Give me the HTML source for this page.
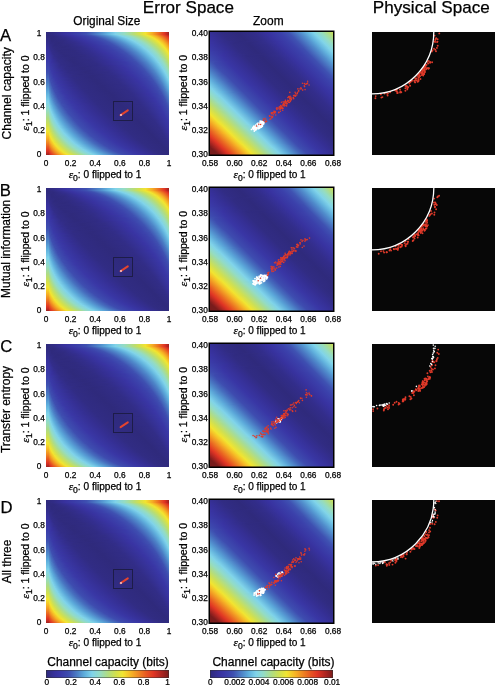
<!DOCTYPE html>
<html><head><meta charset="utf-8"><style>
html,body{margin:0;padding:0;background:#fff;}
body{width:495px;height:685px;position:relative;overflow:hidden;}
.a{position:absolute;}
.h1{width:123px;height:122.6px;background:linear-gradient(90deg,#2f2a7c 0.5px,#312c85 7.5px,#38329f 19.5px,#3b41ab 32.5px,#3e50b1 40.5px,#518ecd 54.5px,#64b5df 62.5px,#7fd2e9 69.5px,#95dcc2 78.5px,#badd72 88.5px,#d3e04d 93.5px,#f2e330 99.5px,#f5ab24 106.5px,#ea6622 113.5px,#e03424 118.5px,#b52722 121.5px,#a32421 122.5px) 0 0px/100% 1px no-repeat,linear-gradient(90deg,#2f2a7c 0.5px,#312c85 7.5px,#38329f 19.5px,#3b41ab 32.5px,#3e50b1 40.5px,#518ecd 54.5px,#64b5df 62.5px,#7fd2e9 69.5px,#95dcc2 78.5px,#badd72 88.5px,#d3e04d 93.5px,#f2e330 99.5px,#f5ab24 106.5px,#ea6622 113.5px,#e03424 118.5px,#b52722 121.5px,#a32421 122.5px) 0 1px/100% 1px no-repeat,linear-gradient(90deg,#2f2a7c 0.5px,#312c85 7.5px,#38329f 19.5px,#3b41ab 32.5px,#3e50b1 40.5px,#518ecd 54.5px,#64b5df 62.5px,#7fd2e9 69.5px,#95dcc2 78.5px,#badd72 88.5px,#d3e04d 93.5px,#f2e330 99.5px,#f5ab24 106.5px,#ea6622 113.5px,#e03424 118.5px,#b52722 121.5px,#a32421 122.5px) 0 2px/100% 1px no-repeat,linear-gradient(90deg,#2f2a7d 0.5px,#302b7f 6.5px,#342f91 16.5px,#3933a2 25.5px,#3c44ac 38.5px,#3f53b2 45.5px,#518dcc 58.5px,#64b5df 66.5px,#7fd3ea 73.5px,#96dcbf 82.5px,#b9dd73 91.5px,#d3e04d 96.5px,#efe533 101.5px,#f3da2d 103.5px,#f6af24 108.5px,#ec7222 114.5px,#e23b24 119.5px,#db3324 120.5px,#bb2922 122.5px) 0 3px/100% 1px no-repeat,linear-gradient(90deg,#302b7f 0.5px,#2f2a7e 7.5px,#342e8f 18.5px,#3833a0 27.5px,#3b41ab 40.5px,#3e50b1 48.5px,#528fcd 62.5px,#66b7df 70.5px,#7ed2e9 76.5px,#86d6df 79.5px,#96dcc0 85.5px,#badd72 94.5px,#d5e14c 99.5px,#f2e530 104.5px,#f6b025 110.5px,#ec7022 116.5px,#e03524 121.5px,#d13023 122.5px) 0 4px/100% 1px no-repeat,linear-gradient(90deg,#302b81 0.5px,#2f2a7d 7.5px,#332e8e 20.5px,#38329f 29.5px,#3b41ab 43.5px,#3e50b1 51.5px,#5290cd 65.5px,#67b8e0 73.5px,#7fd3ea 79.5px,#94dcc4 87.5px,#b8dd75 96.5px,#d3e14d 101.5px,#f2e530 106.5px,#f5ae24 112.5px,#ed7622 117.5px,#e13724 122.5px) 0 5px/100% 1px no-repeat,linear-gradient(90deg,#312c83 0.5px,#312c83 2.5px,#2f2a7c 5.5px,#322d88 19.5px,#38329f 32.5px,#3c42ab 46.5px,#3f51b1 54.5px,#518dcc 67.5px,#65b6df 75.5px,#81d4e9 82.5px,#96dcbe 90.5px,#b8dd75 98.5px,#d4e14c 103.5px,#f2e330 108.5px,#f5a924 114.5px,#eb6c22 119.5px,#e34423 122.5px) 0 6px/100% 1px no-repeat,linear-gradient(90deg,#312c84 0.5px,#312c84 2.5px,#2f2a7d 5.5px,#312c84 18.5px,#3833a0 35.5px,#3c43ab 49.5px,#3f54b2 57.5px,#5290ce 70.5px,#64b4de 77.5px,#80d4e9 84.5px,#96dcbf 92.5px,#b8dd74 100.5px,#d6e14b 105.5px,#f0e532 109.5px,#f4d62c 111.5px,#f5ad24 115.5px,#eb6d22 120.5px,#e65023 122.5px) 0 7px/100% 1px no-repeat,linear-gradient(90deg,#322d86 0.5px,#322d86 2.5px,#2f2a7d 5.5px,#302b81 17.5px,#342f92 28.5px,#3934a3 39.5px,#3c44ac 52.5px,#3f53b2 59.5px,#528fcd 72.5px,#63b4de 79.5px,#80d4ea 86.5px,#93dcc6 93.5px,#b4dd7a 101.5px,#d8e148 107.5px,#f2e32f 111.5px,#f6af24 116.5px,#ee7c22 120.5px,#e85c22 122.5px) 0 8px/100% 1px no-repeat,linear-gradient(90deg,#322d88 0.5px,#322d88 2.5px,#2f2a7e 5.5px,#302b7f 16.5px,#332e8e 28.5px,#3833a0 39.5px,#3b40ab 52.5px,#3f52b2 61.5px,#528fcd 74.5px,#64b4de 81.5px,#81d4e9 88.5px,#94dcc4 95.5px,#b7dd76 103.5px,#d6e14b 108.5px,#f1e531 112.5px,#f6b025 117.5px,#ed7a22 121.5px,#eb6a22 122.5px) 0 9px/100% 1px no-repeat,linear-gradient(90deg,#332d8b 0.5px,#332d8b 2.5px,#302b81 4.5px,#2f2a7c 12.5px,#332d8b 28.5px,#38329f 40.5px,#3b40ab 54.5px,#3f52b2 63.5px,#528fcd 76.5px,#64b5df 83.5px,#7ed1e9 89.5px,#87d7dd 92.5px,#95dcc1 97.5px,#b4dd7b 104.5px,#d4e14d 109.5px,#f0e532 113.5px,#f5c829 116.5px,#f29623 120.5px,#ed7722 122.5px) 0 10px/100% 1px no-repeat,linear-gradient(90deg,#332e8d 0.5px,#332e8d 2.5px,#302b82 4.5px,#2f2a7c 12.5px,#322d8a 29.5px,#38329f 42.5px,#3b41ab 56.5px,#3f53b2 65.5px,#508bcb 77.5px,#65b6df 85.5px,#7fd3ea 91.5px,#93dcc5 98.5px,#b8dd75 106.5px,#d9e148 111.5px,#efe533 114.5px,#f4d42c 116.5px,#f6b024 119.5px,#ef8422 122.5px) 0 11px/100% 1px no-repeat,linear-gradient(90deg,#342e90 0.5px,#342e90 2.5px,#322d87 3.5px,#2f2a7d 9.5px,#312c82 24.5px,#352f94 36.5px,#3937a5 50.5px,#3e50b1 66.5px,#518ccc 79.5px,#63b3de 86.5px,#81d4e9 93.5px,#96dcc0 100.5px,#b6dd77 107.5px,#d1e04f 111.5px,#efe533 115.5px,#f3df2e 116.5px,#f5ae24 120.5px,#f19022 122.5px) 0 12px/100% 1px no-repeat,linear-gradient(90deg,#342f93 0.5px,#342f93 2.5px,#322d88 3.5px,#2f2a7e 8.5px,#302b7f 21.5px,#342e8f 35.5px,#3833a1 47.5px,#3b41ab 60.5px,#3f51b1 68.5px,#518ecd 81.5px,#64b5df 88.5px,#7fd3ea 94.5px,#94dcc4 101.5px,#b5dd79 108.5px,#d0e050 112.5px,#efe533 116.5px,#f3de2e 117.5px,#f7b925 120.5px,#f39b23 122.5px) 0 13px/100% 1px no-repeat,linear-gradient(90deg,#352f95 0.5px,#352f95 2.5px,#332d8b 3.5px,#302b80 7.5px,#2f2a7d 19.5px,#332e8c 35.5px,#38329f 47.5px,#3b40aa 61.5px,#3f52b2 70.5px,#508bcb 82.5px,#62b3de 89.5px,#81d4e8 96.5px,#93dcc6 102.5px,#b4dd7b 109.5px,#d0e050 113.5px,#f0e532 117.5px,#f4d02b 119.5px,#f4a524 122.5px) 0 14px/100% 1px no-repeat,linear-gradient(90deg,#363098 0.5px,#363098 2.5px,#332e8d 3.5px,#312c82 6.5px,#2f2a7c 16.5px,#322d88 34.5px,#3833a0 49.5px,#3b41ab 63.5px,#3e50b1 71.5px,#518ecd 84.5px,#65b6df 91.5px,#80d4ea 97.5px,#96dcbf 104.5px,#b4dd7c 110.5px,#d0e050 114.5px,#f1e531 118.5px,#f6bf27 121.5px,#f6b024 122.5px) 0 15px/100% 1px no-repeat,linear-gradient(90deg,#36309a 0.5px,#36309a 2.5px,#322d89 4.5px,#302b7e 10.5px,#302b7f 24.5px,#332e8e 39.5px,#3833a0 51.5px,#3c42ab 65.5px,#3f52b2 73.5px,#508bcb 85.5px,#63b4de 92.5px,#7fd3ea 98.5px,#95dcc0 105.5px,#b3dd7c 111.5px,#d0e050 115.5px,#f2e430 119.5px,#f7ba25 122.5px) 0 16px/100% 1px no-repeat,linear-gradient(90deg,#37319c 0.5px,#37319c 2.5px,#332e8b 4.5px,#302b80 9.5px,#2f2a7d 22.5px,#332e8c 39.5px,#3833a0 52.5px,#3b41ab 66.5px,#3e4fb1 74.5px,#4f89ca 86.5px,#62b2de 93.5px,#7ed1e9 99.5px,#85d6e1 101.5px,#95dcc2 106.5px,#b3dd7c 112.5px,#d2e04f 116.5px,#ece436 119.5px,#f3e02f 120.5px,#f6c328 122.5px) 0 17px/100% 1px no-repeat,linear-gradient(90deg,#37319d 0.5px,#37319d 2.5px,#322d89 5.5px,#2f2a7d 13.5px,#302b80 29.5px,#332e8e 42.5px,#3833a0 54.5px,#3b40aa 67.5px,#3f52b2 76.5px,#518dcc 88.5px,#65b6df 95.5px,#81d4e8 101.5px,#95dcc3 107.5px,#b4dd7b 113.5px,#d3e04d 117.5px,#efe533 120.5px,#f3dc2e 121.5px,#f5cd2a 122.5px) 0 18px/100% 1px no-repeat,linear-gradient(90deg,#38329f 0.5px,#38329f 2.5px,#332d8b 5.5px,#302b7e 12.5px,#302b7e 27.5px,#332e8e 43.5px,#3934a2 57.5px,#3c43ab 70.5px,#3f50b1 77.5px,#508bcb 89.5px,#64b5de 96.5px,#81d4e9 102.5px,#94dcc3 108.5px,#b5dd7a 114.5px,#d5e14b 118.5px,#f2e530 121.5px,#f4d62c 122.5px) 0 19px/100% 1px no-repeat,linear-gradient(90deg,#3833a0 0.5px,#3833a0 2.5px,#322d89 6.5px,#2f2a7d 15.5px,#302b81 32.5px,#342e8f 45.5px,#3933a2 58.5px,#3c42ab 71.5px,#3f53b2 79.5px,#4f89ca 90.5px,#63b4de 97.5px,#80d4e9 103.5px,#95dcc3 109.5px,#b6dd78 115.5px,#d8e149 119.5px,#ece436 121.5px,#f3df2e 122.5px) 0 20px/100% 1px no-repeat,linear-gradient(90deg,#3933a2 0.5px,#3933a2 2.5px,#332d8b 6.5px,#302b7e 14.5px,#302b7f 30.5px,#332e8e 46.5px,#3934a2 60.5px,#3c43ac 73.5px,#3f51b1 80.5px,#518ecd 92.5px,#62b3de 98.5px,#80d4ea 104.5px,#95dcc2 110.5px,#b8dd75 116.5px,#d1e04f 119.5px,#f0e532 122.5px) 0 21px/100% 1px no-repeat,linear-gradient(90deg,#3934a3 0.5px,#3934a3 2.5px,#322d89 7.5px,#2f2a7d 17.5px,#302b81 35.5px,#342e8f 48.5px,#3934a3 62.5px,#3c44ac 75.5px,#3f50b1 81.5px,#518dcc 93.5px,#62b2de 99.5px,#80d4ea 105.5px,#95dcc1 111.5px,#b1dc7f 116.5px,#d5e14c 120.5px,#eae438 122.5px) 0 22px/100% 1px no-repeat,linear-gradient(90deg,#3935a4 0.5px,#3935a4 2.5px,#322d88 8.5px,#2f2a7d 19.5px,#312c82 38.5px,#342f92 51.5px,#3936a4 65.5px,#3d47ad 78.5px,#3f53b2 83.5px,#508ccc 94.5px,#61b2dd 100.5px,#80d4ea 106.5px,#96dcbf 112.5px,#b4dd7c 117.5px,#d9e148 121.5px,#e4e33d 122.5px) 0 23px/100% 1px no-repeat,linear-gradient(90deg,#3936a5 0.5px,#3936a5 2.5px,#322d89 8.5px,#2f2a7d 18.5px,#302b80 36.5px,#332e8e 50.5px,#3934a2 64.5px,#3c43ac 77.5px,#3f52b2 84.5px,#508bcb 95.5px,#61b2dd 101.5px,#80d4ea 107.5px,#92dbc7 112.5px,#a2dca2 115.5px,#b6dd78 118.5px,#d3e04e 121.5px,#dee243 122.5px) 0 24px/100% 1px no-repeat,linear-gradient(90deg,#3937a5 0.5px,#3937a5 2.5px,#342e8f 7.5px,#312c83 12.5px,#2f2a7c 26.5px,#322d88 47.5px,#3833a1 64.5px,#3b41ab 77.5px,#3f51b1 85.5px,#508bcb 96.5px,#61b1dd 102.5px,#80d4e9 108.5px,#93dcc6 113.5px,#b0dc81 118.5px,#d8e149 122.5px) 0 25px/100% 1px no-repeat,linear-gradient(90deg,#3a38a6 0.5px,#3a38a6 2.5px,#342e91 7.5px,#312c84 12.5px,#2f2a7c 26.5px,#322d87 47.5px,#3933a2 66.5px,#3c42ab 79.5px,#3f51b1 86.5px,#508acb 97.5px,#61b2dd 103.5px,#81d4e8 109.5px,#94dcc4 114.5px,#b3dd7c 119.5px,#d2e04e 122.5px) 0 26px/100% 1px no-repeat,linear-gradient(90deg,#3a39a7 0.5px,#3a39a7 2.5px,#353098 6.5px,#322d87 11.5px,#2f2a7c 24.5px,#312c83 44.5px,#352f94 57.5px,#3a3aa8 75.5px,#3e50b1 87.5px,#508acb 98.5px,#61b2dd 104.5px,#7cd0e9 109.5px,#81d5e7 110.5px,#95dcc1 115.5px,#b7dd76 120.5px,#cce056 122.5px) 0 27px/100% 1px no-repeat,linear-gradient(90deg,#3a3aa8 0.5px,#3a3aa8 2.5px,#36309a 6.5px,#322d88 11.5px,#2f2a7c 24.5px,#312c82 44.5px,#342f92 57.5px,#3936a5 72.5px,#3d4baf 86.5px,#4159b5 90.5px,#5290ce 100.5px,#62b2de 105.5px,#7dd1e9 110.5px,#86d6df 112.5px,#92dbc8 115.5px,#9ddcae 117.5px,#bcde6f 121.5px,#c6df5f 122.5px) 0 28px/100% 1px no-repeat,linear-gradient(90deg,#3a3ba9 0.5px,#3a3ba9 2.5px,#37329e 5.5px,#322d87 12.5px,#2f2a7c 26.5px,#312c84 47.5px,#352f95 60.5px,#3a3ba8 78.5px,#3e4fb0 89.5px,#4f8acb 100.5px,#62b3de 106.5px,#7ed2e9 111.5px,#93dcc6 116.5px,#addc87 120.5px,#c1de67 122.5px) 0 29px/100% 1px no-repeat,linear-gradient(90deg,#3b3da9 0.5px,#3b3da9 2.5px,#38329f 5.5px,#322d87 13.5px,#2f2a7c 27.5px,#312c84 48.5px,#352f95 61.5px,#3a3aa8 79.5px,#3e4eb0 90.5px,#4d83c8 100.5px,#63b3de 107.5px,#80d4ea 112.5px,#95dcc2 117.5px,#b1dc80 121.5px,#bbde6f 122.5px) 0 30px/100% 1px no-repeat,linear-gradient(90deg,#3b3faa 0.5px,#3b3faa 2.5px,#3935a4 4.5px,#322d86 14.5px,#2f2a7c 29.5px,#312c84 50.5px,#363098 64.5px,#3a3ca9 81.5px,#3e4eb0 91.5px,#4d84c8 101.5px,#64b4de 108.5px,#81d4e8 113.5px,#92dbc9 117.5px,#9edcac 119.5px,#b6dd78 122.5px) 0 31px/100% 1px no-repeat,linear-gradient(90deg,#3b41ab 0.5px,#3b41ab 2.5px,#3936a5 4.5px,#312c86 15.5px,#2f2a7c 30.5px,#312c84 51.5px,#363098 65.5px,#3a3ca9 82.5px,#3e4eb0 92.5px,#4d84c8 102.5px,#65b5df 109.5px,#7dd0e9 113.5px,#82d5e6 114.5px,#93dcc5 118.5px,#a8dc93 121.5px,#b1dc80 122.5px) 0 32px/100% 1px no-repeat,linear-gradient(90deg,#3c42ab 0.5px,#3c42ab 2.5px,#3937a5 4.5px,#322d88 14.5px,#2f2a7d 28.5px,#302b82 49.5px,#342e90 62.5px,#3935a3 76.5px,#3c44ac 88.5px,#3f53b2 94.5px,#4e85c8 103.5px,#60b0dd 109.5px,#7fd2e9 114.5px,#90dbcb 118.5px,#96dcbf 119.5px,#acdc88 122.5px) 0 33px/100% 1px no-repeat,linear-gradient(90deg,#3c44ac 0.5px,#3c44ac 2.5px,#3a38a6 4.5px,#332e8d 13.5px,#302b7f 23.5px,#2f2a7e 42.5px,#332e8b 60.5px,#3934a2 76.5px,#3c42ab 88.5px,#3f53b2 95.5px,#4e86c9 104.5px,#61b2dd 110.5px,#80d4e9 115.5px,#93dbc7 119.5px,#a0dca6 121.5px,#a8dc92 122.5px) 0 34px/100% 1px no-repeat,linear-gradient(90deg,#3c46ad 0.5px,#3c46ad 2.5px,#3a39a7 4.5px,#342f91 12.5px,#312c84 19.5px,#2f2a7c 36.5px,#322d87 58.5px,#3934a3 78.5px,#3c44ac 90.5px,#3f53b2 96.5px,#4e87c9 105.5px,#63b3de 111.5px,#7cd0e8 115.5px,#82d5e7 116.5px,#95dcc1 120.5px,#a5dc9b 122.5px) 0 35px/100% 1px no-repeat,linear-gradient(90deg,#3d47ad 0.5px,#3d47ad 2.5px,#3a3aa8 4.5px,#352f93 12.5px,#312c84 19.5px,#2f2a7c 36.5px,#322d86 58.5px,#3934a3 79.5px,#3c44ac 91.5px,#3f53b2 97.5px,#4f88ca 106.5px,#64b5df 112.5px,#7fd2e9 116.5px,#92dbc8 120.5px,#a1dca4 122.5px) 0 36px/100% 1px no-repeat,linear-gradient(90deg,#3d49ae 0.5px,#3d49ae 2.5px,#3a3ba8 4.5px,#363099 11.5px,#312c85 19.5px,#2f2a7c 36.5px,#312c85 58.5px,#3935a4 81.5px,#3c46ad 93.5px,#3f53b2 98.5px,#4f89ca 107.5px,#60b0dd 112.5px,#81d4e9 117.5px,#95dcc1 121.5px,#9ddcae 122.5px) 0 37px/100% 1px no-repeat,linear-gradient(90deg,#3d4baf 0.5px,#3d4baf 2.5px,#3a39a7 5.5px,#332e8e 15.5px,#302b81 24.5px,#2f2a7d 43.5px,#332d8b 64.5px,#3934a2 80.5px,#3c42ab 92.5px,#3e4fb0 98.5px,#4d83c7 107.5px,#62b2de 113.5px,#7dd0e9 117.5px,#83d5e5 118.5px,#92dbc8 121.5px,#99dcb6 122.5px) 0 38px/100% 1px no-repeat,linear-gradient(90deg,#3e4daf 0.5px,#3e4daf 2.5px,#3a3aa8 5.5px,#342f93 14.5px,#312c84 22.5px,#2f2a7c 40.5px,#322d87 62.5px,#3934a3 82.5px,#3c44ac 94.5px,#3e4fb0 99.5px,#4e85c8 108.5px,#64b5de 114.5px,#80d4ea 118.5px,#8fdacd 121.5px,#96dcbf 122.5px) 0 39px/100% 1px no-repeat,linear-gradient(90deg,#3e4fb1 0.5px,#3e4fb1 2.5px,#3b40aa 4.5px,#3934a3 8.5px,#312c86 21.5px,#2f2a7c 39.5px,#312c85 61.5px,#3935a4 84.5px,#3c44ac 95.5px,#3e50b1 100.5px,#4e87c9 109.5px,#60b0dd 114.5px,#7ccfe8 118.5px,#82d5e6 119.5px,#93dbc6 122.5px) 0 40px/100% 1px no-repeat,linear-gradient(90deg,#3f53b2 0.5px,#3f53b2 2.5px,#3d48ad 3.5px,#3a39a7 6.5px,#342f91 16.5px,#312c83 24.5px,#2f2a7c 43.5px,#322d88 65.5px,#3934a2 83.5px,#3b41ab 94.5px,#3f50b1 101.5px,#4c81c6 109.5px,#62b2de 115.5px,#7fd3ea 119.5px,#90dacb 122.5px) 0 41px/100% 1px no-repeat,linear-gradient(90deg,#4057b4 0.5px,#4057b4 2.5px,#3d49ae 3.5px,#3a38a6 7.5px,#332e8c 19.5px,#2f2a7e 33.5px,#302b7f 54.5px,#332e8d 70.5px,#3933a2 84.5px,#3b41ab 95.5px,#3f51b1 102.5px,#4d83c7 110.5px,#5eaedc 115.5px,#7bcee8 119.5px,#82d5e6 120.5px,#8dd9d1 122.5px) 0 42px/100% 1px no-repeat,linear-gradient(90deg,#425cb6 0.5px,#425cb6 2.5px,#3d4baf 3.5px,#3a39a7 7.5px,#342e90 18.5px,#312c82 27.5px,#2f2a7c 47.5px,#322d88 68.5px,#3933a2 85.5px,#3b41ab 96.5px,#3f52b2 103.5px,#4e85c8 111.5px,#60b1dd 116.5px,#7fd3ea 120.5px,#8bd8d5 122.5px) 0 43px/100% 1px no-repeat,linear-gradient(90deg,#4360b8 0.5px,#4360b8 2.5px,#3e4db0 3.5px,#3a3aa8 7.5px,#342f91 18.5px,#312c83 27.5px,#2f2a7c 46.5px,#322d87 68.5px,#3934a3 87.5px,#3c43ac 98.5px,#3e4eb0 103.5px,#4b80c6 111.5px,#63b4de 117.5px,#7bcee8 120.5px,#82d5e6 121.5px,#88d7da 122.5px) 0 44px/100% 1px no-repeat,linear-gradient(90deg,#4464ba 0.5px,#4464ba 2.5px,#3f50b1 3.5px,#3a3ba9 7.5px,#363099 16.5px,#312c86 25.5px,#2f2a7c 44.5px,#312c85 66.5px,#3936a5 90.5px,#3d47ad 101.5px,#4054b3 105.5px,#4c82c7 112.5px,#5fafdd 117.5px,#80d4ea 121.5px,#86d6df 122.5px) 0 45px/100% 1px no-repeat,linear-gradient(90deg,#4568bc 0.5px,#4568bc 2.5px,#4054b3 3.5px,#3c45ac 5.5px,#3936a5 10.5px,#312c85 27.5px,#2f2a7c 46.5px,#322d86 69.5px,#3934a3 89.5px,#3b41ab 99.5px,#3e50b1 105.5px,#4e85c8 113.5px,#63b3de 118.5px,#7ccfe8 121.5px,#83d5e4 122.5px) 0 46px/100% 1px no-repeat,linear-gradient(90deg,#466dbd 0.5px,#466dbd 2.5px,#4158b4 3.5px,#3e4caf 4.5px,#3a39a7 9.5px,#342f92 20.5px,#312c83 29.5px,#2f2a7c 49.5px,#322d87 71.5px,#3934a3 90.5px,#3c42ab 100.5px,#3f51b1 106.5px,#4b80c6 113.5px,#5fafdc 118.5px,#81d4e9 122.5px) 0 47px/100% 1px no-repeat,linear-gradient(90deg,#4771bf 0.5px,#4771bf 2.5px,#425db6 3.5px,#3e4eb0 4.5px,#3a3aa8 9.5px,#342f91 21.5px,#312c83 30.5px,#2f2a7c 50.5px,#322d87 72.5px,#3934a3 91.5px,#3c42ab 101.5px,#3f52b2 107.5px,#4d83c7 114.5px,#62b3de 119.5px,#7dd1e9 122.5px) 0 48px/100% 1px no-repeat,linear-gradient(90deg,#4876c1 0.5px,#4876c1 2.5px,#4361b8 3.5px,#3f52b2 4.5px,#3c42ab 7.5px,#3934a3 13.5px,#312c85 29.5px,#2f2a7c 49.5px,#322d86 72.5px,#3934a3 92.5px,#3c42ab 102.5px,#3e4eb0 107.5px,#4b7dc5 114.5px,#5eaedc 119.5px,#79cce7 122.5px) 0 49px/100% 1px no-repeat,linear-gradient(90deg,#497ac3 0.5px,#497ac3 2.5px,#4465ba 3.5px,#4056b3 4.5px,#3e4caf 5.5px,#3a38a6 11.5px,#342f93 22.5px,#312c84 31.5px,#2f2a7c 51.5px,#322d86 73.5px,#3934a3 93.5px,#3c43ac 103.5px,#3e50b1 108.5px,#4c81c6 115.5px,#62b3de 120.5px,#75c8e5 122.5px) 0 50px/100% 1px no-repeat,linear-gradient(90deg,#4b7fc5 0.5px,#4b7fc5 2.5px,#4569bc 3.5px,#3e4eb0 5.5px,#3a39a7 11.5px,#342f92 23.5px,#312c84 32.5px,#2f2a7c 52.5px,#322d86 74.5px,#3935a3 94.5px,#3c43ac 104.5px,#3f51b1 109.5px,#4d84c8 116.5px,#5fafdc 120.5px,#71c3e4 122.5px) 0 51px/100% 1px no-repeat,linear-gradient(90deg,#4d84c8 0.5px,#4d84c8 2.5px,#466ebe 3.5px,#3f52b2 5.5px,#3b40aa 9.5px,#3833a1 16.5px,#312c85 32.5px,#2f2a7c 52.5px,#312c85 74.5px,#3936a4 96.5px,#3c46ad 106.5px,#3f53b2 110.5px,#4b7fc6 116.5px,#63b4de 121.5px,#6dbfe2 122.5px) 0 52px/100% 1px no-repeat,linear-gradient(90deg,#4f88ca 0.5px,#4f88ca 2.5px,#4772c0 3.5px,#4056b4 5.5px,#3e4db0 6.5px,#3a38a6 13.5px,#342e91 25.5px,#312c83 35.5px,#2f2a7c 56.5px,#322d88 78.5px,#3934a3 95.5px,#3c42ab 105.5px,#3e4fb0 110.5px,#4a7ac3 116.5px,#60b0dd 121.5px,#69bae1 122.5px) 0 53px/100% 1px no-repeat,linear-gradient(90deg,#518dcc 0.5px,#518dcc 2.5px,#4977c2 3.5px,#3e4fb1 6.5px,#3a3aa8 12.5px,#342f93 25.5px,#312c84 35.5px,#2f2a7c 56.5px,#322d87 78.5px,#3935a4 97.5px,#3c43ab 106.5px,#3f51b1 111.5px,#4b7ec5 117.5px,#5dabda 121.5px,#65b6df 122.5px) 0 54px/100% 1px no-repeat,linear-gradient(90deg,#5392cf 0.5px,#5392cf 2.5px,#4a7bc4 3.5px,#3f54b2 6.5px,#3c45ac 9.5px,#3935a4 16.5px,#312c84 35.5px,#2f2a7c 56.5px,#322d86 78.5px,#3935a4 98.5px,#3c43ac 107.5px,#3e4db0 111.5px,#4979c3 117.5px,#61b2dd 122.5px) 0 55px/100% 1px no-repeat,linear-gradient(90deg,#5598d1 0.5px,#5598d1 2.5px,#4c80c6 3.5px,#4363b9 5.5px,#3e4eb0 7.5px,#3a39a7 14.5px,#342f92 27.5px,#312c83 37.5px,#2f2a7c 58.5px,#322d87 80.5px,#3934a3 98.5px,#3c42ab 107.5px,#3e4fb0 112.5px,#4b7ec5 118.5px,#5eaddc 122.5px) 0 56px/100% 1px no-repeat,linear-gradient(90deg,#579dd4 0.5px,#579dd4 2.5px,#4e85c8 3.5px,#4567bb 5.5px,#3f52b2 7.5px,#3b3faa 12.5px,#38329f 21.5px,#312c85 36.5px,#2f2a7c 57.5px,#312c85 79.5px,#3936a5 101.5px,#3d4aae 111.5px,#4158b5 114.5px,#4d83c7 119.5px,#5ba8d9 122.5px) 0 57px/100% 1px no-repeat,linear-gradient(90deg,#59a2d6 0.5px,#59a2d6 2.5px,#508acb 3.5px,#466cbd 5.5px,#3e4eb0 8.5px,#3a38a6 16.5px,#352f93 28.5px,#312c84 38.5px,#2f2a7c 59.5px,#322d86 81.5px,#3936a4 101.5px,#3c43ac 109.5px,#3e4eb0 113.5px,#4874c1 118.5px,#59a2d6 122.5px) 0 58px/100% 1px no-repeat,linear-gradient(90deg,#5ba7d9 0.5px,#5ba7d9 2.5px,#528fcd 3.5px,#4770bf 5.5px,#3f51b1 8.5px,#3a3aa8 15.5px,#342f93 29.5px,#312c84 39.5px,#2f2a7c 60.5px,#322d86 82.5px,#3936a4 102.5px,#3c46ad 111.5px,#3e50b1 114.5px,#4979c3 119.5px,#579dd4 122.5px) 0 59px/100% 1px no-repeat,linear-gradient(90deg,#5dacdb 0.5px,#5dacdb 2.5px,#5494d0 3.5px,#4875c1 5.5px,#3e4db0 9.5px,#3a38a6 17.5px,#342f93 30.5px,#312c83 41.5px,#2f2a7c 63.5px,#322d87 84.5px,#3935a4 102.5px,#3c45ac 111.5px,#3f53b2 115.5px,#4b7ec5 120.5px,#5598d1 122.5px) 0 60px/100% 1px no-repeat,linear-gradient(90deg,#60b1dd 0.5px,#60b1dd 2.5px,#569ad2 3.5px,#4979c3 5.5px,#3f51b1 9.5px,#3a3ba8 16.5px,#352f94 30.5px,#312c84 41.5px,#2f2a7c 63.5px,#322d87 85.5px,#3934a3 102.5px,#3b40ab 110.5px,#3e4fb0 115.5px,#497ac3 120.5px,#5392cf 122.5px) 0 61px/100% 1px no-repeat,linear-gradient(90deg,#64b5de 0.5px,#64b5de 2.5px,#518dcc 4.5px,#4567bb 7.5px,#3e4db0 10.5px,#3a37a6 19.5px,#342f92 32.5px,#312c83 43.5px,#2f2a7c 65.5px,#322d87 86.5px,#3934a3 103.5px,#3b41ab 111.5px,#3f52b2 116.5px,#4c80c6 121.5px,#518dcc 122.5px) 0 62px/100% 1px no-repeat,linear-gradient(90deg,#68b9e0 0.5px,#68b9e0 2.5px,#5aa4d7 3.5px,#4d83c7 5.5px,#4159b5 9.5px,#3e4caf 11.5px,#3a37a6 20.5px,#342f92 33.5px,#312c83 44.5px,#2f2a7c 66.5px,#322d88 87.5px,#3935a4 104.5px,#3c42ab 112.5px,#3e4eb0 116.5px,#4a7bc4 121.5px,#4f88ca 122.5px) 0 63px/100% 1px no-repeat,linear-gradient(90deg,#6bbde1 0.5px,#6bbde1 2.5px,#5ca9da 3.5px,#4f88ca 5.5px,#425db7 9.5px,#3e4eb0 11.5px,#3a38a6 20.5px,#352f93 33.5px,#312c84 44.5px,#2f2a7c 66.5px,#322d87 87.5px,#3936a5 106.5px,#3c46ad 114.5px,#3f51b1 117.5px,#4977c2 121.5px,#4d83c7 122.5px) 0 64px/100% 1px no-repeat,linear-gradient(90deg,#6fc1e3 0.5px,#6fc1e3 2.5px,#5eaedc 3.5px,#518dcc 5.5px,#466bbd 8.5px,#3f51b1 11.5px,#3a3aa8 19.5px,#342f93 34.5px,#312c84 45.5px,#2f2a7c 67.5px,#322d87 88.5px,#3936a5 107.5px,#3d47ad 115.5px,#3e4eb0 117.5px,#4772c0 121.5px,#4b7ec5 122.5px) 0 65px/100% 1px no-repeat,linear-gradient(90deg,#73c5e5 0.5px,#73c5e5 2.5px,#62b3de 3.5px,#4e85c8 6.5px,#425eb7 10.5px,#3e4eb0 12.5px,#3a38a7 21.5px,#342f93 35.5px,#312c84 46.5px,#2f2a7c 68.5px,#322d87 89.5px,#3935a4 107.5px,#3c43ab 114.5px,#3f51b1 118.5px,#4979c3 122.5px) 0 66px/100% 1px no-repeat,linear-gradient(90deg,#76c9e6 0.5px,#76c9e6 2.5px,#66b7df 3.5px,#5598d1 5.5px,#4874c1 8.5px,#3f52b2 12.5px,#3b3faa 18.5px,#37329e 29.5px,#312c84 46.5px,#2f2a7c 68.5px,#312c86 89.5px,#3a37a6 109.5px,#3d4aae 117.5px,#4055b3 119.5px,#4875c1 122.5px) 0 67px/100% 1px no-repeat,linear-gradient(90deg,#7acee8 0.5px,#7acee8 2.5px,#5daddb 4.5px,#4d83c8 7.5px,#4057b4 12.5px,#3e4caf 14.5px,#3a38a6 23.5px,#342f93 37.5px,#312c84 48.5px,#2f2a7c 70.5px,#322d87 91.5px,#3935a4 108.5px,#3c42ab 115.5px,#3f51b1 119.5px,#4770bf 122.5px) 0 68px/100% 1px no-repeat,linear-gradient(90deg,#7ed2e9 0.5px,#7ed2e9 2.5px,#61b1dd 4.5px,#4b7dc5 8.5px,#3f54b2 13.5px,#3d48ae 16.5px,#3936a5 25.5px,#342f92 38.5px,#312c84 49.5px,#2f2a7c 71.5px,#322d87 92.5px,#3935a4 109.5px,#3c43ac 116.5px,#3e4eb0 119.5px,#466cbd 122.5px) 0 69px/100% 1px no-repeat,linear-gradient(90deg,#81d4e8 0.5px,#81d4e8 2.5px,#64b5df 4.5px,#518ecd 7.5px,#4567bb 11.5px,#3e4caf 15.5px,#3a37a6 25.5px,#342f92 39.5px,#312c84 50.5px,#2f2a7c 72.5px,#322d87 93.5px,#3936a4 110.5px,#3c45ac 117.5px,#3f52b2 120.5px,#4567bb 122.5px) 0 70px/100% 1px no-repeat,linear-gradient(90deg,#83d5e3 0.5px,#83d5e3 2.5px,#75c8e5 3.5px,#5eaddc 5.5px,#4a7dc5 9.5px,#3e4eb0 15.5px,#3a38a7 25.5px,#352f94 39.5px,#312c84 51.5px,#2f2a7c 73.5px,#322d86 93.5px,#3a38a6 112.5px,#3d4aae 119.5px,#3e4eb0 120.5px,#4363b9 122.5px) 0 71px/100% 1px no-repeat,linear-gradient(90deg,#86d6df 0.5px,#86d6df 2.5px,#79cce7 3.5px,#61b2dd 5.5px,#4d82c7 9.5px,#3f53b2 15.5px,#3b41ab 21.5px,#3833a1 31.5px,#312c84 51.5px,#2f2a7c 73.5px,#312c85 93.5px,#3937a5 112.5px,#3d48ae 119.5px,#3f54b2 121.5px,#425eb7 122.5px) 0 72px/100% 1px no-repeat,linear-gradient(90deg,#88d7db 0.5px,#88d7db 2.5px,#7dd1e9 3.5px,#5dabda 6.5px,#4b7ec5 10.5px,#3f50b1 16.5px,#3a39a7 26.5px,#352f94 41.5px,#312c84 53.5px,#2f2a7c 75.5px,#322d87 95.5px,#3a37a6 113.5px,#3d4aaf 120.5px,#3e4fb1 121.5px,#415ab5 122.5px) 0 73px/100% 1px no-repeat,linear-gradient(90deg,#8bd8d6 0.5px,#8bd8d6 2.5px,#81d4e9 3.5px,#5fb0dd 6.5px,#497ac3 11.5px,#3e4eb0 17.5px,#3a38a6 28.5px,#352f94 42.5px,#312c84 54.5px,#2f2a7c 76.5px,#322d87 96.5px,#3936a5 113.5px,#3c45ac 119.5px,#3e4db0 121.5px,#4056b3 122.5px) 0 74px/100% 1px no-repeat,linear-gradient(90deg,#8dd9d1 0.5px,#8dd9d1 2.5px,#83d5e4 3.5px,#78cbe7 4.5px,#5ca9da 7.5px,#4876c1 12.5px,#3e4db0 18.5px,#3a37a6 29.5px,#352f94 43.5px,#312c84 55.5px,#2f2a7c 77.5px,#322d87 97.5px,#3937a5 114.5px,#3d47ad 120.5px,#3f52b2 122.5px) 0 75px/100% 1px no-repeat,linear-gradient(90deg,#8fdacd 0.5px,#8fdacd 2.5px,#85d6e0 3.5px,#7ccfe8 4.5px,#5eaedc 7.5px,#4a7bc3 12.5px,#3f51b1 18.5px,#3a39a7 28.5px,#352f93 44.5px,#312c84 56.5px,#2f2a7c 78.5px,#322d87 98.5px,#3936a5 114.5px,#3c45ac 120.5px,#3e4eb0 122.5px) 0 76px/100% 1px no-repeat,linear-gradient(90deg,#92dbc8 0.5px,#92dbc8 2.5px,#80d4ea 4.5px,#62b3de 7.5px,#4978c2 13.5px,#3e4fb0 19.5px,#3a38a6 30.5px,#352f93 45.5px,#312c84 57.5px,#2f2a7c 79.5px,#322d86 98.5px,#3937a5 115.5px,#3d48ad 121.5px,#3e4caf 122.5px) 0 77px/100% 1px no-repeat,linear-gradient(90deg,#94dcc3 0.5px,#94dcc3 2.5px,#82d5e5 4.5px,#79cce7 5.5px,#5eaedc 8.5px,#4a7dc4 13.5px,#3e4eb0 20.5px,#3a37a6 32.5px,#352f93 46.5px,#312c84 58.5px,#2f2a7c 80.5px,#322d86 99.5px,#3936a4 115.5px,#3c42ab 120.5px,#3d4aaf 122.5px) 0 78px/100% 1px no-repeat,linear-gradient(90deg,#98dcbb 0.5px,#98dcbb 2.5px,#8dd9d2 3.5px,#85d6e1 4.5px,#7dd1e9 5.5px,#5ca8d9 9.5px,#497ac3 14.5px,#3e4db0 21.5px,#3937a5 33.5px,#352f93 47.5px,#312c84 59.5px,#2f2a7c 81.5px,#322d86 100.5px,#3936a5 116.5px,#3c44ac 121.5px,#3d49ae 122.5px) 0 79px/100% 1px no-repeat,linear-gradient(90deg,#9bdcb3 0.5px,#9bdcb3 2.5px,#8fdacd 3.5px,#81d4e9 5.5px,#5eaedc 9.5px,#4977c2 15.5px,#3f50b1 21.5px,#3a39a7 32.5px,#352f93 48.5px,#312c84 60.5px,#2f2a7c 82.5px,#322d87 101.5px,#3a37a6 117.5px,#3d47ad 122.5px) 0 80px/100% 1px no-repeat,linear-gradient(90deg,#9edcab 0.5px,#9edcab 2.5px,#92dbc8 3.5px,#83d5e4 5.5px,#7bcfe8 6.5px,#5ca9da 10.5px,#4875c1 16.5px,#3e4fb0 22.5px,#3a38a6 34.5px,#352f93 49.5px,#312c84 61.5px,#2f2a7c 83.5px,#322d87 102.5px,#3936a5 117.5px,#3c45ac 122.5px) 0 81px/100% 1px no-repeat,linear-gradient(90deg,#a2dca2 0.5px,#a2dca2 2.5px,#94dcc3 3.5px,#86d6df 5.5px,#80d4ea 6.5px,#5fafdc 10.5px,#497ac3 16.5px,#3e4eb0 23.5px,#3a38a6 35.5px,#352f93 50.5px,#312c84 62.5px,#2f2a7c 84.5px,#312c86 102.5px,#3935a4 117.5px,#3c43ac 122.5px) 0 82px/100% 1px no-repeat,linear-gradient(90deg,#a5dc9a 0.5px,#a5dc9a 2.5px,#98dcbb 3.5px,#8fdace 4.5px,#82d5e6 6.5px,#7bcee8 7.5px,#5dabda 11.5px,#4977c2 17.5px,#3e4db0 24.5px,#3a38a6 36.5px,#352f93 51.5px,#312c84 63.5px,#2f2a7c 85.5px,#322d86 103.5px,#3936a5 118.5px,#3c42ab 122.5px) 0 83px/100% 1px no-repeat,linear-gradient(90deg,#a9dc91 0.5px,#a9dc91 2.5px,#9bdcb2 3.5px,#92dbc9 4.5px,#7fd3ea 7.5px,#60b0dd 11.5px,#4876c1 18.5px,#3e4db0 25.5px,#3a38a6 37.5px,#352f94 52.5px,#312c84 64.5px,#2f2a7c 86.5px,#322d86 104.5px,#3935a4 118.5px,#3b40aa 122.5px) 0 84px/100% 1px no-repeat,linear-gradient(90deg,#acdc89 0.5px,#acdc89 2.5px,#9fdcaa 3.5px,#94dcc3 4.5px,#82d5e6 7.5px,#73c5e4 9.5px,#5aa4d7 13.5px,#4874c0 19.5px,#3e4daf 26.5px,#3a37a6 38.5px,#352f94 53.5px,#312c84 65.5px,#2f2a7c 87.5px,#322d87 105.5px,#3936a5 119.5px,#3b3eaa 122.5px) 0 85px/100% 1px no-repeat,linear-gradient(90deg,#b0dc81 0.5px,#b0dc81 2.5px,#a2dca1 3.5px,#98dcbb 4.5px,#90dacc 5.5px,#7fd3ea 8.5px,#5ca9da 13.5px,#4772c0 20.5px,#3e4caf 27.5px,#3a37a6 39.5px,#352f94 54.5px,#312c83 67.5px,#2f2a7c 89.5px,#322d87 106.5px,#3935a4 119.5px,#3b3da9 122.5px) 0 86px/100% 1px no-repeat,linear-gradient(90deg,#b5dd7a 0.5px,#b5dd7a 2.5px,#9bdcb2 4.5px,#93dbc6 5.5px,#82d5e6 8.5px,#74c6e5 10.5px,#5ba6d8 14.5px,#4771bf 21.5px,#3e4fb0 27.5px,#3a37a6 40.5px,#352f94 55.5px,#312c83 68.5px,#2f2a7c 90.5px,#322d87 107.5px,#3936a5 120.5px,#3a3ba8 122.5px) 0 87px/100% 1px no-repeat,linear-gradient(90deg,#badd72 0.5px,#badd72 2.5px,#a9dc90 3.5px,#96dcc0 5.5px,#85d6e1 8.5px,#80d3ea 9.5px,#5dacdb 14.5px,#4876c1 21.5px,#3e4eb0 28.5px,#3a37a6 41.5px,#352f94 56.5px,#312c83 69.5px,#2f2a7c 91.5px,#322d87 108.5px,#3935a4 120.5px,#3a3aa8 122.5px) 0 88px/100% 1px no-repeat,linear-gradient(90deg,#bede6b 0.5px,#bede6b 2.5px,#addc87 3.5px,#99dcb7 5.5px,#92dbc8 6.5px,#82d5e6 9.5px,#7cd0e8 10.5px,#5caada 15.5px,#4875c1 22.5px,#3e4eb0 29.5px,#3a37a6 42.5px,#352f94 57.5px,#312c83 70.5px,#2f2a7c 92.5px,#322d86 108.5px,#3937a5 121.5px,#3a39a7 122.5px) 0 89px/100% 1px no-repeat,linear-gradient(90deg,#c3de64 0.5px,#c3de64 2.5px,#b2dc7f 3.5px,#9ddcae 5.5px,#95dcc2 6.5px,#80d4e9 10.5px,#5ba7d9 16.5px,#4874c0 23.5px,#3e4eb0 30.5px,#3a38a6 43.5px,#352f94 58.5px,#312c83 71.5px,#2f2a7c 93.5px,#322d87 109.5px,#3936a4 121.5px,#3a38a6 122.5px) 0 90px/100% 1px no-repeat,linear-gradient(90deg,#c8df5c 0.5px,#c8df5c 2.5px,#b6dd77 3.5px,#a1dca5 5.5px,#92dbc8 7.5px,#83d5e4 10.5px,#7ed2e9 11.5px,#5eaddc 16.5px,#4873c0 24.5px,#3e4eb0 31.5px,#3937a5 45.5px,#352f94 59.5px,#312c83 72.5px,#2f2a7c 94.5px,#322d87 110.5px,#3935a4 121.5px,#3937a5 122.5px) 0 91px/100% 1px no-repeat,linear-gradient(90deg,#cde054 0.5px,#cde054 2.5px,#bbde6f 3.5px,#a4dc9c 5.5px,#95dcc2 7.5px,#81d5e7 11.5px,#6ec0e3 14.5px,#5aa3d7 18.5px,#466cbd 26.5px,#3e4db0 32.5px,#3937a5 46.5px,#342f93 61.5px,#312c83 74.5px,#2f2a7c 95.5px,#322d88 111.5px,#3936a5 122.5px) 0 92px/100% 1px no-repeat,linear-gradient(90deg,#d2e04e 0.5px,#d2e04e 2.5px,#b2dd7d 4.5px,#99dcb9 7.5px,#92dbc7 8.5px,#80d4ea 12.5px,#5ca9da 18.5px,#4772bf 26.5px,#3e4db0 33.5px,#3937a5 47.5px,#342f93 62.5px,#312c83 75.5px,#2f2a7c 96.5px,#322d86 111.5px,#3935a4 122.5px) 0 93px/100% 1px no-repeat,linear-gradient(90deg,#d7e149 0.5px,#d7e149 2.5px,#b8dd75 4.5px,#9cdcaf 7.5px,#95dcc0 8.5px,#83d5e5 12.5px,#7ed1e9 13.5px,#5ca8d9 19.5px,#4771bf 27.5px,#3e4db0 34.5px,#3937a5 48.5px,#352f93 63.5px,#312c83 76.5px,#2f2a7c 97.5px,#322d87 112.5px,#3934a3 122.5px) 0 94px/100% 1px no-repeat,linear-gradient(90deg,#dde244 0.5px,#dde244 2.5px,#bdde6e 4.5px,#a8dc93 6.5px,#93dcc6 9.5px,#81d5e7 13.5px,#6fc1e3 16.5px,#5ba6d8 20.5px,#4771bf 28.5px,#3e4db0 35.5px,#3937a5 49.5px,#352f94 64.5px,#312c83 77.5px,#2f2a7c 98.5px,#322d87 113.5px,#3934a2 122.5px) 0 95px/100% 1px no-repeat,linear-gradient(90deg,#e2e33f 0.5px,#e2e33f 2.5px,#c2de65 4.5px,#a4dc9c 7.5px,#97dcbe 9.5px,#88d7da 12.5px,#80d4e9 14.5px,#5eaddc 20.5px,#4770bf 29.5px,#3e4db0 36.5px,#3a37a6 50.5px,#352f94 65.5px,#312c83 78.5px,#2f2a7c 99.5px,#322d86 113.5px,#3833a1 122.5px) 0 96px/100% 1px no-repeat,linear-gradient(90deg,#e7e33a 0.5px,#e7e33a 2.5px,#c7df5d 4.5px,#a8dc93 7.5px,#94dcc4 10.5px,#7fd3ea 15.5px,#5dacdb 21.5px,#4770bf 30.5px,#3e4eb0 37.5px,#3a37a6 51.5px,#352f94 66.5px,#312c83 79.5px,#2f2a7c 100.5px,#322d87 114.5px,#38329f 122.5px) 0 97px/100% 1px no-repeat,linear-gradient(90deg,#ede435 0.5px,#ede435 2.5px,#cde055 4.5px,#acdc89 7.5px,#98dcba 10.5px,#8edacf 12.5px,#82d5e6 15.5px,#7dd1e9 16.5px,#5dabdb 22.5px,#4770bf 31.5px,#3e4eb0 38.5px,#3a37a6 52.5px,#352f95 67.5px,#312c83 80.5px,#2f2a7c 101.5px,#322d87 115.5px,#37329e 122.5px) 0 98px/100% 1px no-repeat,linear-gradient(90deg,#f2e430 0.5px,#f2e430 2.5px,#d2e04e 4.5px,#b1dc7f 7.5px,#96dcbf 11.5px,#81d5e7 16.5px,#71c3e4 19.5px,#5aa3d7 24.5px,#466bbd 33.5px,#3e4eb0 39.5px,#3937a5 54.5px,#342f93 69.5px,#312c83 82.5px,#2f2a7c 102.5px,#322d86 115.5px,#37319d 122.5px) 0 99px/100% 1px no-repeat,linear-gradient(90deg,#f3dd2e 0.5px,#f3dd2e 2.5px,#e6e33b 3.5px,#c1de68 6.5px,#a7dc96 9.5px,#94dcc3 12.5px,#81d4e9 17.5px,#5caada 24.5px,#4771bf 33.5px,#3e4caf 41.5px,#3937a5 55.5px,#352f94 70.5px,#312c83 83.5px,#2f2a7c 103.5px,#322d87 116.5px,#37319c 122.5px) 0 100px/100% 1px no-repeat,linear-gradient(90deg,#f4d52c 0.5px,#f4d52c 2.5px,#ece436 3.5px,#c6df5f 6.5px,#abdc8c 9.5px,#93dcc6 13.5px,#80d4ea 18.5px,#5caada 25.5px,#4771bf 34.5px,#3e4daf 42.5px,#3a37a6 56.5px,#352f94 71.5px,#312c83 84.5px,#2f2a7c 104.5px,#312c86 116.5px,#352f96 121.5px,#36309a 122.5px) 0 101px/100% 1px no-repeat,linear-gradient(90deg,#f5cd2a 0.5px,#f5cd2a 2.5px,#f2e530 3.5px,#cce056 6.5px,#a9dc91 10.5px,#97dcbc 13.5px,#8ad8d6 16.5px,#80d4ea 19.5px,#5caada 26.5px,#466dbd 36.5px,#3e4db0 43.5px,#3936a5 58.5px,#352f94 72.5px,#312c83 85.5px,#2f2a7c 105.5px,#322d86 117.5px,#363098 122.5px) 0 102px/100% 1px no-repeat,linear-gradient(90deg,#f6c528 0.5px,#f6c528 2.5px,#f3dd2e 3.5px,#e9e438 4.5px,#c8df5d 7.5px,#a7dc96 11.5px,#96dcbf 14.5px,#83d5e5 19.5px,#7fd3ea 20.5px,#5caada 27.5px,#466dbe 37.5px,#3e4db0 44.5px,#3937a5 59.5px,#342f93 74.5px,#312c83 87.5px,#2f2a7c 106.5px,#322d87 118.5px,#352f96 122.5px) 0 103px/100% 1px no-repeat,linear-gradient(90deg,#f6bd26 0.5px,#f6bd26 2.5px,#f4d52c 3.5px,#f0e532 4.5px,#cee054 7.5px,#abdc8b 11.5px,#95dcc2 15.5px,#7fd3ea 21.5px,#5caada 28.5px,#466ebe 38.5px,#3e4eb0 45.5px,#3937a5 60.5px,#352f94 75.5px,#312c84 87.5px,#2f2a7c 106.5px,#312c86 118.5px,#352f94 122.5px) 0 104px/100% 1px no-repeat,linear-gradient(90deg,#f6b525 0.5px,#f6b525 2.5px,#f3e02f 4.5px,#e9e438 5.5px,#cadf59 8.5px,#aadc8e 12.5px,#94dcc3 16.5px,#7fd3e9 22.5px,#5dabda 29.5px,#476fbf 39.5px,#3e4caf 47.5px,#3936a5 62.5px,#352f94 76.5px,#312c83 89.5px,#2f2a7c 108.5px,#322d87 119.5px,#342f91 122.5px) 0 105px/100% 1px no-repeat,linear-gradient(90deg,#f5ac24 0.5px,#f5ac24 2.5px,#f6c428 3.5px,#f3d82d 4.5px,#f0e532 5.5px,#d0e050 8.5px,#a9dc91 13.5px,#94dcc4 17.5px,#7fd3ea 23.5px,#5dacdb 30.5px,#4771bf 40.5px,#3e4db0 48.5px,#3937a5 63.5px,#352f95 77.5px,#312c83 90.5px,#2f2a7c 109.5px,#312c85 119.5px,#342e8f 122.5px) 0 106px/100% 1px no-repeat,linear-gradient(90deg,#f4a324 0.5px,#f4a324 2.5px,#f7bc26 3.5px,#f3e02f 5.5px,#ebe437 6.5px,#cde054 9.5px,#a8dc93 14.5px,#94dcc5 18.5px,#7fd3ea 24.5px,#5ba6d8 32.5px,#466dbd 42.5px,#3e4db0 49.5px,#3937a5 64.5px,#352f94 79.5px,#312c83 91.5px,#2f2a7c 110.5px,#322d86 120.5px,#332e8d 122.5px) 0 107px/100% 1px no-repeat,linear-gradient(90deg,#f29a23 0.5px,#f29a23 2.5px,#f6b325 3.5px,#f4d72d 5.5px,#f1e531 6.5px,#cbdf57 10.5px,#a7dc95 15.5px,#93dcc5 19.5px,#80d3ea 25.5px,#5ba7d9 33.5px,#466ebe 43.5px,#3e4caf 51.5px,#3936a5 66.5px,#352f94 80.5px,#312c83 92.5px,#2f2a7c 110.5px,#312c85 120.5px,#332d8b 122.5px) 0 108px/100% 1px no-repeat,linear-gradient(90deg,#f19122 0.5px,#f19122 2.5px,#f6bd26 4.5px,#f3dd2e 6.5px,#ede434 7.5px,#c9df5a 11.5px,#a7dc96 16.5px,#94dcc5 20.5px,#80d4ea 26.5px,#5ca9da 34.5px,#466bbd 45.5px,#3e4db0 52.5px,#3937a5 67.5px,#352f95 81.5px,#312c83 94.5px,#2f2a7c 112.5px,#312c86 121.5px,#322d89 122.5px) 0 109px/100% 1px no-repeat,linear-gradient(90deg,#f08722 0.5px,#f08722 2.5px,#f6b425 4.5px,#f2e22f 7.5px,#d0e050 11.5px,#acdc8a 16.5px,#94dcc4 21.5px,#81d4e9 27.5px,#5dabda 35.5px,#466dbe 46.5px,#3e4caf 54.5px,#3936a5 69.5px,#352f94 83.5px,#312c83 95.5px,#2f2a7c 112.5px,#312c85 121.5px,#322d87 122.5px) 0 110px/100% 1px no-repeat,linear-gradient(90deg,#ee7d22 0.5px,#ee7d22 2.5px,#f29623 3.5px,#f7bb26 5.5px,#f2e530 8.5px,#cfe052 12.5px,#a7dc96 18.5px,#94dcc4 22.5px,#81d4e8 28.5px,#6abce1 33.5px,#59a0d6 38.5px,#456abc 48.5px,#3e4db0 55.5px,#3937a5 70.5px,#352f95 84.5px,#312c83 96.5px,#2f2a7c 113.5px,#312c86 122.5px) 0 111px/100% 1px no-repeat,linear-gradient(90deg,#ec7222 0.5px,#ec7222 2.5px,#f08c22 3.5px,#f6c127 6.5px,#f3dc2e 8.5px,#efe532 9.5px,#cee053 13.5px,#a7dc95 19.5px,#95dcc2 23.5px,#82d5e6 29.5px,#7ed2e9 30.5px,#5ca9da 38.5px,#466dbd 49.5px,#3e4caf 57.5px,#3936a5 72.5px,#352f94 86.5px,#312c83 98.5px,#2f2a7d 115.5px,#312c85 122.5px) 0 112px/100% 1px no-repeat,linear-gradient(90deg,#ea6822 0.5px,#ea6822 2.5px,#ef8122 3.5px,#f4a724 5.5px,#f4d22b 8.5px,#f3df2e 9.5px,#eee434 10.5px,#cee053 14.5px,#a8dc94 20.5px,#96dcc0 24.5px,#80d4ea 31.5px,#5ba6d8 40.5px,#456bbc 51.5px,#3e4db0 58.5px,#3937a5 73.5px,#352f95 87.5px,#312c83 99.5px,#2f2a7c 115.5px,#312c83 122.5px) 0 113px/100% 1px no-repeat,linear-gradient(90deg,#e85d22 0.5px,#e85d22 2.5px,#f08b22 4.5px,#f7bb26 7.5px,#f3e02f 10.5px,#ede435 11.5px,#cee053 15.5px,#a8dc92 21.5px,#93dcc6 26.5px,#81d4e8 32.5px,#5ca9d9 41.5px,#466dbe 52.5px,#3e4caf 60.5px,#3937a5 75.5px,#352f94 89.5px,#312c83 101.5px,#2f2a7d 117.5px,#312c82 122.5px) 0 114px/100% 1px no-repeat,linear-gradient(90deg,#e75322 0.5px,#e75322 2.5px,#ee8022 4.5px,#f6b024 7.5px,#f2e12f 11.5px,#e5e33c 13.5px,#cfe052 16.5px,#a9dc8f 22.5px,#94dcc4 27.5px,#7fd3ea 34.5px,#5ba6d8 43.5px,#466cbd 54.5px,#3e4caf 62.5px,#3936a5 77.5px,#352f95 90.5px,#312c83 102.5px,#2f2a7c 117.5px,#302b81 122.5px) 0 115px/100% 1px no-repeat,linear-gradient(90deg,#e54923 0.5px,#e54923 2.5px,#ef8622 5.5px,#f6bf27 9.5px,#f2e12f 12.5px,#e5e33c 14.5px,#d0e050 17.5px,#a6dc97 24.5px,#92dbc7 29.5px,#81d4e8 35.5px,#5caada 44.5px,#476fbe 55.5px,#3e4db0 63.5px,#3936a5 79.5px,#352f94 92.5px,#312c82 104.5px,#2f2a7c 118.5px,#302b80 122.5px) 0 116px/100% 1px no-repeat,linear-gradient(90deg,#e24023 0.5px,#e24023 2.5px,#ed7a22 5.5px,#f6b325 9.5px,#f2e12f 13.5px,#e6e33b 15.5px,#cbdf58 19.5px,#a8dc93 25.5px,#94dcc5 30.5px,#80d4ea 37.5px,#5ca8d9 46.5px,#466ebe 57.5px,#3e4db0 65.5px,#3936a5 81.5px,#352f94 94.5px,#312c83 105.5px,#2f2a7c 119.5px,#302b7f 122.5px) 0 117px/100% 1px no-repeat,linear-gradient(90deg,#e03524 0.5px,#e03524 2.5px,#ee7d22 6.5px,#f6b425 10.5px,#f3df2f 14.5px,#efe533 15.5px,#cde055 20.5px,#a6dc98 27.5px,#92dbc7 32.5px,#7fd2e9 39.5px,#5ba7d9 48.5px,#466ebe 59.5px,#3e4db0 67.5px,#3936a5 83.5px,#342f93 96.5px,#312c82 107.5px,#2f2a7c 120.5px,#302b7e 122.5px) 0 118px/100% 1px no-repeat,linear-gradient(90deg,#d43124 0.5px,#d43124 2.5px,#e23f23 3.5px,#f18d22 8.5px,#f6be26 12.5px,#f1e531 16.5px,#cfe051 21.5px,#a8dc92 28.5px,#95dcc3 33.5px,#81d4e8 40.5px,#71c3e4 44.5px,#59a1d6 51.5px,#4569bc 62.5px,#3e4db0 69.5px,#3936a5 85.5px,#352f95 97.5px,#312c83 108.5px,#2f2a7d 121.5px,#2f2a7d 122.5px) 0 119px/100% 1px no-repeat,linear-gradient(90deg,#c62c23 0.5px,#c62c23 2.5px,#e03424 3.5px,#f08d22 9.5px,#f5c628 14.5px,#f2e330 17.5px,#cce055 23.5px,#a7dc95 30.5px,#94dcc4 35.5px,#81d4e8 42.5px,#5daddb 51.5px,#476fbe 63.5px,#3e4db0 71.5px,#3936a5 87.5px,#352f95 99.5px,#312c82 110.5px,#2f2a7d 122.5px) 0 120px/100% 1px no-repeat,linear-gradient(90deg,#b72822 0.5px,#b72822 2.5px,#d02f23 3.5px,#e13824 4.5px,#f29723 11.5px,#f6c227 15.5px,#f3df2e 18.5px,#f0e532 19.5px,#cbdf58 25.5px,#a7dc96 32.5px,#94dcc4 37.5px,#81d5e7 44.5px,#76c8e6 47.5px,#5ca8d9 54.5px,#466cbd 66.5px,#3e4caf 74.5px,#3936a5 89.5px,#352f95 101.5px,#312c82 112.5px,#2f2a7c 122.5px) 0 121px/100% 1px no-repeat,linear-gradient(90deg,#a52421 0.5px,#a52421 2.5px,#c02b23 3.5px,#d53124 4.5px,#e13a24 5.5px,#f39e23 13.5px,#f5c729 17.5px,#f2e22f 20.5px,#e1e340 23.5px,#cadf59 27.5px,#a7dc95 34.5px,#94dcc3 39.5px,#7fd3ea 47.5px,#5ba5d8 57.5px,#456abc 69.5px,#3e4db0 76.5px,#3936a4 92.5px,#352f95 103.5px,#312c83 113.5px,#2f2a7c 122.5px) 0 122px/100% 1px no-repeat;}
.h2{width:123px;height:122.6px;background:linear-gradient(90deg,#342f93 0.5px,#312c83 11.5px,#2f2a7c 27.5px,#322d8a 44.5px,#3832a0 57.5px,#3b41ab 70.5px,#3f52b2 78.5px,#518fcd 90.5px,#65b6df 97.5px,#7fd3ea 103.5px,#96dcbf 111.5px,#b7dd76 119.5px,#c7df5e 122.5px) 0 0px/100% 1px no-repeat,linear-gradient(90deg,#352f95 0.5px,#312c83 12.5px,#2f2a7c 28.5px,#322d8a 45.5px,#3832a0 58.5px,#3b41ab 71.5px,#3f52b2 79.5px,#528fcd 91.5px,#65b6df 98.5px,#80d4ea 104.5px,#96dcbe 112.5px,#b7dd76 120.5px,#c2de66 122.5px) 0 1px/100% 1px no-repeat,linear-gradient(90deg,#353097 0.5px,#312c84 12.5px,#2f2a7c 29.5px,#322d8a 46.5px,#3832a0 59.5px,#3b41ab 72.5px,#3f52b2 80.5px,#528fcd 92.5px,#66b6df 99.5px,#80d4ea 105.5px,#96dcbe 113.5px,#b7dd76 121.5px,#bdde6e 122.5px) 0 2px/100% 1px no-repeat,linear-gradient(90deg,#363099 0.5px,#312c84 13.5px,#2f2a7c 30.5px,#322d8a 47.5px,#3832a0 60.5px,#3b41ab 73.5px,#3f52b2 81.5px,#528fcd 93.5px,#66b7df 100.5px,#80d4ea 106.5px,#97dcbe 114.5px,#b8dd75 122.5px) 0 3px/100% 1px no-repeat,linear-gradient(90deg,#36309b 0.5px,#312c84 14.5px,#2f2a7c 31.5px,#322d8a 48.5px,#3833a0 61.5px,#3b41ab 74.5px,#3f52b2 82.5px,#528fcd 94.5px,#66b7df 101.5px,#80d4ea 107.5px,#93dcc5 114.5px,#b3dd7d 122.5px) 0 4px/100% 1px no-repeat,linear-gradient(90deg,#37319c 0.5px,#312c84 15.5px,#2f2a7c 32.5px,#322d8a 49.5px,#3833a0 62.5px,#3b41ab 75.5px,#3f52b2 83.5px,#5290cd 95.5px,#66b7df 102.5px,#80d4ea 108.5px,#93dcc5 115.5px,#aedc85 122.5px) 0 5px/100% 1px no-repeat,linear-gradient(90deg,#37319d 0.5px,#312c84 16.5px,#2f2a7c 33.5px,#322d8a 50.5px,#3833a0 63.5px,#3b41ab 76.5px,#3f53b2 84.5px,#5290cd 96.5px,#62b2de 102.5px,#80d4ea 109.5px,#93dcc5 116.5px,#aadc8e 122.5px) 0 6px/100% 1px no-repeat,linear-gradient(90deg,#37329e 0.5px,#312c84 17.5px,#2f2a7c 34.5px,#322d8a 51.5px,#3833a0 64.5px,#3b41ab 77.5px,#3f53b2 85.5px,#5290ce 97.5px,#62b2de 103.5px,#80d4e9 110.5px,#94dcc5 117.5px,#a6dc97 122.5px) 0 7px/100% 1px no-repeat,linear-gradient(90deg,#38329f 0.5px,#312c83 19.5px,#2f2a7c 35.5px,#322d8a 52.5px,#3833a0 65.5px,#3b41ab 78.5px,#3f53b2 86.5px,#5290ce 98.5px,#62b3de 104.5px,#80d4e9 111.5px,#94dcc5 118.5px,#a3dca0 122.5px) 0 8px/100% 1px no-repeat,linear-gradient(90deg,#3833a1 0.5px,#332e8c 13.5px,#2f2a7d 30.5px,#312c82 46.5px,#342f91 57.5px,#3934a3 69.5px,#3c45ac 81.5px,#3f53b2 87.5px,#5290ce 99.5px,#62b3de 105.5px,#81d4e9 112.5px,#94dcc4 119.5px,#9fdca9 122.5px) 0 9px/100% 1px no-repeat,linear-gradient(90deg,#3934a2 0.5px,#342e8f 12.5px,#302b80 25.5px,#2f2a7d 40.5px,#332e8c 55.5px,#3833a0 67.5px,#3b41ab 80.5px,#3f53b2 88.5px,#5290ce 100.5px,#62b3de 106.5px,#81d4e9 113.5px,#94dcc4 120.5px,#9bdcb2 122.5px) 0 10px/100% 1px no-repeat,linear-gradient(90deg,#3934a3 0.5px,#342f91 12.5px,#302b81 24.5px,#2f2a7d 39.5px,#332e8c 56.5px,#3833a0 68.5px,#3b41ab 81.5px,#3f53b2 89.5px,#5291ce 101.5px,#63b3de 107.5px,#81d4e9 114.5px,#94dcc4 121.5px,#98dcbb 122.5px) 0 11px/100% 1px no-repeat,linear-gradient(90deg,#3935a4 0.5px,#342f93 12.5px,#312c83 23.5px,#2f2a7c 39.5px,#322d8a 56.5px,#3833a0 69.5px,#3b41ab 82.5px,#3f53b2 90.5px,#5291ce 102.5px,#63b3de 108.5px,#81d4e8 115.5px,#94dcc3 122.5px) 0 12px/100% 1px no-repeat,linear-gradient(90deg,#3936a5 0.5px,#342f93 13.5px,#312c83 24.5px,#2f2a7c 40.5px,#322d8a 57.5px,#3833a0 70.5px,#3b41ab 83.5px,#3f53b2 91.5px,#5291ce 103.5px,#63b3de 109.5px,#81d4e8 116.5px,#91dbc9 122.5px) 0 13px/100% 1px no-repeat,linear-gradient(90deg,#3937a5 0.5px,#352f93 14.5px,#312c83 25.5px,#2f2a7c 41.5px,#322d8a 58.5px,#3833a0 71.5px,#3b41ab 84.5px,#3f53b2 92.5px,#508bcb 103.5px,#63b4de 110.5px,#81d4e8 117.5px,#8fdace 122.5px) 0 14px/100% 1px no-repeat,linear-gradient(90deg,#3a38a6 0.5px,#352f95 14.5px,#312c83 26.5px,#2f2a7c 42.5px,#322d8a 59.5px,#3833a0 72.5px,#3b41ab 85.5px,#3f53b2 93.5px,#508bcb 104.5px,#63b4de 111.5px,#81d4e8 118.5px,#8cd9d3 122.5px) 0 15px/100% 1px no-repeat,linear-gradient(90deg,#3a39a7 0.5px,#352f95 15.5px,#312c83 27.5px,#2f2a7c 43.5px,#322d8a 60.5px,#3833a0 73.5px,#3b41ab 86.5px,#3e4fb0 93.5px,#508ccb 105.5px,#63b4de 112.5px,#7ed1e9 118.5px,#84d6e3 120.5px,#89d8d8 122.5px) 0 16px/100% 1px no-repeat,linear-gradient(90deg,#3a3aa8 0.5px,#352f95 16.5px,#312c83 28.5px,#2f2a7c 44.5px,#322d8a 61.5px,#3833a0 74.5px,#3b41ab 87.5px,#3e4fb0 94.5px,#508ccc 106.5px,#63b4de 113.5px,#7ed1e9 119.5px,#87d7dd 122.5px) 0 17px/100% 1px no-repeat,linear-gradient(90deg,#3a3ba8 0.5px,#353097 16.5px,#312c84 28.5px,#2f2a7c 45.5px,#322d8a 62.5px,#3833a0 75.5px,#3b41ab 88.5px,#3e4fb1 95.5px,#508ccc 107.5px,#64b4de 114.5px,#7ed2e9 120.5px,#84d6e2 122.5px) 0 18px/100% 1px no-repeat,linear-gradient(90deg,#3b3da9 0.5px,#353098 17.5px,#312c84 29.5px,#2f2a7c 46.5px,#322d8a 63.5px,#3833a0 76.5px,#3b41ab 89.5px,#3e4fb1 96.5px,#508ccc 108.5px,#64b4de 115.5px,#7ed2e9 121.5px,#82d5e7 122.5px) 0 19px/100% 1px no-repeat,linear-gradient(90deg,#3b3faa 0.5px,#36309b 16.5px,#312c84 30.5px,#2f2a7c 47.5px,#322d8a 64.5px,#3833a0 77.5px,#3b41ab 90.5px,#3e4fb1 97.5px,#518ccc 109.5px,#64b5de 116.5px,#7ed2e9 122.5px) 0 20px/100% 1px no-repeat,linear-gradient(90deg,#3b40ab 0.5px,#37329e 14.5px,#312c83 32.5px,#2f2a7c 48.5px,#322d8a 65.5px,#3833a0 78.5px,#3b41ab 91.5px,#3e50b1 98.5px,#518dcc 110.5px,#64b5de 117.5px,#7acde7 122.5px) 0 21px/100% 1px no-repeat,linear-gradient(90deg,#3c42ab 0.5px,#3833a1 13.5px,#332e8e 25.5px,#302b7e 40.5px,#302b7f 54.5px,#332e8e 68.5px,#3833a0 79.5px,#3b41ab 92.5px,#3e50b1 99.5px,#518dcc 111.5px,#64b5df 118.5px,#76c8e6 122.5px) 0 22px/100% 1px no-repeat,linear-gradient(90deg,#3c44ac 0.5px,#3934a3 12.5px,#342f91 24.5px,#302b81 36.5px,#2f2a7d 51.5px,#332e8c 68.5px,#3833a0 80.5px,#3b41ab 93.5px,#3e50b1 100.5px,#518dcc 112.5px,#64b5df 119.5px,#71c4e4 122.5px) 0 23px/100% 1px no-repeat,linear-gradient(90deg,#3c46ad 0.5px,#3934a3 13.5px,#342f91 25.5px,#302b81 37.5px,#2f2a7d 52.5px,#332e8c 69.5px,#3833a0 81.5px,#3c42ab 94.5px,#3e50b1 101.5px,#518dcc 113.5px,#64b5df 120.5px,#6dbfe2 122.5px) 0 24px/100% 1px no-repeat,linear-gradient(90deg,#3d48ad 0.5px,#3935a4 13.5px,#352f93 25.5px,#312c83 36.5px,#2f2a7c 52.5px,#322d8a 69.5px,#3833a0 82.5px,#3c42ab 95.5px,#3f50b1 102.5px,#518dcc 114.5px,#65b5df 121.5px,#69bae1 122.5px) 0 25px/100% 1px no-repeat,linear-gradient(90deg,#3d49ae 0.5px,#3936a5 13.5px,#352f93 26.5px,#312c83 37.5px,#2f2a7c 53.5px,#322d8a 70.5px,#3833a0 83.5px,#3c42ab 96.5px,#3f50b1 103.5px,#518dcc 115.5px,#65b6df 122.5px) 0 26px/100% 1px no-repeat,linear-gradient(90deg,#3d4baf 0.5px,#3936a5 14.5px,#352f93 27.5px,#312c83 38.5px,#2f2a7c 54.5px,#322d8a 71.5px,#3833a0 84.5px,#3c42ab 97.5px,#3f50b1 104.5px,#518ecc 116.5px,#61b1dd 122.5px) 0 27px/100% 1px no-repeat,linear-gradient(90deg,#3e4db0 0.5px,#3936a5 15.5px,#352f94 28.5px,#312c83 39.5px,#2f2a7c 55.5px,#322d8a 72.5px,#3833a0 85.5px,#3b40aa 97.5px,#3f50b1 105.5px,#518ecd 117.5px,#5dacdb 122.5px) 0 28px/100% 1px no-repeat,linear-gradient(90deg,#3f51b1 0.5px,#3a37a6 15.5px,#352f94 29.5px,#312c83 40.5px,#2f2a7c 56.5px,#322d8a 73.5px,#3833a0 86.5px,#3b40aa 98.5px,#3f50b1 106.5px,#518ecd 118.5px,#5ba6d8 122.5px) 0 29px/100% 1px no-repeat,linear-gradient(90deg,#4055b3 0.5px,#3d48ad 5.5px,#3935a4 18.5px,#352f94 30.5px,#312c83 41.5px,#2f2a7c 57.5px,#322d8a 74.5px,#3833a0 87.5px,#3b40aa 99.5px,#3f51b1 107.5px,#518ecd 119.5px,#58a0d5 122.5px) 0 30px/100% 1px no-repeat,linear-gradient(90deg,#415ab5 0.5px,#3d4baf 4.5px,#3936a5 18.5px,#352f94 31.5px,#312c83 42.5px,#2f2a7c 58.5px,#322d8a 75.5px,#3833a0 88.5px,#3b40aa 100.5px,#3f51b1 108.5px,#518ecd 120.5px,#569ad3 122.5px) 0 31px/100% 1px no-repeat,linear-gradient(90deg,#425eb7 0.5px,#3d4baf 5.5px,#3936a5 19.5px,#352f94 32.5px,#312c83 43.5px,#2f2a7c 59.5px,#322d8a 76.5px,#3833a0 89.5px,#3b40aa 101.5px,#3f51b1 109.5px,#518fcd 121.5px,#5495d0 122.5px) 0 32px/100% 1px no-repeat,linear-gradient(90deg,#4463b9 0.5px,#3d4baf 6.5px,#3936a5 20.5px,#352f94 33.5px,#312c83 44.5px,#2f2a7c 60.5px,#322d8a 77.5px,#3833a0 90.5px,#3b40aa 102.5px,#3f51b1 110.5px,#528fcd 122.5px) 0 33px/100% 1px no-repeat,linear-gradient(90deg,#4568bb 0.5px,#3e4db0 6.5px,#3936a5 21.5px,#352f94 34.5px,#312c83 45.5px,#2f2a7c 61.5px,#322d8a 78.5px,#3833a0 91.5px,#3b40aa 103.5px,#3f51b1 111.5px,#4f89ca 122.5px) 0 34px/100% 1px no-repeat,linear-gradient(90deg,#466dbd 0.5px,#3e4db0 7.5px,#3936a5 22.5px,#352f94 35.5px,#312c83 46.5px,#2f2a7c 62.5px,#322d8a 79.5px,#3833a0 92.5px,#3b40aa 104.5px,#3f51b1 112.5px,#4d84c8 122.5px) 0 35px/100% 1px no-repeat,linear-gradient(90deg,#4772bf 0.5px,#3e4db0 8.5px,#3936a5 23.5px,#352f94 36.5px,#312c83 47.5px,#2f2a7c 63.5px,#322d8a 80.5px,#3833a0 93.5px,#3b40aa 105.5px,#3f51b1 113.5px,#4b7ec5 122.5px) 0 36px/100% 1px no-repeat,linear-gradient(90deg,#4977c2 0.5px,#3e4eb0 9.5px,#3936a5 24.5px,#352f94 37.5px,#312c83 48.5px,#2f2a7c 64.5px,#322d8a 81.5px,#3833a0 94.5px,#3b40aa 106.5px,#3f51b2 114.5px,#4979c3 122.5px) 0 37px/100% 1px no-repeat,linear-gradient(90deg,#4a7cc4 0.5px,#3e4eb0 10.5px,#3936a5 25.5px,#352f94 38.5px,#312c83 49.5px,#2f2a7c 65.5px,#322d8a 82.5px,#3833a0 95.5px,#3b40ab 107.5px,#3f52b2 115.5px,#4874c0 122.5px) 0 38px/100% 1px no-repeat,linear-gradient(90deg,#4c81c6 0.5px,#3e4eb0 11.5px,#3936a5 26.5px,#352f94 39.5px,#312c83 50.5px,#2f2a7c 66.5px,#322d8a 83.5px,#3833a0 96.5px,#3b40ab 108.5px,#3f52b2 116.5px,#476fbe 122.5px) 0 39px/100% 1px no-repeat,linear-gradient(90deg,#4e87c9 0.5px,#3e4eb0 12.5px,#3936a5 27.5px,#352f94 40.5px,#312c83 51.5px,#2f2a7c 67.5px,#322d8a 84.5px,#3833a0 97.5px,#3b40ab 109.5px,#3f52b2 117.5px,#456abc 122.5px) 0 40px/100% 1px no-repeat,linear-gradient(90deg,#518ccc 0.5px,#3e4eb0 13.5px,#3936a5 28.5px,#352f94 41.5px,#312c83 52.5px,#2f2a7c 68.5px,#322d8a 85.5px,#3833a0 98.5px,#3b40ab 110.5px,#3f52b2 118.5px,#4465ba 122.5px) 0 41px/100% 1px no-repeat,linear-gradient(90deg,#5392cf 0.5px,#415bb6 11.5px,#3e4caf 15.5px,#3936a5 29.5px,#352f94 42.5px,#312c83 53.5px,#2f2a7c 69.5px,#322d8a 86.5px,#3833a0 99.5px,#3b40ab 111.5px,#3f52b2 119.5px,#4360b8 122.5px) 0 42px/100% 1px no-repeat,linear-gradient(90deg,#5598d1 0.5px,#4464ba 10.5px,#3e4caf 16.5px,#3936a5 30.5px,#352f94 43.5px,#312c83 54.5px,#2f2a7c 70.5px,#332d8a 87.5px,#3833a0 100.5px,#3b40ab 112.5px,#3f52b2 120.5px,#425cb6 122.5px) 0 43px/100% 1px no-repeat,linear-gradient(90deg,#579ed4 0.5px,#4569bc 10.5px,#3e4caf 17.5px,#3936a5 31.5px,#352f94 44.5px,#312c83 55.5px,#2f2a7c 71.5px,#332d8a 88.5px,#3833a0 101.5px,#3b41ab 113.5px,#3f52b2 121.5px,#4057b4 122.5px) 0 44px/100% 1px no-repeat,linear-gradient(90deg,#5aa3d7 0.5px,#4569bc 11.5px,#3e4caf 18.5px,#3936a5 32.5px,#352f94 45.5px,#312c83 56.5px,#2f2a7c 72.5px,#332d8a 89.5px,#3833a0 102.5px,#3b41ab 114.5px,#3f53b2 122.5px) 0 45px/100% 1px no-repeat,linear-gradient(90deg,#5ca9da 0.5px,#466ebe 11.5px,#3e4caf 19.5px,#3936a5 33.5px,#352f94 46.5px,#312c83 57.5px,#2f2a7c 73.5px,#332d8a 90.5px,#3833a0 103.5px,#3b41ab 115.5px,#3e4eb0 122.5px) 0 46px/100% 1px no-repeat,linear-gradient(90deg,#5fafdc 0.5px,#466ebe 12.5px,#3e4caf 20.5px,#3936a5 34.5px,#352f94 47.5px,#312c83 58.5px,#2f2a7c 74.5px,#332d8a 91.5px,#3833a0 104.5px,#3b41ab 116.5px,#3e4caf 122.5px) 0 47px/100% 1px no-repeat,linear-gradient(90deg,#63b4de 0.5px,#4873c0 12.5px,#3e4caf 21.5px,#3936a5 35.5px,#352f94 48.5px,#312c83 59.5px,#2f2a7c 75.5px,#332d8a 92.5px,#3833a0 105.5px,#3b41ab 117.5px,#3d4aae 122.5px) 0 48px/100% 1px no-repeat,linear-gradient(90deg,#67b8e0 0.5px,#5393cf 7.5px,#425bb6 18.5px,#3e4caf 22.5px,#3936a5 36.5px,#352f94 49.5px,#312c83 60.5px,#2f2a7c 76.5px,#332d8a 93.5px,#3833a0 106.5px,#3b41ab 118.5px,#3d48ae 122.5px) 0 49px/100% 1px no-repeat,linear-gradient(90deg,#6cbde2 0.5px,#589ed5 6.5px,#456abc 16.5px,#3e4caf 23.5px,#3936a5 37.5px,#352f94 50.5px,#312c83 61.5px,#2f2a7c 77.5px,#332d8a 94.5px,#3833a1 107.5px,#3b41ab 119.5px,#3c46ad 122.5px) 0 50px/100% 1px no-repeat,linear-gradient(90deg,#70c2e3 0.5px,#5aa4d7 6.5px,#456abc 17.5px,#3e4caf 24.5px,#3936a5 38.5px,#352f94 51.5px,#312c83 62.5px,#2f2a7c 78.5px,#332d8a 95.5px,#3833a1 108.5px,#3b41ab 120.5px,#3c45ac 122.5px) 0 51px/100% 1px no-repeat,linear-gradient(90deg,#74c7e5 0.5px,#5aa5d7 7.5px,#456abc 18.5px,#3e4caf 25.5px,#3936a5 39.5px,#352f94 52.5px,#312c83 63.5px,#2f2a7c 79.5px,#332d8a 96.5px,#3833a1 109.5px,#3b41ab 121.5px,#3c43ab 122.5px) 0 52px/100% 1px no-repeat,linear-gradient(90deg,#78cce7 0.5px,#5aa5d8 8.5px,#456abc 19.5px,#3e4caf 26.5px,#3936a5 40.5px,#352f94 53.5px,#312c83 64.5px,#2f2a7c 80.5px,#332d8a 97.5px,#3833a1 110.5px,#3b41ab 122.5px) 0 53px/100% 1px no-repeat,linear-gradient(90deg,#7dd0e9 0.5px,#5aa5d8 9.5px,#456abc 20.5px,#3e4caf 27.5px,#3937a5 41.5px,#352f94 54.5px,#312c83 65.5px,#2f2a7c 81.5px,#332d8a 98.5px,#3833a1 111.5px,#3b3faa 122.5px) 0 54px/100% 1px no-repeat,linear-gradient(90deg,#81d4e9 0.5px,#5aa5d8 10.5px,#456abc 21.5px,#3e4caf 28.5px,#3937a5 42.5px,#352f94 55.5px,#312c83 66.5px,#2f2a7c 82.5px,#332d8a 99.5px,#3833a1 112.5px,#3b3da9 122.5px) 0 55px/100% 1px no-repeat,linear-gradient(90deg,#83d5e4 0.5px,#7dd1e9 2.5px,#5aa5d8 11.5px,#456abc 22.5px,#3e4caf 29.5px,#3937a5 43.5px,#352f94 56.5px,#312c83 67.5px,#2f2a7c 83.5px,#332d8a 100.5px,#3833a1 113.5px,#3a3ca9 122.5px) 0 56px/100% 1px no-repeat,linear-gradient(90deg,#86d6df 0.5px,#81d4e8 2.5px,#5ba5d8 12.5px,#456abc 23.5px,#3e4caf 30.5px,#3937a5 44.5px,#352f94 57.5px,#312c83 68.5px,#2f2a7c 84.5px,#332d8b 101.5px,#3833a1 114.5px,#3a3aa8 122.5px) 0 57px/100% 1px no-repeat,linear-gradient(90deg,#89d7d9 0.5px,#81d4e8 3.5px,#5ba5d8 13.5px,#456abc 24.5px,#3e4caf 31.5px,#3937a5 45.5px,#352f94 58.5px,#312c83 69.5px,#2f2a7c 85.5px,#332d8b 102.5px,#3833a1 115.5px,#3a39a7 122.5px) 0 58px/100% 1px no-repeat,linear-gradient(90deg,#8bd9d4 0.5px,#81d4e8 4.5px,#5dacdb 13.5px,#456bbc 25.5px,#3e4caf 32.5px,#3937a5 46.5px,#352f94 59.5px,#312c83 70.5px,#2f2a7c 86.5px,#332d8b 103.5px,#3833a1 116.5px,#3a38a6 122.5px) 0 59px/100% 1px no-repeat,linear-gradient(90deg,#8edacf 0.5px,#81d4e8 5.5px,#64b5df 12.5px,#4979c3 23.5px,#3e4daf 33.5px,#3937a5 47.5px,#352f94 60.5px,#312c83 71.5px,#2f2a7c 87.5px,#332d8b 104.5px,#3833a1 117.5px,#3a37a6 122.5px) 0 60px/100% 1px no-repeat,linear-gradient(90deg,#91dbca 0.5px,#81d4e8 6.5px,#71c3e4 10.5px,#58a0d5 17.5px,#4466ba 28.5px,#3e4daf 34.5px,#3937a5 48.5px,#352f94 61.5px,#312c83 72.5px,#2f2a7c 88.5px,#332d8b 105.5px,#3833a1 118.5px,#3936a5 122.5px) 0 61px/100% 1px no-repeat,linear-gradient(90deg,#94dcc5 0.5px,#81d5e8 7.5px,#75c8e6 10.5px,#5ba6d8 17.5px,#466bbd 28.5px,#3e4daf 35.5px,#3937a5 49.5px,#352f94 62.5px,#312c83 73.5px,#2f2a7c 89.5px,#332d8b 106.5px,#3833a1 119.5px,#3935a4 122.5px) 0 62px/100% 1px no-repeat,linear-gradient(90deg,#97dcbc 0.5px,#8cd9d4 4.5px,#7ed2e9 9.5px,#5ba6d8 18.5px,#466bbd 29.5px,#3e4daf 36.5px,#3937a5 50.5px,#352f94 63.5px,#312c83 74.5px,#2f2a7c 90.5px,#332d8b 107.5px,#3833a1 120.5px,#3934a3 122.5px) 0 63px/100% 1px no-repeat,linear-gradient(90deg,#9bdcb3 0.5px,#91dbc9 3.5px,#81d5e7 9.5px,#7acde7 11.5px,#5ba7d8 19.5px,#466bbd 30.5px,#3e4daf 37.5px,#3937a5 51.5px,#352f94 64.5px,#312c83 75.5px,#2f2a7c 91.5px,#332d8b 108.5px,#3833a1 121.5px,#3934a2 122.5px) 0 64px/100% 1px no-repeat,linear-gradient(90deg,#9fdcaa 0.5px,#94dcc4 3.5px,#7ed2e9 11.5px,#5ba7d8 20.5px,#466bbd 31.5px,#3e4daf 38.5px,#3937a5 52.5px,#352f94 65.5px,#312c83 76.5px,#2f2a7c 92.5px,#332d8b 109.5px,#3833a1 122.5px) 0 65px/100% 1px no-repeat,linear-gradient(90deg,#a2dca1 0.5px,#94dcc4 4.5px,#7ed2e9 12.5px,#5ba7d9 21.5px,#466bbd 32.5px,#3e4db0 39.5px,#3937a5 53.5px,#352f94 66.5px,#312c83 77.5px,#2f2a7c 93.5px,#332d8b 110.5px,#3832a0 122.5px) 0 66px/100% 1px no-repeat,linear-gradient(90deg,#a6dc97 0.5px,#94dcc4 5.5px,#7fd2e9 13.5px,#5ba7d9 22.5px,#466cbd 33.5px,#3e4db0 40.5px,#3937a5 54.5px,#352f94 67.5px,#312c83 78.5px,#2f2a7c 94.5px,#332d8b 111.5px,#37329e 122.5px) 0 67px/100% 1px no-repeat,linear-gradient(90deg,#aadc8e 0.5px,#94dcc3 6.5px,#7fd3e9 14.5px,#5ba7d9 23.5px,#466cbd 34.5px,#3e4db0 41.5px,#3937a5 55.5px,#352f94 68.5px,#312c83 79.5px,#2f2a7c 95.5px,#332d8b 112.5px,#37319d 122.5px) 0 68px/100% 1px no-repeat,linear-gradient(90deg,#aedc85 0.5px,#94dcc3 7.5px,#7fd3ea 15.5px,#5ba7d9 24.5px,#466cbd 35.5px,#3e4db0 42.5px,#3937a5 56.5px,#352f94 69.5px,#312c83 80.5px,#2f2a7c 96.5px,#332d8b 113.5px,#37319c 122.5px) 0 69px/100% 1px no-repeat,linear-gradient(90deg,#b3dd7d 0.5px,#95dcc3 8.5px,#7fd3ea 16.5px,#5ba8d9 25.5px,#466cbd 36.5px,#3e4db0 43.5px,#3937a5 57.5px,#352f94 70.5px,#312c83 81.5px,#2f2a7c 97.5px,#332d8b 114.5px,#36309b 122.5px) 0 70px/100% 1px no-repeat,linear-gradient(90deg,#b8dd75 0.5px,#92dbc8 10.5px,#7fd3ea 17.5px,#5ba8d9 26.5px,#466cbd 37.5px,#3e4db0 44.5px,#3937a5 58.5px,#352f94 71.5px,#312c83 82.5px,#2f2a7c 98.5px,#332d8b 115.5px,#363099 122.5px) 0 71px/100% 1px no-repeat,linear-gradient(90deg,#bdde6d 0.5px,#a3dc9f 6.5px,#92dbc8 11.5px,#7fd3ea 18.5px,#5ca8d9 27.5px,#466cbd 38.5px,#3e4db0 45.5px,#3936a5 60.5px,#352f95 72.5px,#312c83 83.5px,#2f2a7c 99.5px,#332d8b 116.5px,#353097 122.5px) 0 72px/100% 1px no-repeat,linear-gradient(90deg,#c2de65 0.5px,#a7dc95 6.5px,#92dbc8 12.5px,#7fd3ea 19.5px,#5ca8d9 28.5px,#466cbd 39.5px,#3e4db0 46.5px,#3936a5 61.5px,#342f92 74.5px,#312c83 85.5px,#2f2a7d 101.5px,#332d8b 117.5px,#352f95 122.5px) 0 73px/100% 1px no-repeat,linear-gradient(90deg,#c7df5d 0.5px,#a7dc95 7.5px,#92dbc8 13.5px,#80d4ea 20.5px,#5ca8d9 29.5px,#466cbd 40.5px,#3e4db0 47.5px,#3936a5 62.5px,#342f92 75.5px,#312c83 86.5px,#2f2a7d 102.5px,#332d8b 118.5px,#342f93 122.5px) 0 74px/100% 1px no-repeat,linear-gradient(90deg,#cde055 0.5px,#a7dc95 8.5px,#92dbc7 14.5px,#80d4ea 21.5px,#5ca8d9 30.5px,#466dbd 41.5px,#3e4db0 48.5px,#3936a5 63.5px,#342f93 76.5px,#312c83 87.5px,#2f2a7d 103.5px,#332d8b 119.5px,#342e91 122.5px) 0 75px/100% 1px no-repeat,linear-gradient(90deg,#d2e04e 0.5px,#a7dc94 9.5px,#92dbc7 15.5px,#80d4ea 22.5px,#5ca9d9 31.5px,#466dbd 42.5px,#3e4db0 49.5px,#3936a5 64.5px,#342f93 77.5px,#312c83 88.5px,#2f2a7d 104.5px,#332d8b 120.5px,#332e8f 122.5px) 0 76px/100% 1px no-repeat,linear-gradient(90deg,#d7e149 0.5px,#bede6c 5.5px,#a0dca6 12.5px,#92dbc7 16.5px,#80d4ea 23.5px,#5ca9da 32.5px,#466dbd 43.5px,#3e4db0 50.5px,#3936a5 65.5px,#342f93 78.5px,#312c83 89.5px,#2f2a7d 105.5px,#332d8b 121.5px,#332e8d 122.5px) 0 77px/100% 1px no-repeat,linear-gradient(90deg,#dde244 0.5px,#c8df5c 4.5px,#a4dc9d 12.5px,#93dbc7 17.5px,#80d4ea 24.5px,#5ca9da 33.5px,#466dbd 44.5px,#3e4db0 51.5px,#3936a5 66.5px,#342f93 79.5px,#312c83 90.5px,#2f2a7c 105.5px,#332d8b 122.5px) 0 78px/100% 1px no-repeat,linear-gradient(90deg,#e2e33f 0.5px,#cde054 4.5px,#a8dc93 12.5px,#93dbc7 18.5px,#80d4ea 25.5px,#5ca9da 34.5px,#466dbe 45.5px,#3e4db0 52.5px,#3936a5 67.5px,#342f93 80.5px,#312c83 91.5px,#2f2a7c 106.5px,#322d89 122.5px) 0 79px/100% 1px no-repeat,linear-gradient(90deg,#e8e33a 0.5px,#cee054 5.5px,#a8dc93 13.5px,#93dcc6 19.5px,#80d4e9 26.5px,#5ca9da 35.5px,#466dbe 46.5px,#3e4db0 53.5px,#3936a5 68.5px,#342f93 81.5px,#312c83 92.5px,#2f2a7c 107.5px,#322d88 122.5px) 0 80px/100% 1px no-repeat,linear-gradient(90deg,#ede435 0.5px,#cee053 6.5px,#a4dc9b 15.5px,#93dcc6 20.5px,#80d4e9 27.5px,#5caada 36.5px,#466dbe 47.5px,#3e4eb0 54.5px,#3936a5 69.5px,#342f93 82.5px,#312c83 93.5px,#2f2a7c 108.5px,#322d87 122.5px) 0 81px/100% 1px no-repeat,linear-gradient(90deg,#f2e430 0.5px,#cee053 7.5px,#a5dc9b 16.5px,#93dcc6 21.5px,#81d4e9 28.5px,#5aa4d7 38.5px,#4569bc 49.5px,#3e4caf 56.5px,#3936a5 70.5px,#342f93 83.5px,#312c83 94.5px,#2f2a7c 109.5px,#312c85 122.5px) 0 82px/100% 1px no-repeat,linear-gradient(90deg,#f3dd2e 0.5px,#f2e430 1.5px,#cee053 8.5px,#a5dc9b 17.5px,#93dcc6 22.5px,#81d4e9 29.5px,#5aa4d7 39.5px,#4569bc 50.5px,#3e4caf 57.5px,#3936a5 71.5px,#342f93 84.5px,#312c83 95.5px,#2f2a7c 110.5px,#312c84 122.5px) 0 83px/100% 1px no-repeat,linear-gradient(90deg,#f4d52c 0.5px,#f2e430 2.5px,#cfe052 9.5px,#a5dc9a 18.5px,#93dcc6 23.5px,#81d4e9 30.5px,#5aa4d7 40.5px,#4569bc 51.5px,#3e4caf 58.5px,#3936a5 72.5px,#342f93 85.5px,#312c83 96.5px,#2f2a7c 111.5px,#312c83 122.5px) 0 84px/100% 1px no-repeat,linear-gradient(90deg,#f5ce2a 0.5px,#f2e330 3.5px,#cfe052 10.5px,#a5dc9a 19.5px,#93dcc5 24.5px,#81d4e8 31.5px,#5aa5d7 41.5px,#4569bc 52.5px,#3e4caf 59.5px,#3936a5 73.5px,#342f93 86.5px,#312c83 97.5px,#2f2a7c 112.5px,#312c83 122.5px) 0 85px/100% 1px no-repeat,linear-gradient(90deg,#f5c629 0.5px,#f2e330 4.5px,#cfe051 11.5px,#a5dc9a 20.5px,#93dcc5 25.5px,#81d4e8 32.5px,#5aa5d8 42.5px,#4569bc 53.5px,#3e4caf 60.5px,#3936a5 74.5px,#342f93 87.5px,#312c83 98.5px,#2f2a7c 113.5px,#302b82 122.5px) 0 86px/100% 1px no-repeat,linear-gradient(90deg,#f6bf27 0.5px,#f2e32f 5.5px,#cfe051 12.5px,#a5dc99 21.5px,#94dcc5 26.5px,#81d4e8 33.5px,#5aa5d8 43.5px,#4569bc 54.5px,#3e4caf 61.5px,#3936a5 75.5px,#342f93 88.5px,#312c83 99.5px,#2f2a7c 114.5px,#302b81 122.5px) 0 87px/100% 1px no-repeat,linear-gradient(90deg,#f7b725 0.5px,#f2e22f 6.5px,#dae147 11.5px,#cadf59 14.5px,#a6dc99 22.5px,#94dcc5 27.5px,#81d4e8 34.5px,#60b0dd 42.5px,#466ebe 54.5px,#3e4caf 62.5px,#3936a5 76.5px,#342f93 89.5px,#312c83 100.5px,#2f2a7c 115.5px,#302b80 122.5px) 0 88px/100% 1px no-repeat,linear-gradient(90deg,#f6af24 0.5px,#f2e22f 7.5px,#e4e33d 10.5px,#cbdf58 15.5px,#a6dc98 23.5px,#94dcc5 28.5px,#81d4e8 35.5px,#6dbee2 40.5px,#58a0d5 46.5px,#456abc 56.5px,#3e4caf 63.5px,#3936a5 77.5px,#342f93 90.5px,#312c83 101.5px,#2f2a7c 116.5px,#302b7f 122.5px) 0 89px/100% 1px no-repeat,linear-gradient(90deg,#f4a724 0.5px,#f4d32c 6.5px,#f2e22f 8.5px,#eae438 10.5px,#cbdf58 16.5px,#a6dc98 24.5px,#94dcc4 29.5px,#81d5e8 36.5px,#75c8e6 39.5px,#5ba6d8 46.5px,#456abc 57.5px,#3e4caf 64.5px,#3936a5 78.5px,#342f93 91.5px,#312c83 102.5px,#2f2a7c 117.5px,#302b7f 122.5px) 0 90px/100% 1px no-repeat,linear-gradient(90deg,#f39f23 0.5px,#f6c528 5.5px,#f2e12f 9.5px,#eae437 11.5px,#cbdf57 17.5px,#a6dc98 25.5px,#94dcc4 30.5px,#81d5e7 37.5px,#75c8e6 40.5px,#5ba6d8 47.5px,#456abc 58.5px,#3e4caf 65.5px,#3936a5 79.5px,#342f93 92.5px,#312c83 103.5px,#2f2a7c 118.5px,#302b7e 122.5px) 0 91px/100% 1px no-repeat,linear-gradient(90deg,#f29723 0.5px,#f6c428 6.5px,#f2e12f 10.5px,#eae437 12.5px,#cbdf57 18.5px,#a6dc97 26.5px,#94dcc4 31.5px,#82d5e7 38.5px,#7acde7 40.5px,#5ba6d8 48.5px,#456abc 59.5px,#3e4caf 66.5px,#3936a5 80.5px,#342f93 93.5px,#312c83 104.5px,#2f2a7c 119.5px,#2f2a7e 122.5px) 0 92px/100% 1px no-repeat,linear-gradient(90deg,#f18f22 0.5px,#f6c428 7.5px,#f0e532 12.5px,#ccdf57 19.5px,#a6dc97 27.5px,#94dcc3 32.5px,#7ed2e9 40.5px,#5ba6d8 49.5px,#456abc 60.5px,#3e4caf 67.5px,#3936a5 81.5px,#342f93 94.5px,#312c83 105.5px,#2f2a7c 120.5px,#2f2a7d 122.5px) 0 93px/100% 1px no-repeat,linear-gradient(90deg,#ef8722 0.5px,#f6c428 8.5px,#f0e532 13.5px,#cce056 20.5px,#a6dc96 28.5px,#94dcc3 33.5px,#7fd2e9 41.5px,#5ba6d8 50.5px,#456bbc 61.5px,#3e4caf 68.5px,#3936a5 82.5px,#342f93 95.5px,#312c83 106.5px,#2f2a7c 121.5px,#2f2a7d 122.5px) 0 94px/100% 1px no-repeat,linear-gradient(90deg,#ee7e22 0.5px,#f6c328 9.5px,#f1e531 14.5px,#cce056 21.5px,#a7dc96 29.5px,#95dcc3 34.5px,#7fd3e9 42.5px,#5ba7d8 51.5px,#456bbc 62.5px,#3e4caf 69.5px,#3936a5 83.5px,#342f93 96.5px,#312c83 107.5px,#2f2a7c 122.5px) 0 95px/100% 1px no-repeat,linear-gradient(90deg,#ed7622 0.5px,#f6c328 10.5px,#f1e531 15.5px,#cce056 22.5px,#a7dc96 30.5px,#95dcc2 35.5px,#7fd3ea 43.5px,#5ba7d9 52.5px,#466bbd 63.5px,#3e4caf 70.5px,#3936a5 84.5px,#342f93 97.5px,#312c83 108.5px,#2f2a7c 122.5px) 0 96px/100% 1px no-repeat,linear-gradient(90deg,#eb6d22 0.5px,#f6c228 11.5px,#f1e531 16.5px,#cde055 23.5px,#a7dc95 31.5px,#92dbc8 37.5px,#7fd3ea 44.5px,#5ba7d9 53.5px,#466bbd 64.5px,#3e4caf 71.5px,#3936a5 85.5px,#342f93 98.5px,#312c83 109.5px,#2f2a7c 122.5px) 0 97px/100% 1px no-repeat,linear-gradient(90deg,#ea6422 0.5px,#f6c227 12.5px,#f1e531 17.5px,#cde055 24.5px,#a7dc95 32.5px,#92dbc8 38.5px,#7fd3ea 45.5px,#5ba7d9 54.5px,#466bbd 65.5px,#3e4caf 72.5px,#3936a5 86.5px,#342f93 99.5px,#312c83 110.5px,#2f2a7c 122.5px) 0 98px/100% 1px no-repeat,linear-gradient(90deg,#e85b22 0.5px,#f6c227 13.5px,#f2e530 18.5px,#cde054 25.5px,#a7dc94 33.5px,#92dbc7 39.5px,#7fd3ea 46.5px,#5ba8d9 55.5px,#466bbd 66.5px,#3e4daf 73.5px,#3936a5 87.5px,#342f93 100.5px,#312c83 111.5px,#2f2a7c 122.5px) 0 99px/100% 1px no-repeat,linear-gradient(90deg,#e75422 0.5px,#f7ba25 13.5px,#f2e530 19.5px,#cde054 26.5px,#a8dc94 34.5px,#92dbc7 40.5px,#80d4ea 47.5px,#5ca8d9 56.5px,#466bbd 67.5px,#3e4daf 74.5px,#3936a5 88.5px,#342f93 101.5px,#312c83 112.5px,#2f2a7c 122.5px) 0 100px/100% 1px no-repeat,linear-gradient(90deg,#e54d23 0.5px,#f7ba25 14.5px,#f2e530 20.5px,#cee054 27.5px,#a8dc94 35.5px,#92dbc7 41.5px,#80d4ea 48.5px,#5ca8d9 57.5px,#466cbd 68.5px,#3e4daf 75.5px,#3936a5 89.5px,#352f93 102.5px,#312c83 113.5px,#2f2a7d 122.5px) 0 101px/100% 1px no-repeat,linear-gradient(90deg,#e44623 0.5px,#ec7322 6.5px,#f6c027 16.5px,#f2e430 21.5px,#cee053 28.5px,#a8dc93 36.5px,#93dbc7 42.5px,#80d4ea 49.5px,#5ca8d9 58.5px,#466cbd 69.5px,#3e4daf 76.5px,#3936a5 90.5px,#352f93 103.5px,#312c83 114.5px,#2f2a7d 122.5px) 0 102px/100% 1px no-repeat,linear-gradient(90deg,#e23f23 0.5px,#eb6a22 6.5px,#f6c027 17.5px,#f2e430 22.5px,#cee053 29.5px,#a8dc93 37.5px,#93dbc7 43.5px,#80d4ea 50.5px,#5ca8d9 59.5px,#466cbd 70.5px,#3e4db0 77.5px,#3936a5 91.5px,#352f93 104.5px,#312c83 115.5px,#2f2a7e 122.5px) 0 103px/100% 1px no-repeat,linear-gradient(90deg,#e13824 0.5px,#eb6a22 7.5px,#f6c027 18.5px,#f2e430 23.5px,#cee053 30.5px,#a5dc9b 39.5px,#93dcc6 44.5px,#80d4ea 51.5px,#5ca9d9 60.5px,#466cbd 71.5px,#3e4db0 78.5px,#3936a5 92.5px,#352f93 105.5px,#312c83 116.5px,#302b7e 122.5px) 0 104px/100% 1px no-repeat,linear-gradient(90deg,#dc3324 0.5px,#e44523 3.5px,#ec7122 9.5px,#f6bf27 19.5px,#f2e330 24.5px,#cfe052 31.5px,#a5dc9b 40.5px,#93dcc6 45.5px,#80d4e9 52.5px,#5ca9da 61.5px,#466cbd 72.5px,#3e4db0 79.5px,#3937a5 93.5px,#352f93 106.5px,#312c83 117.5px,#302b7f 122.5px) 0 105px/100% 1px no-repeat,linear-gradient(90deg,#d23023 0.5px,#e13724 2.5px,#ea6922 9.5px,#f6bf27 20.5px,#f2e32f 25.5px,#cfe052 32.5px,#a5dc9a 41.5px,#93dcc6 46.5px,#80d4e9 53.5px,#5ca9da 62.5px,#466cbd 73.5px,#3e4db0 80.5px,#3937a5 94.5px,#352f93 107.5px,#312c83 118.5px,#302b80 122.5px) 0 106px/100% 1px no-repeat,linear-gradient(90deg,#c92d23 0.5px,#e13624 3.5px,#ea6822 10.5px,#f6be27 21.5px,#f2e22f 26.5px,#cfe051 33.5px,#a5dc9a 42.5px,#93dcc6 47.5px,#81d4e9 54.5px,#5ca9da 63.5px,#466dbd 74.5px,#3e4db0 81.5px,#3937a5 95.5px,#352f93 108.5px,#312c83 119.5px,#302b80 122.5px) 0 107px/100% 1px no-repeat,linear-gradient(90deg,#c02b23 0.5px,#e03624 4.5px,#ea6822 11.5px,#f6be26 22.5px,#f2e22f 27.5px,#dfe242 31.5px,#cadf59 35.5px,#a5dc9a 43.5px,#93dcc5 48.5px,#81d4e9 55.5px,#5caada 64.5px,#466dbd 75.5px,#3e4db0 82.5px,#3937a5 96.5px,#352f93 109.5px,#312c83 120.5px,#302b81 122.5px) 0 108px/100% 1px no-repeat,linear-gradient(90deg,#b62822 0.5px,#e03624 5.5px,#ea6722 12.5px,#f6be26 23.5px,#f2e22f 28.5px,#e5e33d 31.5px,#cbdf58 36.5px,#a5dc99 44.5px,#93dcc5 49.5px,#81d4e9 56.5px,#5aa4d7 66.5px,#466dbd 76.5px,#3e4db0 83.5px,#3937a5 97.5px,#352f94 110.5px,#312c83 121.5px,#302b82 122.5px) 0 109px/100% 1px no-repeat,linear-gradient(90deg,#ad2522 0.5px,#e03524 6.5px,#ec6f22 14.5px,#f6bd26 24.5px,#f2e12f 29.5px,#eae437 31.5px,#cbdf58 37.5px,#a6dc99 45.5px,#94dcc5 50.5px,#81d4e8 57.5px,#5aa4d7 67.5px,#466dbe 77.5px,#3e4db0 84.5px,#3937a5 98.5px,#352f94 111.5px,#312c83 122.5px) 0 110px/100% 1px no-repeat,linear-gradient(90deg,#a12320 0.5px,#e03524 7.5px,#eb6f22 15.5px,#f6bd26 25.5px,#f2e12f 30.5px,#eae437 32.5px,#cbdf58 38.5px,#a6dc98 46.5px,#94dcc5 51.5px,#81d4e8 58.5px,#5aa4d7 68.5px,#466dbe 78.5px,#3e4db0 85.5px,#3937a5 99.5px,#352f94 112.5px,#312c84 122.5px) 0 111px/100% 1px no-repeat,linear-gradient(90deg,#96211f 0.5px,#d83224 7.5px,#e03424 8.5px,#eb6e22 16.5px,#f7bc26 26.5px,#f3e02f 31.5px,#f0e532 32.5px,#cbdf57 39.5px,#a6dc98 47.5px,#94dcc4 52.5px,#81d4e8 59.5px,#60b0dd 67.5px,#466dbe 79.5px,#3e4db0 86.5px,#3937a5 100.5px,#352f94 113.5px,#312c85 122.5px) 0 112px/100% 1px no-repeat,linear-gradient(90deg,#8b1f1e 0.5px,#c62c23 6.5px,#e03424 9.5px,#eb6e22 17.5px,#f7bc26 27.5px,#f0e532 33.5px,#ccdf57 40.5px,#a6dc97 48.5px,#94dcc4 53.5px,#81d4e8 60.5px,#71c3e4 64.5px,#5aa5d8 70.5px,#4569bc 81.5px,#3e4db0 87.5px,#3937a5 101.5px,#352f94 114.5px,#312c86 122.5px) 0 113px/100% 1px no-repeat,linear-gradient(90deg,#801d1d 0.5px,#c52c23 7.5px,#df3424 10.5px,#eb6d22 18.5px,#f7bb26 28.5px,#f1e531 34.5px,#cce056 41.5px,#a6dc97 49.5px,#94dcc4 54.5px,#81d5e7 61.5px,#75c8e6 64.5px,#5aa5d8 71.5px,#4569bc 82.5px,#3e4db0 88.5px,#3937a5 102.5px,#352f94 115.5px,#322d87 122.5px) 0 114px/100% 1px no-repeat,linear-gradient(90deg,#781c1c 0.5px,#9f2320 4.5px,#df3424 11.5px,#eb6c22 19.5px,#f6c228 30.5px,#f1e531 35.5px,#cce056 42.5px,#a7dc96 50.5px,#94dcc3 55.5px,#81d5e7 62.5px,#7acde7 64.5px,#5ba5d8 72.5px,#4569bc 83.5px,#3e4eb0 89.5px,#3937a5 103.5px,#352f94 116.5px,#322d88 122.5px) 0 115px/100% 1px no-repeat,linear-gradient(90deg,#781c1c 0.5px,#781c1c 1.5px,#891f1e 3.5px,#c42c23 9.5px,#de3324 12.5px,#ea6422 19.5px,#f6c227 31.5px,#f1e531 36.5px,#cce055 43.5px,#a7dc96 51.5px,#94dcc3 56.5px,#7ed2e9 64.5px,#5ba6d8 73.5px,#4569bc 84.5px,#3e4eb0 90.5px,#3937a5 104.5px,#352f94 117.5px,#322d8a 122.5px) 0 116px/100% 1px no-repeat,linear-gradient(90deg,#781c1c 0.5px,#781c1c 2.5px,#881f1e 4.5px,#c32c23 10.5px,#de3324 13.5px,#ea6322 20.5px,#f6c127 32.5px,#f2e530 37.5px,#cde055 44.5px,#a7dc95 52.5px,#95dcc2 57.5px,#7ed2e9 65.5px,#5ba6d8 74.5px,#4569bc 85.5px,#3e4caf 92.5px,#3936a5 106.5px,#352f94 118.5px,#332e8c 122.5px) 0 117px/100% 1px no-repeat,linear-gradient(90deg,#781c1c 0.5px,#781c1c 3.5px,#7d1d1d 4.5px,#c32b23 11.5px,#dd3324 14.5px,#e96322 21.5px,#f6c127 33.5px,#f2e530 38.5px,#cde055 45.5px,#a7dc95 53.5px,#92dbc8 59.5px,#7fd3e9 66.5px,#5ba6d8 75.5px,#456abc 86.5px,#3e4caf 93.5px,#3936a5 107.5px,#352f94 119.5px,#332e8e 122.5px) 0 118px/100% 1px no-repeat,linear-gradient(90deg,#781c1c 0.5px,#781c1c 4.5px,#7c1d1c 5.5px,#c22b23 12.5px,#dc3324 15.5px,#e75322 20.5px,#f7b925 33.5px,#f2e530 39.5px,#cde054 46.5px,#a7dc94 54.5px,#92dbc8 60.5px,#7fd3ea 67.5px,#5ba6d8 76.5px,#456abc 87.5px,#3e4caf 94.5px,#3936a5 108.5px,#352f94 120.5px,#342e90 122.5px) 0 119px/100% 1px no-repeat,linear-gradient(90deg,#781c1c 0.5px,#781c1c 5.5px,#7c1d1c 6.5px,#c22b23 13.5px,#dc3324 16.5px,#e44523 19.5px,#ec7222 25.5px,#f6c027 35.5px,#f2e430 40.5px,#cee054 47.5px,#a7dc94 55.5px,#92dbc8 61.5px,#7fd3ea 68.5px,#5ba7d8 77.5px,#456abc 88.5px,#3e4caf 95.5px,#3936a5 109.5px,#352f94 121.5px,#342f92 122.5px) 0 120px/100% 1px no-repeat,linear-gradient(90deg,#781c1c 0.5px,#7b1c1c 7.5px,#c12b23 14.5px,#e13724 18.5px,#eb6922 25.5px,#f6c027 36.5px,#f2e430 41.5px,#cee053 48.5px,#a8dc94 56.5px,#92dbc7 62.5px,#7fd3ea 69.5px,#5ba7d9 78.5px,#456abc 89.5px,#3e4caf 96.5px,#3936a5 110.5px,#352f94 122.5px) 0 121px/100% 1px no-repeat,linear-gradient(90deg,#781c1c 0.5px,#7a1c1c 8.5px,#c02b23 15.5px,#e13724 19.5px,#ea6922 26.5px,#f6bf27 37.5px,#f2e330 42.5px,#cee053 49.5px,#a8dc93 57.5px,#92dbc7 63.5px,#80d3ea 70.5px,#5ba7d9 79.5px,#456abc 90.5px,#3e4caf 97.5px,#3936a5 111.5px,#352f96 122.5px) 0 122px/100% 1px no-repeat;}
.cb{width:123px;height:7.6px;background:linear-gradient(90deg,#2f2a7e 0.5px,#332e8b 4.5px,#37319c 8.5px,#3a37a6 13.5px,#3d4aae 21.5px,#3f51b1 23.5px,#4f87c9 32.5px,#5eaedc 38.5px,#7dd1e9 45.5px,#81d4e8 46.5px,#93dcc6 53.5px,#b2dd7d 62.5px,#d1e04f 69.5px,#f0e532 76.5px,#f3db2e 78.5px,#f6b225 85.5px,#e75722 100.5px,#e03524 107.5px,#a72421 116.5px,#7c1d1c 122.5px);}
.ph{background:#070707;}
svg{position:absolute;left:0;top:0;}
text{font-family:"Liberation Sans",Arial,sans-serif;fill:#000;stroke:#000;stroke-width:0.25px;}
.e{font-family:"Liberation Serif","Times New Roman",serif;font-style:italic;}
</style></head><body>

<div class="a h1" style="left:46px;top:32px"></div>
<div class="a h2" style="left:210px;top:32px"></div>
<div class="a ph" style="left:372px;top:32px;width:123px;height:122.5px"></div>
<div class="a h1" style="left:46px;top:188px"></div>
<div class="a h2" style="left:210px;top:188px"></div>
<div class="a ph" style="left:372px;top:188px;width:123px;height:122.5px"></div>
<div class="a h1" style="left:46px;top:344px"></div>
<div class="a h2" style="left:210px;top:344px"></div>
<div class="a ph" style="left:372px;top:344px;width:123px;height:122.5px"></div>
<div class="a h1" style="left:46px;top:500px"></div>
<div class="a h2" style="left:210px;top:500px"></div>
<div class="a ph" style="left:372px;top:500px;width:123px;height:122.5px"></div>
<div class="a cb" style="left:46px;top:670px"></div>
<div class="a cb" style="left:210px;top:670px"></div>
<svg width="495" height="685" viewBox="0 0 495 685">
<text x="142.89" y="12.50" font-size="17" textLength="91.01" lengthAdjust="spacingAndGlyphs">Error Space</text>
<text x="372.89" y="12.50" font-size="17" textLength="116.85" lengthAdjust="spacingAndGlyphs">Physical Space</text>
<text x="73.31" y="25.00" font-size="12" textLength="67.02" lengthAdjust="spacingAndGlyphs">Original Size</text>
<text x="253.10" y="25.00" font-size="12" textLength="30.48" lengthAdjust="spacingAndGlyphs">Zoom</text>
<text x="0.00" y="40.80" font-size="16.7">A</text>
<text x="-0.15" y="195.60" font-size="16.7">B</text>
<text x="0.35" y="352.30" font-size="16.7">C</text>
<text x="0.50" y="512.50" font-size="16.7">D</text>
<text x="10.60" y="139.40" font-size="12" textLength="92.16" lengthAdjust="spacingAndGlyphs" transform="rotate(-90 10.60 139.40)">Channel capacity</text>
<text x="9.70" y="297.89" font-size="12" textLength="98.11" lengthAdjust="spacingAndGlyphs" transform="rotate(-90 9.70 297.89)">Mutual information</text>
<text x="10.50" y="453.05" font-size="12" textLength="87.04" lengthAdjust="spacingAndGlyphs" transform="rotate(-90 10.50 453.05)">Transfer entropy</text>
<text x="10.60" y="583.20" font-size="12" textLength="43.53" lengthAdjust="spacingAndGlyphs" transform="rotate(-90 10.60 583.20)">All three</text>
<text x="47.30" y="666.10" font-size="12" textLength="121.51" lengthAdjust="spacingAndGlyphs">Channel capacity (bits)</text>
<text x="212.40" y="666.10" font-size="12" textLength="122.11" lengthAdjust="spacingAndGlyphs">Channel capacity (bits)</text>
<text x="68.65" y="178.10" font-size="10" textLength="72.76" lengthAdjust="spacingAndGlyphs"><tspan class="e" font-size="11">ε</tspan><tspan font-size="8.5" dy="2.8">0</tspan><tspan dy="-2.8">: 0 flipped to 1</tspan></text>
<text x="233.55" y="177.80" font-size="10" textLength="72.16" lengthAdjust="spacingAndGlyphs"><tspan class="e" font-size="11">ε</tspan><tspan font-size="8.5" dy="2.8">0</tspan><tspan dy="-2.8">: 0 flipped to 1</tspan></text>
<text x="29.20" y="130.86" font-size="10" textLength="75.49" lengthAdjust="spacingAndGlyphs" transform="rotate(-90 29.20 130.86)"><tspan class="e" font-size="11">ε</tspan><tspan font-size="8.5" dy="2.8">1</tspan><tspan dy="-2.8">: 1 flipped to 0</tspan></text>
<text x="187.50" y="130.56" font-size="10" textLength="75.59" lengthAdjust="spacingAndGlyphs" transform="rotate(-90 187.50 130.56)"><tspan class="e" font-size="11">ε</tspan><tspan font-size="8.5" dy="2.8">1</tspan><tspan dy="-2.8">: 1 flipped to 0</tspan></text>
<text x="39" y="157.4" font-size="8.3" text-anchor="middle">0</text>
<text x="46.0" y="166.0" font-size="8.3" text-anchor="middle">0</text>
<text x="39" y="133.1" font-size="8.3" text-anchor="middle">0.2</text>
<text x="70.6" y="166.0" font-size="8.3" text-anchor="middle">0.2</text>
<text x="39" y="108.8" font-size="8.3" text-anchor="middle">0.4</text>
<text x="95.2" y="166.0" font-size="8.3" text-anchor="middle">0.4</text>
<text x="39" y="84.5" font-size="8.3" text-anchor="middle">0.6</text>
<text x="119.8" y="166.0" font-size="8.3" text-anchor="middle">0.6</text>
<text x="39" y="60.2" font-size="8.3" text-anchor="middle">0.8</text>
<text x="144.4" y="166.0" font-size="8.3" text-anchor="middle">0.8</text>
<text x="39" y="35.9" font-size="8.3" text-anchor="middle">1</text>
<text x="169.0" y="166.0" font-size="8.3" text-anchor="middle">1</text>
<text x="207.8" y="157.2" font-size="8.3" text-anchor="end">0.30</text>
<text x="207.8" y="133.0" font-size="8.3" text-anchor="end">0.32</text>
<text x="207.8" y="108.8" font-size="8.3" text-anchor="end">0.34</text>
<text x="207.8" y="84.6" font-size="8.3" text-anchor="end">0.36</text>
<text x="207.8" y="60.4" font-size="8.3" text-anchor="end">0.38</text>
<text x="207.8" y="36.2" font-size="8.3" text-anchor="end">0.40</text>
<text x="210.0" y="166.0" font-size="8.3" text-anchor="middle">0.58</text>
<text x="234.6" y="166.0" font-size="8.3" text-anchor="middle">0.60</text>
<text x="259.2" y="166.0" font-size="8.3" text-anchor="middle">0.62</text>
<text x="283.8" y="166.0" font-size="8.3" text-anchor="middle">0.64</text>
<text x="308.4" y="166.0" font-size="8.3" text-anchor="middle">0.66</text>
<text x="333.0" y="166.0" font-size="8.3" text-anchor="middle">0.68</text>
<rect x="209.25" y="31.25" width="124.5" height="124" fill="none" stroke="#000" stroke-width="1.5"/>
<rect x="113.5" y="101.5" width="19" height="19" fill="none" stroke="#1d1c48" stroke-width="1"/>
<text x="68.65" y="334.10" font-size="10" textLength="72.76" lengthAdjust="spacingAndGlyphs"><tspan class="e" font-size="11">ε</tspan><tspan font-size="8.5" dy="2.8">0</tspan><tspan dy="-2.8">: 0 flipped to 1</tspan></text>
<text x="233.55" y="333.80" font-size="10" textLength="72.16" lengthAdjust="spacingAndGlyphs"><tspan class="e" font-size="11">ε</tspan><tspan font-size="8.5" dy="2.8">0</tspan><tspan dy="-2.8">: 0 flipped to 1</tspan></text>
<text x="29.20" y="286.86" font-size="10" textLength="75.49" lengthAdjust="spacingAndGlyphs" transform="rotate(-90 29.20 286.86)"><tspan class="e" font-size="11">ε</tspan><tspan font-size="8.5" dy="2.8">1</tspan><tspan dy="-2.8">: 1 flipped to 0</tspan></text>
<text x="187.50" y="286.56" font-size="10" textLength="75.59" lengthAdjust="spacingAndGlyphs" transform="rotate(-90 187.50 286.56)"><tspan class="e" font-size="11">ε</tspan><tspan font-size="8.5" dy="2.8">1</tspan><tspan dy="-2.8">: 1 flipped to 0</tspan></text>
<text x="39" y="313.4" font-size="8.3" text-anchor="middle">0</text>
<text x="46.0" y="322.0" font-size="8.3" text-anchor="middle">0</text>
<text x="39" y="289.1" font-size="8.3" text-anchor="middle">0.2</text>
<text x="70.6" y="322.0" font-size="8.3" text-anchor="middle">0.2</text>
<text x="39" y="264.8" font-size="8.3" text-anchor="middle">0.4</text>
<text x="95.2" y="322.0" font-size="8.3" text-anchor="middle">0.4</text>
<text x="39" y="240.5" font-size="8.3" text-anchor="middle">0.6</text>
<text x="119.8" y="322.0" font-size="8.3" text-anchor="middle">0.6</text>
<text x="39" y="216.2" font-size="8.3" text-anchor="middle">0.8</text>
<text x="144.4" y="322.0" font-size="8.3" text-anchor="middle">0.8</text>
<text x="39" y="191.9" font-size="8.3" text-anchor="middle">1</text>
<text x="169.0" y="322.0" font-size="8.3" text-anchor="middle">1</text>
<text x="207.8" y="313.2" font-size="8.3" text-anchor="end">0.30</text>
<text x="207.8" y="289.0" font-size="8.3" text-anchor="end">0.32</text>
<text x="207.8" y="264.8" font-size="8.3" text-anchor="end">0.34</text>
<text x="207.8" y="240.6" font-size="8.3" text-anchor="end">0.36</text>
<text x="207.8" y="216.4" font-size="8.3" text-anchor="end">0.38</text>
<text x="207.8" y="192.2" font-size="8.3" text-anchor="end">0.40</text>
<text x="210.0" y="322.0" font-size="8.3" text-anchor="middle">0.58</text>
<text x="234.6" y="322.0" font-size="8.3" text-anchor="middle">0.60</text>
<text x="259.2" y="322.0" font-size="8.3" text-anchor="middle">0.62</text>
<text x="283.8" y="322.0" font-size="8.3" text-anchor="middle">0.64</text>
<text x="308.4" y="322.0" font-size="8.3" text-anchor="middle">0.66</text>
<text x="333.0" y="322.0" font-size="8.3" text-anchor="middle">0.68</text>
<rect x="209.25" y="187.25" width="124.5" height="124" fill="none" stroke="#000" stroke-width="1.5"/>
<rect x="113.5" y="257.5" width="19" height="19" fill="none" stroke="#1d1c48" stroke-width="1"/>
<text x="68.65" y="490.10" font-size="10" textLength="72.76" lengthAdjust="spacingAndGlyphs"><tspan class="e" font-size="11">ε</tspan><tspan font-size="8.5" dy="2.8">0</tspan><tspan dy="-2.8">: 0 flipped to 1</tspan></text>
<text x="233.55" y="489.80" font-size="10" textLength="72.16" lengthAdjust="spacingAndGlyphs"><tspan class="e" font-size="11">ε</tspan><tspan font-size="8.5" dy="2.8">0</tspan><tspan dy="-2.8">: 0 flipped to 1</tspan></text>
<text x="29.20" y="442.86" font-size="10" textLength="75.49" lengthAdjust="spacingAndGlyphs" transform="rotate(-90 29.20 442.86)"><tspan class="e" font-size="11">ε</tspan><tspan font-size="8.5" dy="2.8">1</tspan><tspan dy="-2.8">: 1 flipped to 0</tspan></text>
<text x="187.50" y="442.56" font-size="10" textLength="75.59" lengthAdjust="spacingAndGlyphs" transform="rotate(-90 187.50 442.56)"><tspan class="e" font-size="11">ε</tspan><tspan font-size="8.5" dy="2.8">1</tspan><tspan dy="-2.8">: 1 flipped to 0</tspan></text>
<text x="39" y="469.4" font-size="8.3" text-anchor="middle">0</text>
<text x="46.0" y="478.0" font-size="8.3" text-anchor="middle">0</text>
<text x="39" y="445.1" font-size="8.3" text-anchor="middle">0.2</text>
<text x="70.6" y="478.0" font-size="8.3" text-anchor="middle">0.2</text>
<text x="39" y="420.8" font-size="8.3" text-anchor="middle">0.4</text>
<text x="95.2" y="478.0" font-size="8.3" text-anchor="middle">0.4</text>
<text x="39" y="396.5" font-size="8.3" text-anchor="middle">0.6</text>
<text x="119.8" y="478.0" font-size="8.3" text-anchor="middle">0.6</text>
<text x="39" y="372.2" font-size="8.3" text-anchor="middle">0.8</text>
<text x="144.4" y="478.0" font-size="8.3" text-anchor="middle">0.8</text>
<text x="39" y="347.9" font-size="8.3" text-anchor="middle">1</text>
<text x="169.0" y="478.0" font-size="8.3" text-anchor="middle">1</text>
<text x="207.8" y="469.2" font-size="8.3" text-anchor="end">0.30</text>
<text x="207.8" y="445.0" font-size="8.3" text-anchor="end">0.32</text>
<text x="207.8" y="420.8" font-size="8.3" text-anchor="end">0.34</text>
<text x="207.8" y="396.6" font-size="8.3" text-anchor="end">0.36</text>
<text x="207.8" y="372.4" font-size="8.3" text-anchor="end">0.38</text>
<text x="207.8" y="348.2" font-size="8.3" text-anchor="end">0.40</text>
<text x="210.0" y="478.0" font-size="8.3" text-anchor="middle">0.58</text>
<text x="234.6" y="478.0" font-size="8.3" text-anchor="middle">0.60</text>
<text x="259.2" y="478.0" font-size="8.3" text-anchor="middle">0.62</text>
<text x="283.8" y="478.0" font-size="8.3" text-anchor="middle">0.64</text>
<text x="308.4" y="478.0" font-size="8.3" text-anchor="middle">0.66</text>
<text x="333.0" y="478.0" font-size="8.3" text-anchor="middle">0.68</text>
<rect x="209.25" y="343.25" width="124.5" height="124" fill="none" stroke="#000" stroke-width="1.5"/>
<rect x="113.5" y="413.5" width="19" height="19" fill="none" stroke="#1d1c48" stroke-width="1"/>
<text x="68.65" y="646.10" font-size="10" textLength="72.76" lengthAdjust="spacingAndGlyphs"><tspan class="e" font-size="11">ε</tspan><tspan font-size="8.5" dy="2.8">0</tspan><tspan dy="-2.8">: 0 flipped to 1</tspan></text>
<text x="233.55" y="645.80" font-size="10" textLength="72.16" lengthAdjust="spacingAndGlyphs"><tspan class="e" font-size="11">ε</tspan><tspan font-size="8.5" dy="2.8">0</tspan><tspan dy="-2.8">: 0 flipped to 1</tspan></text>
<text x="29.20" y="598.86" font-size="10" textLength="75.49" lengthAdjust="spacingAndGlyphs" transform="rotate(-90 29.20 598.86)"><tspan class="e" font-size="11">ε</tspan><tspan font-size="8.5" dy="2.8">1</tspan><tspan dy="-2.8">: 1 flipped to 0</tspan></text>
<text x="187.50" y="598.56" font-size="10" textLength="75.59" lengthAdjust="spacingAndGlyphs" transform="rotate(-90 187.50 598.56)"><tspan class="e" font-size="11">ε</tspan><tspan font-size="8.5" dy="2.8">1</tspan><tspan dy="-2.8">: 1 flipped to 0</tspan></text>
<text x="39" y="625.4" font-size="8.3" text-anchor="middle">0</text>
<text x="46.0" y="634.0" font-size="8.3" text-anchor="middle">0</text>
<text x="39" y="601.1" font-size="8.3" text-anchor="middle">0.2</text>
<text x="70.6" y="634.0" font-size="8.3" text-anchor="middle">0.2</text>
<text x="39" y="576.8" font-size="8.3" text-anchor="middle">0.4</text>
<text x="95.2" y="634.0" font-size="8.3" text-anchor="middle">0.4</text>
<text x="39" y="552.5" font-size="8.3" text-anchor="middle">0.6</text>
<text x="119.8" y="634.0" font-size="8.3" text-anchor="middle">0.6</text>
<text x="39" y="528.2" font-size="8.3" text-anchor="middle">0.8</text>
<text x="144.4" y="634.0" font-size="8.3" text-anchor="middle">0.8</text>
<text x="39" y="503.9" font-size="8.3" text-anchor="middle">1</text>
<text x="169.0" y="634.0" font-size="8.3" text-anchor="middle">1</text>
<text x="207.8" y="625.2" font-size="8.3" text-anchor="end">0.30</text>
<text x="207.8" y="601.0" font-size="8.3" text-anchor="end">0.32</text>
<text x="207.8" y="576.8" font-size="8.3" text-anchor="end">0.34</text>
<text x="207.8" y="552.6" font-size="8.3" text-anchor="end">0.36</text>
<text x="207.8" y="528.4" font-size="8.3" text-anchor="end">0.38</text>
<text x="207.8" y="504.2" font-size="8.3" text-anchor="end">0.40</text>
<text x="210.0" y="634.0" font-size="8.3" text-anchor="middle">0.58</text>
<text x="234.6" y="634.0" font-size="8.3" text-anchor="middle">0.60</text>
<text x="259.2" y="634.0" font-size="8.3" text-anchor="middle">0.62</text>
<text x="283.8" y="634.0" font-size="8.3" text-anchor="middle">0.64</text>
<text x="308.4" y="634.0" font-size="8.3" text-anchor="middle">0.66</text>
<text x="333.0" y="634.0" font-size="8.3" text-anchor="middle">0.68</text>
<rect x="209.25" y="499.25" width="124.5" height="124" fill="none" stroke="#000" stroke-width="1.5"/>
<rect x="113.5" y="569.5" width="19" height="19" fill="none" stroke="#1d1c48" stroke-width="1"/>
<g fill="#fff"><circle cx="259.7" cy="123.9" r="0.9"/><circle cx="259.8" cy="125.3" r="0.9"/><circle cx="263.5" cy="123.9" r="0.9"/><circle cx="261.0" cy="123.5" r="0.9"/><circle cx="261.2" cy="124.9" r="0.9"/><circle cx="262.0" cy="126.1" r="0.9"/><circle cx="253.9" cy="127.2" r="0.9"/><circle cx="256.4" cy="127.4" r="0.9"/><circle cx="257.1" cy="123.8" r="0.9"/><circle cx="261.7" cy="126.5" r="0.9"/><circle cx="260.5" cy="122.7" r="0.9"/><circle cx="260.7" cy="127.0" r="0.9"/><circle cx="257.9" cy="124.6" r="0.9"/><circle cx="263.1" cy="123.5" r="0.9"/><circle cx="253.9" cy="129.1" r="0.9"/><circle cx="263.4" cy="122.7" r="0.9"/><circle cx="258.0" cy="128.7" r="0.9"/><circle cx="258.1" cy="127.8" r="0.9"/><circle cx="257.6" cy="125.0" r="0.9"/><circle cx="255.0" cy="128.6" r="0.9"/><circle cx="263.2" cy="123.3" r="0.9"/><circle cx="260.6" cy="123.8" r="0.9"/><circle cx="259.8" cy="123.2" r="0.9"/><circle cx="261.0" cy="122.2" r="0.9"/><circle cx="260.0" cy="127.7" r="0.9"/><circle cx="255.4" cy="129.8" r="0.9"/><circle cx="259.2" cy="126.2" r="0.9"/><circle cx="260.5" cy="125.2" r="0.9"/><circle cx="263.3" cy="122.7" r="0.9"/><circle cx="254.0" cy="128.4" r="0.9"/><circle cx="262.6" cy="124.8" r="0.9"/><circle cx="262.3" cy="126.2" r="0.9"/><circle cx="260.2" cy="121.2" r="0.9"/><circle cx="253.6" cy="129.1" r="0.9"/><circle cx="261.7" cy="126.3" r="0.9"/><circle cx="255.7" cy="125.2" r="0.9"/><circle cx="259.3" cy="127.9" r="0.9"/><circle cx="255.9" cy="126.9" r="0.9"/><circle cx="258.9" cy="128.4" r="0.9"/><circle cx="253.5" cy="128.5" r="0.9"/><circle cx="254.0" cy="126.1" r="0.9"/><circle cx="254.6" cy="127.5" r="0.9"/><circle cx="256.4" cy="128.3" r="0.9"/><circle cx="258.0" cy="123.2" r="0.9"/><circle cx="258.7" cy="124.7" r="0.9"/><circle cx="261.9" cy="126.2" r="0.9"/><circle cx="261.9" cy="125.2" r="0.9"/><circle cx="261.6" cy="124.8" r="0.9"/><circle cx="262.0" cy="122.5" r="0.9"/><circle cx="262.0" cy="121.7" r="0.9"/><circle cx="259.8" cy="126.8" r="0.9"/><circle cx="262.8" cy="121.7" r="0.9"/><circle cx="261.3" cy="127.0" r="0.9"/><circle cx="254.9" cy="127.8" r="0.9"/><circle cx="256.3" cy="126.9" r="0.9"/><circle cx="261.5" cy="121.5" r="0.9"/><circle cx="263.9" cy="122.6" r="0.9"/><circle cx="258.1" cy="127.0" r="0.9"/><circle cx="253.8" cy="126.7" r="0.9"/><circle cx="263.4" cy="123.4" r="0.9"/><circle cx="253.0" cy="128.6" r="0.9"/><circle cx="253.1" cy="128.0" r="0.9"/><circle cx="254.3" cy="131.0" r="0.9"/><circle cx="255.9" cy="129.5" r="0.9"/><circle cx="253.0" cy="127.4" r="0.9"/><circle cx="255.9" cy="129.5" r="0.9"/><circle cx="255.3" cy="127.1" r="0.9"/><circle cx="251.5" cy="129.4" r="0.9"/></g>
<g fill="#df3a2a"><circle cx="284.3" cy="102.5" r="0.8"/><circle cx="288.5" cy="102.3" r="0.8"/><circle cx="283.2" cy="105.7" r="0.8"/><circle cx="276.4" cy="108.3" r="0.8"/><circle cx="282.9" cy="108.4" r="0.8"/><circle cx="278.8" cy="112.6" r="0.8"/><circle cx="285.7" cy="103.0" r="0.8"/><circle cx="295.8" cy="93.3" r="0.8"/><circle cx="281.1" cy="107.0" r="0.8"/><circle cx="279.2" cy="107.0" r="0.8"/><circle cx="290.4" cy="101.2" r="0.8"/><circle cx="287.6" cy="100.3" r="0.8"/><circle cx="286.0" cy="102.7" r="0.8"/><circle cx="276.9" cy="109.5" r="0.8"/><circle cx="284.3" cy="103.0" r="0.8"/><circle cx="289.5" cy="96.9" r="0.8"/><circle cx="275.7" cy="115.0" r="0.8"/><circle cx="281.4" cy="106.7" r="0.8"/><circle cx="270.9" cy="118.7" r="0.8"/><circle cx="274.8" cy="113.1" r="0.8"/><circle cx="269.6" cy="116.3" r="0.8"/><circle cx="283.0" cy="104.9" r="0.8"/><circle cx="274.4" cy="112.2" r="0.8"/><circle cx="287.5" cy="101.6" r="0.8"/><circle cx="286.1" cy="101.9" r="0.8"/><circle cx="283.4" cy="104.6" r="0.8"/><circle cx="263.5" cy="120.4" r="0.8"/><circle cx="280.0" cy="106.6" r="0.8"/><circle cx="286.6" cy="105.9" r="0.8"/><circle cx="285.4" cy="101.9" r="0.8"/><circle cx="271.7" cy="113.6" r="0.8"/><circle cx="281.7" cy="107.5" r="0.8"/><circle cx="278.8" cy="112.4" r="0.8"/><circle cx="277.1" cy="107.8" r="0.8"/><circle cx="293.6" cy="95.5" r="0.8"/><circle cx="278.0" cy="108.8" r="0.8"/><circle cx="283.1" cy="101.7" r="0.8"/><circle cx="293.2" cy="97.9" r="0.8"/><circle cx="280.5" cy="107.8" r="0.8"/><circle cx="284.4" cy="104.5" r="0.8"/><circle cx="285.3" cy="101.8" r="0.8"/><circle cx="286.3" cy="103.6" r="0.8"/><circle cx="274.7" cy="112.0" r="0.8"/><circle cx="285.7" cy="102.8" r="0.8"/><circle cx="295.1" cy="92.2" r="0.8"/><circle cx="271.4" cy="113.5" r="0.8"/><circle cx="293.7" cy="98.8" r="0.8"/><circle cx="285.7" cy="102.1" r="0.8"/><circle cx="280.4" cy="108.6" r="0.8"/><circle cx="301.4" cy="88.7" r="0.8"/><circle cx="290.9" cy="97.4" r="0.8"/><circle cx="275.0" cy="111.8" r="0.8"/><circle cx="286.5" cy="103.7" r="0.8"/><circle cx="289.6" cy="98.9" r="0.8"/><circle cx="283.6" cy="104.8" r="0.8"/><circle cx="290.8" cy="98.5" r="0.8"/><circle cx="286.0" cy="105.4" r="0.8"/><circle cx="291.4" cy="99.4" r="0.8"/><circle cx="297.3" cy="93.4" r="0.8"/><circle cx="279.2" cy="107.9" r="0.8"/><circle cx="285.4" cy="100.4" r="0.8"/><circle cx="282.5" cy="108.1" r="0.8"/><circle cx="287.3" cy="103.8" r="0.8"/><circle cx="275.5" cy="112.1" r="0.8"/><circle cx="281.1" cy="108.5" r="0.8"/><circle cx="284.5" cy="105.9" r="0.8"/><circle cx="293.4" cy="97.9" r="0.8"/><circle cx="295.5" cy="96.2" r="0.8"/><circle cx="274.0" cy="112.8" r="0.8"/><circle cx="280.4" cy="111.2" r="0.8"/><circle cx="289.1" cy="97.3" r="0.8"/><circle cx="270.0" cy="119.3" r="0.8"/><circle cx="295.3" cy="95.4" r="0.8"/><circle cx="271.9" cy="117.6" r="0.8"/><circle cx="305.1" cy="89.6" r="0.8"/><circle cx="309.1" cy="85.0" r="0.8"/><circle cx="304.4" cy="83.6" r="0.8"/><circle cx="288.8" cy="96.6" r="0.8"/><circle cx="272.4" cy="117.0" r="0.8"/><circle cx="272.6" cy="112.9" r="0.8"/><circle cx="306.7" cy="83.9" r="0.8"/><circle cx="290.8" cy="100.3" r="0.8"/><circle cx="271.4" cy="112.7" r="0.8"/><circle cx="302.5" cy="83.3" r="0.8"/><circle cx="294.2" cy="96.0" r="0.8"/><circle cx="290.7" cy="98.7" r="0.8"/><circle cx="281.7" cy="106.3" r="0.8"/><circle cx="283.5" cy="105.2" r="0.8"/><circle cx="274.8" cy="111.2" r="0.8"/><circle cx="265.1" cy="118.6" r="0.8"/><circle cx="304.3" cy="85.9" r="0.8"/><circle cx="285.0" cy="101.7" r="0.8"/><circle cx="287.9" cy="97.6" r="0.8"/><circle cx="280.0" cy="109.4" r="0.8"/><circle cx="298.7" cy="91.1" r="0.8"/><circle cx="266.6" cy="121.4" r="0.8"/><circle cx="280.7" cy="105.6" r="0.8"/><circle cx="265.7" cy="120.0" r="0.8"/><circle cx="269.5" cy="115.8" r="0.8"/><circle cx="307.6" cy="81.3" r="0.8"/><circle cx="294.8" cy="95.3" r="0.8"/><circle cx="283.4" cy="103.5" r="0.8"/><circle cx="289.0" cy="100.9" r="0.8"/><circle cx="304.6" cy="86.6" r="0.8"/><circle cx="282.7" cy="110.3" r="0.8"/><circle cx="290.1" cy="96.2" r="0.8"/><circle cx="296.7" cy="95.0" r="0.8"/><circle cx="280.9" cy="107.3" r="0.8"/><circle cx="288.3" cy="100.7" r="0.8"/><circle cx="297.9" cy="88.9" r="0.8"/><circle cx="305.4" cy="84.2" r="0.8"/><circle cx="272.6" cy="116.7" r="0.8"/><circle cx="306.9" cy="83.6" r="0.8"/><circle cx="265.3" cy="121.9" r="0.8"/><circle cx="298.6" cy="90.8" r="0.8"/><circle cx="302.7" cy="90.1" r="0.8"/><circle cx="271.1" cy="116.4" r="0.8"/><circle cx="281.5" cy="102.2" r="0.8"/><circle cx="300.9" cy="87.8" r="0.8"/><circle cx="263.5" cy="119.1" r="0.8"/><circle cx="289.8" cy="92.4" r="0.8"/><circle cx="300.1" cy="88.9" r="0.8"/><circle cx="289.5" cy="102.5" r="0.8"/><circle cx="297.7" cy="92.3" r="0.8"/><circle cx="273.9" cy="111.3" r="0.8"/><circle cx="272.9" cy="112.7" r="0.8"/><circle cx="282.6" cy="108.4" r="0.8"/><circle cx="273.2" cy="114.8" r="0.8"/><circle cx="280.6" cy="107.9" r="0.8"/><circle cx="307.6" cy="83.1" r="0.8"/><circle cx="256.5" cy="125.9" r="0.75"/><circle cx="260.6" cy="124.5" r="0.75"/><circle cx="258.8" cy="124.2" r="0.75"/></g>
<path d="M120.6 115.2L127.8 110.3" stroke="#e4442e" stroke-width="2" stroke-linecap="round" fill="none"/>
<circle cx="121" cy="115.0" r="1.1" fill="#f4c0c4"/>
<g fill="#df3a2a"><circle cx="424.4" cy="68.0" r="0.95"/><circle cx="419.3" cy="73.4" r="0.95"/><circle cx="419.3" cy="75.7" r="0.95"/><circle cx="424.7" cy="72.3" r="0.95"/><circle cx="416.8" cy="80.4" r="0.95"/><circle cx="419.4" cy="73.9" r="0.95"/><circle cx="425.8" cy="65.0" r="0.95"/><circle cx="425.3" cy="67.2" r="0.95"/><circle cx="418.4" cy="79.4" r="0.95"/><circle cx="419.1" cy="76.3" r="0.95"/><circle cx="432.1" cy="62.2" r="0.95"/><circle cx="414.7" cy="81.9" r="0.95"/><circle cx="418.9" cy="77.6" r="0.95"/><circle cx="415.2" cy="82.4" r="0.95"/><circle cx="424.7" cy="72.1" r="0.95"/><circle cx="422.5" cy="71.3" r="0.95"/><circle cx="425.8" cy="65.8" r="0.95"/><circle cx="406.4" cy="86.5" r="0.95"/><circle cx="422.5" cy="72.5" r="0.95"/><circle cx="411.6" cy="81.1" r="0.95"/><circle cx="424.5" cy="69.4" r="0.95"/><circle cx="421.4" cy="75.1" r="0.95"/><circle cx="427.5" cy="61.9" r="0.95"/><circle cx="422.2" cy="70.2" r="0.95"/><circle cx="415.2" cy="78.2" r="0.95"/><circle cx="426.5" cy="65.0" r="0.95"/><circle cx="417.6" cy="81.8" r="0.95"/><circle cx="418.4" cy="74.3" r="0.95"/><circle cx="425.2" cy="66.2" r="0.95"/><circle cx="422.8" cy="69.6" r="0.95"/><circle cx="423.8" cy="70.7" r="0.95"/><circle cx="420.3" cy="72.0" r="0.95"/><circle cx="424.1" cy="70.2" r="0.95"/><circle cx="424.3" cy="67.5" r="0.95"/><circle cx="422.2" cy="71.1" r="0.95"/><circle cx="427.9" cy="68.0" r="0.95"/><circle cx="426.2" cy="64.6" r="0.95"/><circle cx="422.4" cy="73.8" r="0.95"/><circle cx="416.5" cy="78.4" r="0.95"/><circle cx="428.1" cy="63.5" r="0.95"/><circle cx="423.0" cy="74.8" r="0.95"/><circle cx="423.5" cy="68.6" r="0.95"/><circle cx="428.3" cy="68.8" r="0.95"/><circle cx="418.6" cy="80.3" r="0.95"/><circle cx="424.9" cy="71.0" r="0.95"/><circle cx="412.0" cy="80.5" r="0.95"/><circle cx="426.1" cy="69.2" r="0.95"/><circle cx="420.0" cy="76.3" r="0.95"/><circle cx="424.0" cy="73.2" r="0.95"/><circle cx="424.1" cy="68.1" r="0.95"/><circle cx="420.5" cy="79.0" r="0.95"/><circle cx="424.2" cy="74.1" r="0.95"/><circle cx="417.2" cy="75.9" r="0.95"/><circle cx="421.1" cy="72.8" r="0.95"/><circle cx="425.0" cy="65.6" r="0.95"/><circle cx="423.6" cy="74.2" r="0.95"/><circle cx="423.2" cy="75.5" r="0.95"/><circle cx="418.4" cy="81.3" r="0.95"/><circle cx="426.4" cy="68.2" r="0.95"/><circle cx="422.5" cy="74.0" r="0.95"/><circle cx="430.1" cy="62.8" r="0.95"/><circle cx="418.4" cy="77.7" r="0.95"/><circle cx="429.0" cy="68.2" r="0.95"/><circle cx="430.1" cy="62.0" r="0.95"/><circle cx="421.3" cy="72.7" r="0.95"/><circle cx="415.6" cy="80.0" r="0.95"/><circle cx="434.6" cy="35.6" r="0.95"/><circle cx="437.6" cy="39.3" r="0.95"/><circle cx="437.1" cy="42.1" r="0.95"/><circle cx="436.0" cy="38.8" r="0.95"/><circle cx="436.0" cy="51.2" r="0.95"/><circle cx="437.5" cy="41.6" r="0.95"/><circle cx="435.2" cy="41.9" r="0.95"/><circle cx="431.8" cy="51.5" r="0.95"/><circle cx="434.3" cy="41.6" r="0.95"/><circle cx="432.5" cy="50.5" r="0.95"/><circle cx="435.3" cy="40.0" r="0.95"/><circle cx="436.2" cy="38.2" r="0.95"/><circle cx="439.3" cy="33.4" r="0.95"/><circle cx="428.7" cy="60.9" r="0.95"/><circle cx="437.7" cy="45.7" r="0.95"/><circle cx="435.3" cy="49.8" r="0.95"/><circle cx="436.9" cy="47.9" r="0.95"/><circle cx="434.0" cy="48.8" r="0.95"/><circle cx="395.0" cy="90.3" r="0.95"/><circle cx="375.4" cy="98.3" r="0.95"/><circle cx="406.0" cy="85.6" r="0.95"/><circle cx="410.5" cy="82.0" r="0.95"/><circle cx="407.4" cy="88.3" r="0.95"/><circle cx="410.1" cy="85.7" r="0.95"/><circle cx="387.9" cy="93.4" r="0.95"/><circle cx="387.2" cy="93.8" r="0.95"/><circle cx="407.3" cy="89.4" r="0.95"/><circle cx="409.3" cy="83.5" r="0.95"/><circle cx="400.4" cy="91.5" r="0.95"/><circle cx="380.9" cy="94.4" r="0.95"/><circle cx="423.2" cy="74.6" r="0.95"/><circle cx="390.1" cy="92.3" r="0.95"/><circle cx="407.1" cy="86.5" r="0.95"/><circle cx="384.6" cy="93.5" r="0.95"/><circle cx="407.2" cy="86.7" r="0.95"/><circle cx="400.1" cy="92.6" r="0.95"/><circle cx="409.9" cy="82.2" r="0.95"/><circle cx="405.5" cy="86.1" r="0.95"/><circle cx="381.4" cy="97.6" r="0.95"/><circle cx="387.6" cy="95.5" r="0.95"/><circle cx="400.0" cy="89.4" r="0.95"/><circle cx="405.4" cy="88.3" r="0.95"/><circle cx="414.3" cy="80.7" r="0.95"/><circle cx="401.3" cy="92.2" r="0.95"/><circle cx="396.2" cy="91.0" r="0.95"/><circle cx="397.7" cy="93.1" r="0.95"/><circle cx="397.5" cy="92.3" r="0.95"/><circle cx="408.2" cy="87.3" r="0.95"/><circle cx="396.7" cy="91.2" r="0.95"/><circle cx="397.2" cy="93.1" r="0.95"/><circle cx="382.4" cy="97.1" r="0.95"/><circle cx="375.7" cy="96.1" r="0.95"/><circle cx="396.9" cy="89.6" r="0.95"/><circle cx="405.4" cy="90.7" r="0.95"/></g>
<path d="M433.8 32.0A61.8 61.8 0 0 1 372.0 93.8" fill="none" stroke="#fff" stroke-width="1.3"/>
<g fill="#fff"><circle cx="261.7" cy="280.3" r="0.9"/><circle cx="258.6" cy="280.2" r="0.9"/><circle cx="260.0" cy="283.4" r="0.9"/><circle cx="266.5" cy="278.9" r="0.9"/><circle cx="263.2" cy="279.2" r="0.9"/><circle cx="260.5" cy="275.3" r="0.9"/><circle cx="263.6" cy="276.1" r="0.9"/><circle cx="263.4" cy="279.4" r="0.9"/><circle cx="265.3" cy="276.7" r="0.9"/><circle cx="260.1" cy="279.8" r="0.9"/><circle cx="264.2" cy="279.3" r="0.9"/><circle cx="262.0" cy="280.1" r="0.9"/><circle cx="253.8" cy="281.2" r="0.9"/><circle cx="256.0" cy="283.3" r="0.9"/><circle cx="254.6" cy="284.4" r="0.9"/><circle cx="263.6" cy="281.4" r="0.9"/><circle cx="257.0" cy="279.1" r="0.9"/><circle cx="260.0" cy="281.7" r="0.9"/><circle cx="255.3" cy="284.7" r="0.9"/><circle cx="255.2" cy="283.0" r="0.9"/><circle cx="261.6" cy="277.8" r="0.9"/><circle cx="260.4" cy="280.2" r="0.9"/><circle cx="256.7" cy="277.1" r="0.9"/><circle cx="259.3" cy="283.0" r="0.9"/><circle cx="261.1" cy="278.2" r="0.9"/><circle cx="256.7" cy="283.3" r="0.9"/><circle cx="254.7" cy="282.4" r="0.9"/><circle cx="262.6" cy="276.0" r="0.9"/><circle cx="255.0" cy="278.6" r="0.9"/><circle cx="267.0" cy="277.9" r="0.9"/><circle cx="262.2" cy="279.4" r="0.9"/><circle cx="262.8" cy="277.8" r="0.9"/><circle cx="264.8" cy="277.2" r="0.9"/><circle cx="259.5" cy="283.6" r="0.9"/><circle cx="265.2" cy="275.6" r="0.9"/><circle cx="266.4" cy="276.2" r="0.9"/><circle cx="264.2" cy="279.9" r="0.9"/><circle cx="261.6" cy="280.5" r="0.9"/><circle cx="266.6" cy="277.7" r="0.9"/><circle cx="259.2" cy="280.1" r="0.9"/><circle cx="254.0" cy="281.0" r="0.9"/><circle cx="259.4" cy="281.6" r="0.9"/><circle cx="264.7" cy="278.7" r="0.9"/><circle cx="261.0" cy="274.9" r="0.9"/><circle cx="260.5" cy="276.2" r="0.9"/><circle cx="258.2" cy="280.1" r="0.9"/><circle cx="264.1" cy="279.3" r="0.9"/><circle cx="253.8" cy="282.1" r="0.9"/><circle cx="258.5" cy="279.6" r="0.9"/><circle cx="257.1" cy="282.1" r="0.9"/><circle cx="260.5" cy="278.8" r="0.9"/><circle cx="256.7" cy="283.4" r="0.9"/><circle cx="255.4" cy="282.0" r="0.9"/><circle cx="264.8" cy="278.8" r="0.9"/><circle cx="255.9" cy="280.9" r="0.9"/><circle cx="259.1" cy="276.5" r="0.9"/><circle cx="258.9" cy="278.3" r="0.9"/><circle cx="261.5" cy="282.8" r="0.9"/><circle cx="267.1" cy="275.2" r="0.9"/><circle cx="257.7" cy="277.8" r="0.9"/><circle cx="256.1" cy="283.1" r="0.9"/><circle cx="255.0" cy="284.4" r="0.9"/><circle cx="259.7" cy="277.3" r="0.9"/><circle cx="264.5" cy="280.4" r="0.9"/><circle cx="256.7" cy="279.6" r="0.9"/><circle cx="257.2" cy="277.5" r="0.9"/><circle cx="255.7" cy="281.7" r="0.9"/><circle cx="262.9" cy="275.4" r="0.9"/><circle cx="253.4" cy="284.1" r="0.9"/><circle cx="258.4" cy="280.6" r="0.9"/><circle cx="260.2" cy="283.2" r="0.9"/><circle cx="264.1" cy="275.6" r="0.9"/><circle cx="259.2" cy="282.4" r="0.9"/><circle cx="257.5" cy="278.5" r="0.9"/><circle cx="258.6" cy="280.9" r="0.9"/><circle cx="263.1" cy="276.9" r="0.9"/><circle cx="265.0" cy="275.5" r="0.9"/><circle cx="262.4" cy="278.4" r="0.9"/><circle cx="266.0" cy="275.9" r="0.9"/><circle cx="253.2" cy="280.8" r="0.9"/><circle cx="267.4" cy="277.2" r="0.9"/><circle cx="253.1" cy="283.6" r="0.9"/><circle cx="266.8" cy="276.8" r="0.9"/><circle cx="256.8" cy="280.8" r="0.9"/><circle cx="264.6" cy="280.8" r="0.9"/><circle cx="258.4" cy="281.9" r="0.9"/><circle cx="259.4" cy="283.7" r="0.9"/><circle cx="253.4" cy="280.8" r="0.9"/><circle cx="261.2" cy="275.7" r="0.9"/><circle cx="264.4" cy="275.7" r="0.9"/></g>
<g fill="#df3a2a"><circle cx="293.6" cy="250.3" r="0.8"/><circle cx="275.3" cy="269.9" r="0.8"/><circle cx="277.5" cy="263.1" r="0.8"/><circle cx="288.0" cy="255.2" r="0.8"/><circle cx="279.7" cy="261.5" r="0.8"/><circle cx="275.2" cy="269.9" r="0.8"/><circle cx="291.3" cy="247.8" r="0.8"/><circle cx="288.5" cy="253.2" r="0.8"/><circle cx="288.6" cy="253.4" r="0.8"/><circle cx="282.4" cy="261.6" r="0.8"/><circle cx="294.0" cy="250.9" r="0.8"/><circle cx="285.0" cy="260.8" r="0.8"/><circle cx="292.1" cy="247.9" r="0.8"/><circle cx="279.1" cy="264.7" r="0.8"/><circle cx="278.4" cy="263.1" r="0.8"/><circle cx="286.2" cy="255.2" r="0.8"/><circle cx="280.5" cy="263.0" r="0.8"/><circle cx="289.6" cy="251.6" r="0.8"/><circle cx="285.1" cy="253.2" r="0.8"/><circle cx="277.8" cy="263.5" r="0.8"/><circle cx="284.3" cy="255.2" r="0.8"/><circle cx="281.9" cy="259.1" r="0.8"/><circle cx="292.8" cy="251.5" r="0.8"/><circle cx="280.8" cy="262.3" r="0.8"/><circle cx="283.7" cy="262.4" r="0.8"/><circle cx="294.5" cy="248.7" r="0.8"/><circle cx="301.0" cy="239.9" r="0.8"/><circle cx="300.0" cy="242.5" r="0.8"/><circle cx="284.9" cy="255.9" r="0.8"/><circle cx="285.7" cy="254.5" r="0.8"/><circle cx="297.7" cy="247.2" r="0.8"/><circle cx="283.7" cy="257.6" r="0.8"/><circle cx="275.7" cy="262.0" r="0.8"/><circle cx="287.0" cy="257.5" r="0.8"/><circle cx="288.7" cy="254.1" r="0.8"/><circle cx="279.3" cy="263.7" r="0.8"/><circle cx="272.7" cy="269.1" r="0.8"/><circle cx="274.9" cy="268.3" r="0.8"/><circle cx="290.5" cy="252.8" r="0.8"/><circle cx="280.8" cy="264.2" r="0.8"/><circle cx="284.7" cy="258.9" r="0.8"/><circle cx="287.4" cy="256.4" r="0.8"/><circle cx="290.6" cy="253.6" r="0.8"/><circle cx="281.2" cy="258.1" r="0.8"/><circle cx="289.0" cy="253.8" r="0.8"/><circle cx="278.2" cy="263.4" r="0.8"/><circle cx="282.8" cy="260.2" r="0.8"/><circle cx="276.0" cy="263.0" r="0.8"/><circle cx="295.9" cy="251.4" r="0.8"/><circle cx="285.3" cy="257.8" r="0.8"/><circle cx="278.3" cy="261.2" r="0.8"/><circle cx="280.8" cy="257.9" r="0.8"/><circle cx="283.3" cy="258.7" r="0.8"/><circle cx="290.7" cy="252.4" r="0.8"/><circle cx="272.2" cy="267.8" r="0.8"/><circle cx="277.4" cy="264.8" r="0.8"/><circle cx="281.7" cy="259.3" r="0.8"/><circle cx="305.5" cy="240.3" r="0.8"/><circle cx="292.0" cy="249.9" r="0.8"/><circle cx="284.4" cy="258.2" r="0.8"/><circle cx="291.9" cy="253.6" r="0.8"/><circle cx="304.0" cy="246.1" r="0.8"/><circle cx="282.5" cy="257.9" r="0.8"/><circle cx="282.0" cy="259.5" r="0.8"/><circle cx="293.8" cy="247.9" r="0.8"/><circle cx="290.0" cy="254.9" r="0.8"/><circle cx="289.3" cy="251.4" r="0.8"/><circle cx="280.9" cy="260.4" r="0.8"/><circle cx="300.2" cy="243.9" r="0.8"/><circle cx="297.5" cy="244.3" r="0.8"/><circle cx="288.7" cy="252.3" r="0.8"/><circle cx="290.1" cy="252.1" r="0.8"/><circle cx="274.5" cy="262.8" r="0.8"/><circle cx="271.9" cy="266.5" r="0.8"/><circle cx="302.1" cy="241.4" r="0.8"/><circle cx="305.3" cy="239.7" r="0.8"/><circle cx="267.7" cy="273.1" r="0.8"/><circle cx="278.4" cy="259.9" r="0.8"/><circle cx="273.8" cy="266.9" r="0.8"/><circle cx="287.0" cy="257.6" r="0.8"/><circle cx="306.2" cy="239.7" r="0.8"/><circle cx="268.9" cy="272.2" r="0.8"/><circle cx="272.4" cy="267.3" r="0.8"/><circle cx="287.6" cy="256.8" r="0.8"/><circle cx="287.9" cy="253.9" r="0.8"/><circle cx="296.8" cy="244.5" r="0.8"/><circle cx="284.0" cy="257.0" r="0.8"/><circle cx="273.6" cy="271.2" r="0.8"/><circle cx="281.4" cy="261.5" r="0.8"/><circle cx="309.5" cy="238.1" r="0.8"/><circle cx="297.8" cy="245.2" r="0.8"/><circle cx="272.0" cy="271.6" r="0.8"/><circle cx="300.1" cy="242.8" r="0.8"/><circle cx="279.2" cy="262.7" r="0.8"/><circle cx="302.3" cy="247.5" r="0.8"/><circle cx="267.4" cy="275.4" r="0.8"/><circle cx="302.9" cy="240.4" r="0.8"/><circle cx="272.9" cy="268.6" r="0.8"/><circle cx="285.9" cy="257.6" r="0.8"/><circle cx="295.8" cy="250.6" r="0.8"/><circle cx="287.3" cy="254.6" r="0.8"/><circle cx="271.2" cy="266.5" r="0.8"/><circle cx="271.7" cy="269.2" r="0.8"/><circle cx="278.3" cy="263.9" r="0.8"/><circle cx="268.4" cy="273.1" r="0.8"/><circle cx="276.7" cy="268.1" r="0.8"/><circle cx="271.9" cy="270.3" r="0.8"/><circle cx="286.9" cy="257.8" r="0.8"/><circle cx="280.1" cy="259.8" r="0.8"/><circle cx="292.2" cy="253.1" r="0.8"/><circle cx="280.3" cy="266.5" r="0.8"/><circle cx="268.3" cy="274.6" r="0.8"/><circle cx="280.5" cy="262.4" r="0.8"/><circle cx="298.6" cy="245.7" r="0.8"/><circle cx="278.9" cy="267.1" r="0.8"/><circle cx="282.4" cy="258.1" r="0.8"/><circle cx="298.3" cy="245.4" r="0.8"/><circle cx="284.0" cy="259.7" r="0.8"/><circle cx="304.9" cy="241.3" r="0.8"/><circle cx="305.0" cy="238.7" r="0.8"/><circle cx="279.7" cy="263.3" r="0.8"/><circle cx="297.3" cy="246.0" r="0.8"/><circle cx="277.0" cy="265.3" r="0.8"/><circle cx="271.9" cy="269.4" r="0.8"/><circle cx="283.6" cy="256.6" r="0.8"/><circle cx="291.9" cy="251.5" r="0.8"/><circle cx="307.2" cy="239.6" r="0.8"/><circle cx="271.2" cy="268.2" r="0.8"/><circle cx="296.4" cy="246.9" r="0.8"/><circle cx="287.2" cy="257.2" r="0.8"/><circle cx="260.5" cy="278.2" r="0.75"/><circle cx="258.2" cy="280.7" r="0.75"/></g>
<path d="M120.6 271.2L127.8 266.3" stroke="#e4442e" stroke-width="2" stroke-linecap="round" fill="none"/>
<circle cx="121" cy="271.0" r="1.1" fill="#f4c0c4"/>
<g fill="#df3a2a"><circle cx="413.0" cy="237.4" r="0.95"/><circle cx="434.3" cy="214.7" r="0.95"/><circle cx="427.1" cy="222.7" r="0.95"/><circle cx="423.1" cy="228.1" r="0.95"/><circle cx="424.9" cy="229.9" r="0.95"/><circle cx="420.0" cy="229.9" r="0.95"/><circle cx="422.5" cy="233.3" r="0.95"/><circle cx="424.6" cy="229.9" r="0.95"/><circle cx="414.9" cy="235.6" r="0.95"/><circle cx="429.9" cy="215.0" r="0.95"/><circle cx="420.3" cy="228.5" r="0.95"/><circle cx="427.1" cy="226.6" r="0.95"/><circle cx="419.8" cy="229.4" r="0.95"/><circle cx="418.9" cy="229.6" r="0.95"/><circle cx="427.9" cy="225.1" r="0.95"/><circle cx="425.2" cy="225.9" r="0.95"/><circle cx="418.0" cy="234.9" r="0.95"/><circle cx="420.8" cy="232.6" r="0.95"/><circle cx="423.3" cy="224.2" r="0.95"/><circle cx="408.7" cy="239.1" r="0.95"/><circle cx="408.1" cy="241.8" r="0.95"/><circle cx="426.5" cy="219.2" r="0.95"/><circle cx="420.1" cy="231.5" r="0.95"/><circle cx="407.5" cy="243.8" r="0.95"/><circle cx="418.0" cy="234.8" r="0.95"/><circle cx="421.0" cy="231.4" r="0.95"/><circle cx="421.1" cy="227.1" r="0.95"/><circle cx="423.2" cy="225.5" r="0.95"/><circle cx="424.5" cy="229.8" r="0.95"/><circle cx="422.9" cy="225.2" r="0.95"/><circle cx="417.8" cy="234.1" r="0.95"/><circle cx="422.0" cy="226.0" r="0.95"/><circle cx="425.9" cy="228.5" r="0.95"/><circle cx="425.9" cy="221.1" r="0.95"/><circle cx="421.5" cy="229.0" r="0.95"/><circle cx="426.1" cy="224.1" r="0.95"/><circle cx="423.5" cy="229.3" r="0.95"/><circle cx="417.7" cy="237.5" r="0.95"/><circle cx="420.7" cy="232.7" r="0.95"/><circle cx="418.4" cy="232.1" r="0.95"/><circle cx="418.4" cy="230.5" r="0.95"/><circle cx="422.2" cy="230.8" r="0.95"/><circle cx="424.5" cy="230.7" r="0.95"/><circle cx="421.5" cy="226.5" r="0.95"/><circle cx="418.7" cy="235.2" r="0.95"/><circle cx="425.4" cy="221.9" r="0.95"/><circle cx="414.0" cy="237.0" r="0.95"/><circle cx="421.5" cy="229.9" r="0.95"/><circle cx="425.7" cy="225.3" r="0.95"/><circle cx="426.4" cy="228.4" r="0.95"/><circle cx="425.8" cy="226.0" r="0.95"/><circle cx="420.4" cy="230.2" r="0.95"/><circle cx="426.1" cy="225.8" r="0.95"/><circle cx="415.2" cy="236.0" r="0.95"/><circle cx="425.0" cy="224.5" r="0.95"/><circle cx="430.5" cy="214.2" r="0.95"/><circle cx="425.1" cy="225.0" r="0.95"/><circle cx="429.3" cy="215.9" r="0.95"/><circle cx="420.8" cy="228.6" r="0.95"/><circle cx="414.7" cy="234.5" r="0.95"/><circle cx="417.9" cy="233.2" r="0.95"/><circle cx="426.8" cy="220.5" r="0.95"/><circle cx="426.9" cy="226.0" r="0.95"/><circle cx="412.7" cy="241.0" r="0.95"/><circle cx="419.4" cy="231.0" r="0.95"/><circle cx="422.1" cy="230.1" r="0.95"/><circle cx="434.5" cy="212.5" r="0.95"/><circle cx="426.8" cy="221.1" r="0.95"/><circle cx="431.9" cy="213.5" r="0.95"/><circle cx="434.3" cy="204.7" r="0.95"/><circle cx="434.9" cy="206.6" r="0.95"/><circle cx="436.1" cy="209.2" r="0.95"/><circle cx="434.2" cy="198.6" r="0.95"/><circle cx="439.1" cy="195.8" r="0.95"/><circle cx="435.7" cy="204.3" r="0.95"/><circle cx="437.9" cy="196.5" r="0.95"/><circle cx="435.7" cy="203.4" r="0.95"/><circle cx="436.8" cy="205.0" r="0.95"/><circle cx="427.1" cy="220.3" r="0.95"/><circle cx="437.3" cy="197.2" r="0.95"/><circle cx="433.9" cy="202.5" r="0.95"/><circle cx="435.2" cy="202.4" r="0.95"/><circle cx="434.9" cy="207.3" r="0.95"/><circle cx="431.0" cy="211.0" r="0.95"/><circle cx="400.4" cy="244.0" r="0.95"/><circle cx="405.4" cy="245.4" r="0.95"/><circle cx="413.4" cy="240.2" r="0.95"/><circle cx="406.1" cy="244.2" r="0.95"/><circle cx="390.3" cy="249.2" r="0.95"/><circle cx="396.1" cy="249.1" r="0.95"/><circle cx="405.5" cy="241.3" r="0.95"/><circle cx="400.5" cy="247.2" r="0.95"/><circle cx="396.1" cy="248.6" r="0.95"/><circle cx="391.1" cy="250.6" r="0.95"/><circle cx="402.2" cy="245.0" r="0.95"/><circle cx="398.3" cy="245.7" r="0.95"/><circle cx="414.6" cy="238.5" r="0.95"/><circle cx="407.7" cy="241.8" r="0.95"/><circle cx="378.7" cy="253.8" r="0.95"/><circle cx="416.4" cy="234.2" r="0.95"/><circle cx="399.0" cy="244.8" r="0.95"/><circle cx="394.0" cy="249.2" r="0.95"/><circle cx="400.4" cy="247.0" r="0.95"/><circle cx="405.7" cy="246.2" r="0.95"/><circle cx="397.8" cy="249.9" r="0.95"/><circle cx="395.6" cy="246.2" r="0.95"/><circle cx="397.7" cy="249.1" r="0.95"/><circle cx="413.5" cy="236.2" r="0.95"/><circle cx="398.2" cy="248.4" r="0.95"/><circle cx="404.6" cy="243.2" r="0.95"/><circle cx="401.5" cy="244.7" r="0.95"/><circle cx="393.8" cy="248.9" r="0.95"/><circle cx="389.5" cy="250.5" r="0.95"/><circle cx="386.9" cy="252.2" r="0.95"/><circle cx="401.7" cy="246.4" r="0.95"/><circle cx="386.5" cy="252.2" r="0.95"/><circle cx="383.4" cy="251.1" r="0.95"/><circle cx="384.1" cy="252.6" r="0.95"/><circle cx="381.0" cy="251.3" r="0.95"/><circle cx="398.0" cy="248.0" r="0.95"/></g>
<path d="M433.8 188.0A61.8 61.8 0 0 1 372.0 249.8" fill="none" stroke="#fff" stroke-width="1.3"/>
<g fill="#fff"><circle cx="278.0" cy="419.7" r="0.9"/><circle cx="280.1" cy="421.5" r="0.9"/><circle cx="277.9" cy="419.5" r="0.9"/><circle cx="278.2" cy="419.2" r="0.9"/><circle cx="278.3" cy="419.5" r="0.9"/><circle cx="281.4" cy="419.0" r="0.9"/><circle cx="279.4" cy="419.6" r="0.9"/><circle cx="275.9" cy="421.2" r="0.9"/><circle cx="279.6" cy="421.9" r="0.9"/><circle cx="276.5" cy="422.7" r="0.9"/><circle cx="277.6" cy="420.8" r="0.9"/><circle cx="276.0" cy="421.9" r="0.9"/><circle cx="280.2" cy="421.6" r="0.9"/><circle cx="279.2" cy="420.4" r="0.9"/><circle cx="278.4" cy="421.3" r="0.9"/><circle cx="278.7" cy="418.8" r="0.9"/><circle cx="277.0" cy="422.1" r="0.9"/><circle cx="280.6" cy="419.1" r="0.9"/><circle cx="276.7" cy="422.2" r="0.9"/><circle cx="280.4" cy="420.6" r="0.9"/><circle cx="282.1" cy="418.0" r="0.9"/><circle cx="281.5" cy="417.9" r="0.9"/></g>
<g fill="#df3a2a"><circle cx="272.0" cy="421.9" r="0.8"/><circle cx="288.3" cy="414.2" r="0.8"/><circle cx="281.3" cy="415.6" r="0.8"/><circle cx="253.1" cy="435.6" r="0.8"/><circle cx="274.8" cy="428.3" r="0.8"/><circle cx="284.1" cy="418.0" r="0.8"/><circle cx="295.6" cy="402.5" r="0.8"/><circle cx="283.3" cy="415.7" r="0.8"/><circle cx="282.6" cy="415.5" r="0.8"/><circle cx="265.1" cy="431.4" r="0.8"/><circle cx="293.8" cy="403.0" r="0.8"/><circle cx="298.7" cy="400.5" r="0.8"/><circle cx="280.9" cy="418.4" r="0.8"/><circle cx="278.0" cy="420.4" r="0.8"/><circle cx="264.0" cy="434.6" r="0.8"/><circle cx="289.6" cy="410.0" r="0.8"/><circle cx="311.5" cy="395.9" r="0.8"/><circle cx="287.0" cy="410.6" r="0.8"/><circle cx="293.9" cy="406.7" r="0.8"/><circle cx="283.9" cy="410.8" r="0.8"/><circle cx="268.2" cy="425.7" r="0.8"/><circle cx="295.8" cy="407.3" r="0.8"/><circle cx="265.9" cy="428.4" r="0.8"/><circle cx="278.4" cy="420.7" r="0.8"/><circle cx="283.0" cy="415.5" r="0.8"/><circle cx="288.4" cy="408.7" r="0.8"/><circle cx="284.2" cy="413.8" r="0.8"/><circle cx="283.7" cy="413.9" r="0.8"/><circle cx="271.4" cy="424.6" r="0.8"/><circle cx="267.1" cy="431.0" r="0.8"/><circle cx="281.4" cy="418.3" r="0.8"/><circle cx="271.9" cy="424.0" r="0.8"/><circle cx="265.1" cy="429.2" r="0.8"/><circle cx="266.8" cy="430.2" r="0.8"/><circle cx="274.7" cy="422.5" r="0.8"/><circle cx="261.3" cy="436.6" r="0.8"/><circle cx="268.4" cy="433.8" r="0.8"/><circle cx="263.5" cy="434.3" r="0.8"/><circle cx="282.0" cy="416.4" r="0.8"/><circle cx="284.3" cy="414.1" r="0.8"/><circle cx="300.7" cy="398.5" r="0.8"/><circle cx="263.1" cy="430.9" r="0.8"/><circle cx="271.8" cy="423.2" r="0.8"/><circle cx="289.4" cy="409.2" r="0.8"/><circle cx="277.3" cy="419.6" r="0.8"/><circle cx="277.4" cy="422.1" r="0.8"/><circle cx="297.9" cy="401.8" r="0.8"/><circle cx="276.2" cy="421.0" r="0.8"/><circle cx="266.4" cy="427.4" r="0.8"/><circle cx="267.7" cy="432.3" r="0.8"/><circle cx="284.2" cy="415.6" r="0.8"/><circle cx="285.2" cy="417.4" r="0.8"/><circle cx="266.2" cy="431.8" r="0.8"/><circle cx="271.1" cy="429.1" r="0.8"/><circle cx="285.5" cy="412.9" r="0.8"/><circle cx="287.0" cy="413.6" r="0.8"/><circle cx="276.0" cy="427.4" r="0.8"/><circle cx="285.5" cy="410.9" r="0.8"/><circle cx="287.4" cy="414.2" r="0.8"/><circle cx="262.8" cy="436.7" r="0.8"/><circle cx="277.2" cy="421.5" r="0.8"/><circle cx="285.3" cy="415.2" r="0.8"/><circle cx="275.3" cy="425.0" r="0.8"/><circle cx="256.5" cy="437.2" r="0.8"/><circle cx="277.5" cy="421.3" r="0.8"/><circle cx="287.2" cy="410.1" r="0.8"/><circle cx="296.3" cy="402.6" r="0.8"/><circle cx="256.0" cy="437.7" r="0.8"/><circle cx="307.9" cy="393.7" r="0.8"/><circle cx="268.2" cy="428.8" r="0.8"/><circle cx="290.8" cy="409.8" r="0.8"/><circle cx="291.8" cy="404.9" r="0.8"/><circle cx="292.7" cy="411.4" r="0.8"/><circle cx="282.9" cy="418.2" r="0.8"/><circle cx="268.4" cy="429.8" r="0.8"/><circle cx="286.4" cy="411.9" r="0.8"/><circle cx="272.3" cy="424.6" r="0.8"/><circle cx="282.9" cy="416.9" r="0.8"/><circle cx="276.2" cy="422.4" r="0.8"/><circle cx="276.7" cy="417.4" r="0.8"/><circle cx="302.4" cy="400.4" r="0.8"/><circle cx="295.6" cy="411.0" r="0.8"/><circle cx="290.4" cy="405.1" r="0.8"/><circle cx="309.7" cy="394.6" r="0.8"/><circle cx="268.1" cy="429.4" r="0.8"/><circle cx="283.1" cy="415.3" r="0.8"/><circle cx="262.4" cy="436.4" r="0.8"/><circle cx="275.7" cy="419.3" r="0.8"/><circle cx="307.0" cy="395.1" r="0.8"/><circle cx="262.2" cy="436.8" r="0.8"/><circle cx="296.3" cy="403.6" r="0.8"/><circle cx="301.9" cy="398.3" r="0.8"/><circle cx="283.4" cy="415.5" r="0.8"/><circle cx="298.2" cy="401.4" r="0.8"/><circle cx="281.3" cy="420.5" r="0.8"/><circle cx="273.9" cy="421.5" r="0.8"/><circle cx="284.0" cy="416.6" r="0.8"/><circle cx="265.1" cy="428.4" r="0.8"/><circle cx="273.2" cy="425.6" r="0.8"/><circle cx="272.2" cy="424.7" r="0.8"/><circle cx="306.1" cy="389.9" r="0.8"/><circle cx="273.9" cy="423.4" r="0.8"/><circle cx="267.1" cy="427.1" r="0.8"/><circle cx="305.8" cy="394.8" r="0.8"/><circle cx="265.1" cy="434.5" r="0.8"/><circle cx="306.5" cy="392.8" r="0.8"/><circle cx="300.5" cy="398.1" r="0.8"/><circle cx="292.2" cy="410.8" r="0.8"/><circle cx="279.0" cy="419.3" r="0.8"/><circle cx="268.2" cy="431.8" r="0.8"/><circle cx="262.0" cy="434.5" r="0.8"/><circle cx="260.6" cy="433.1" r="0.8"/><circle cx="274.6" cy="422.7" r="0.8"/><circle cx="279.1" cy="421.6" r="0.8"/><circle cx="306.4" cy="397.3" r="0.8"/><circle cx="284.7" cy="414.1" r="0.8"/><circle cx="309.1" cy="393.1" r="0.8"/><circle cx="294.4" cy="405.4" r="0.8"/><circle cx="263.2" cy="431.5" r="0.8"/><circle cx="287.7" cy="415.7" r="0.8"/><circle cx="264.5" cy="431.6" r="0.8"/><circle cx="256.9" cy="435.8" r="0.8"/><circle cx="306.0" cy="394.6" r="0.8"/><circle cx="274.9" cy="424.2" r="0.8"/><circle cx="266.8" cy="431.0" r="0.8"/><circle cx="261.3" cy="434.1" r="0.8"/><circle cx="290.2" cy="407.9" r="0.8"/><circle cx="280.7" cy="417.6" r="0.8"/><circle cx="254.8" cy="436.4" r="0.8"/><circle cx="292.9" cy="404.2" r="0.8"/><circle cx="270.6" cy="428.1" r="0.8"/><circle cx="297.2" cy="402.2" r="0.8"/><circle cx="282.5" cy="416.8" r="0.8"/><circle cx="286.0" cy="415.7" r="0.8"/><circle cx="281.2" cy="418.6" r="0.8"/><circle cx="292.2" cy="407.7" r="0.8"/><circle cx="311.3" cy="395.7" r="0.8"/><circle cx="299.4" cy="402.8" r="0.8"/><circle cx="259.3" cy="435.4" r="0.8"/><circle cx="283.3" cy="417.0" r="0.8"/><circle cx="278.7" cy="420.7" r="0.75"/><circle cx="280.3" cy="419.4" r="0.75"/></g>
<path d="M120.6 427.2L127.8 422.3" stroke="#e4442e" stroke-width="2" stroke-linecap="round" fill="none"/>
<g fill="#df3a2a"><circle cx="419.1" cy="385.4" r="0.95"/><circle cx="425.7" cy="378.4" r="0.95"/><circle cx="427.2" cy="381.4" r="0.95"/><circle cx="422.7" cy="381.3" r="0.95"/><circle cx="410.4" cy="399.3" r="0.95"/><circle cx="425.2" cy="384.3" r="0.95"/><circle cx="422.9" cy="381.4" r="0.95"/><circle cx="424.8" cy="382.4" r="0.95"/><circle cx="422.7" cy="384.8" r="0.95"/><circle cx="418.9" cy="390.2" r="0.95"/><circle cx="419.9" cy="386.1" r="0.95"/><circle cx="409.4" cy="396.2" r="0.95"/><circle cx="419.6" cy="386.1" r="0.95"/><circle cx="412.9" cy="392.9" r="0.95"/><circle cx="419.0" cy="386.3" r="0.95"/><circle cx="420.1" cy="390.9" r="0.95"/><circle cx="430.1" cy="377.4" r="0.95"/><circle cx="421.7" cy="384.4" r="0.95"/><circle cx="422.8" cy="385.9" r="0.95"/><circle cx="422.8" cy="384.1" r="0.95"/><circle cx="429.7" cy="370.8" r="0.95"/><circle cx="416.3" cy="390.2" r="0.95"/><circle cx="425.8" cy="384.9" r="0.95"/><circle cx="423.1" cy="382.4" r="0.95"/><circle cx="423.2" cy="384.3" r="0.95"/><circle cx="424.8" cy="385.9" r="0.95"/><circle cx="418.7" cy="387.4" r="0.95"/><circle cx="429.0" cy="378.4" r="0.95"/><circle cx="424.5" cy="378.8" r="0.95"/><circle cx="421.1" cy="388.3" r="0.95"/><circle cx="422.2" cy="387.7" r="0.95"/><circle cx="425.1" cy="384.5" r="0.95"/><circle cx="426.7" cy="383.7" r="0.95"/><circle cx="426.6" cy="381.0" r="0.95"/><circle cx="424.1" cy="387.1" r="0.95"/><circle cx="414.4" cy="391.5" r="0.95"/><circle cx="426.7" cy="379.0" r="0.95"/><circle cx="412.2" cy="393.0" r="0.95"/><circle cx="415.8" cy="389.2" r="0.95"/><circle cx="423.6" cy="382.6" r="0.95"/><circle cx="418.3" cy="391.1" r="0.95"/><circle cx="429.6" cy="376.9" r="0.95"/><circle cx="427.4" cy="373.3" r="0.95"/><circle cx="429.8" cy="378.7" r="0.95"/><circle cx="422.6" cy="382.3" r="0.95"/><circle cx="422.4" cy="383.0" r="0.95"/><circle cx="425.7" cy="383.6" r="0.95"/><circle cx="422.9" cy="387.8" r="0.95"/><circle cx="431.9" cy="372.0" r="0.95"/><circle cx="418.4" cy="388.0" r="0.95"/><circle cx="427.9" cy="376.4" r="0.95"/><circle cx="426.4" cy="382.6" r="0.95"/><circle cx="423.1" cy="382.6" r="0.95"/><circle cx="428.5" cy="379.2" r="0.95"/><circle cx="429.3" cy="377.6" r="0.95"/><circle cx="426.2" cy="379.1" r="0.95"/><circle cx="423.5" cy="387.1" r="0.95"/><circle cx="418.1" cy="388.7" r="0.95"/><circle cx="419.7" cy="390.0" r="0.95"/><circle cx="427.0" cy="379.7" r="0.95"/><circle cx="424.7" cy="380.2" r="0.95"/><circle cx="426.1" cy="379.9" r="0.95"/><circle cx="419.7" cy="388.7" r="0.95"/><circle cx="430.5" cy="372.2" r="0.95"/><circle cx="413.6" cy="391.3" r="0.95"/><circle cx="426.4" cy="384.4" r="0.95"/><circle cx="438.8" cy="354.0" r="0.95"/><circle cx="432.2" cy="361.7" r="0.95"/><circle cx="434.9" cy="368.4" r="0.95"/><circle cx="434.3" cy="362.3" r="0.95"/><circle cx="430.7" cy="367.0" r="0.95"/><circle cx="436.4" cy="361.2" r="0.95"/><circle cx="431.5" cy="368.8" r="0.95"/><circle cx="432.9" cy="369.5" r="0.95"/><circle cx="436.9" cy="359.3" r="0.95"/><circle cx="431.3" cy="370.5" r="0.95"/><circle cx="432.6" cy="360.4" r="0.95"/><circle cx="436.5" cy="360.8" r="0.95"/><circle cx="437.3" cy="352.7" r="0.95"/><circle cx="437.7" cy="357.9" r="0.95"/><circle cx="432.0" cy="365.2" r="0.95"/><circle cx="438.2" cy="349.6" r="0.95"/><circle cx="435.5" cy="365.3" r="0.95"/><circle cx="433.4" cy="362.1" r="0.95"/><circle cx="393.2" cy="404.7" r="0.95"/><circle cx="416.5" cy="389.9" r="0.95"/><circle cx="396.5" cy="401.7" r="0.95"/><circle cx="389.0" cy="405.1" r="0.95"/><circle cx="403.6" cy="399.6" r="0.95"/><circle cx="394.7" cy="402.8" r="0.95"/><circle cx="419.5" cy="390.2" r="0.95"/><circle cx="389.0" cy="406.1" r="0.95"/><circle cx="403.2" cy="401.2" r="0.95"/><circle cx="386.6" cy="406.0" r="0.95"/><circle cx="413.5" cy="392.8" r="0.95"/><circle cx="389.2" cy="407.9" r="0.95"/><circle cx="398.7" cy="402.9" r="0.95"/><circle cx="387.7" cy="407.4" r="0.95"/><circle cx="405.4" cy="399.0" r="0.95"/><circle cx="402.7" cy="401.4" r="0.95"/><circle cx="373.2" cy="411.1" r="0.95"/><circle cx="404.1" cy="398.9" r="0.95"/><circle cx="403.5" cy="400.7" r="0.95"/><circle cx="399.6" cy="403.8" r="0.95"/><circle cx="405.5" cy="397.2" r="0.95"/><circle cx="383.8" cy="410.5" r="0.95"/><circle cx="377.4" cy="408.5" r="0.95"/><circle cx="402.8" cy="399.5" r="0.95"/><circle cx="413.9" cy="395.3" r="0.95"/><circle cx="383.9" cy="409.5" r="0.95"/><circle cx="384.4" cy="408.3" r="0.95"/><circle cx="388.0" cy="409.3" r="0.95"/><circle cx="383.4" cy="405.9" r="0.95"/><circle cx="405.1" cy="399.8" r="0.95"/><circle cx="398.6" cy="404.6" r="0.95"/><circle cx="411.4" cy="398.5" r="0.95"/><circle cx="410.7" cy="396.9" r="0.95"/><circle cx="385.8" cy="407.9" r="0.95"/><circle cx="402.8" cy="400.3" r="0.95"/><circle cx="373.1" cy="409.2" r="0.95"/></g>
<g fill="#fff"><circle cx="434.9" cy="348.4" r="0.8"/><circle cx="433.6" cy="357.2" r="0.8"/><circle cx="432.3" cy="359.1" r="0.8"/><circle cx="429.8" cy="366.0" r="0.8"/><circle cx="433.7" cy="350.3" r="0.8"/><circle cx="431.8" cy="358.5" r="0.8"/><circle cx="432.8" cy="356.7" r="0.8"/><circle cx="433.5" cy="348.2" r="0.8"/><circle cx="432.6" cy="354.6" r="0.8"/><circle cx="433.2" cy="353.1" r="0.8"/><circle cx="433.3" cy="345.1" r="0.8"/><circle cx="432.3" cy="358.6" r="0.8"/><circle cx="432.9" cy="358.3" r="0.8"/><circle cx="433.9" cy="352.0" r="0.8"/><circle cx="435.2" cy="346.2" r="0.8"/><circle cx="431.6" cy="364.4" r="0.8"/><circle cx="433.1" cy="356.5" r="0.8"/><circle cx="432.6" cy="361.5" r="0.8"/><circle cx="430.8" cy="363.6" r="0.8"/><circle cx="434.3" cy="351.5" r="0.8"/><circle cx="376.6" cy="405.5" r="0.8"/><circle cx="384.6" cy="404.9" r="0.8"/><circle cx="383.5" cy="406.2" r="0.8"/><circle cx="383.5" cy="405.3" r="0.8"/><circle cx="382.8" cy="405.2" r="0.8"/><circle cx="374.4" cy="406.7" r="0.8"/><circle cx="381.8" cy="405.0" r="0.8"/><circle cx="384.1" cy="405.7" r="0.8"/><circle cx="384.7" cy="404.0" r="0.8"/><circle cx="380.2" cy="405.1" r="0.8"/><circle cx="389.2" cy="403.0" r="0.8"/><circle cx="386.4" cy="403.9" r="0.8"/><circle cx="383.4" cy="406.1" r="0.8"/><circle cx="386.8" cy="403.5" r="0.8"/><circle cx="383.6" cy="404.6" r="0.8"/><circle cx="387.4" cy="404.3" r="0.8"/><circle cx="373.1" cy="406.6" r="0.8"/><circle cx="373.1" cy="406.7" r="0.8"/><circle cx="379.4" cy="405.4" r="0.8"/><circle cx="383.1" cy="404.6" r="0.8"/><circle cx="385.2" cy="405.5" r="0.8"/><circle cx="411.6" cy="391.0" r="0.8"/><circle cx="416.4" cy="386.4" r="0.8"/><circle cx="412.0" cy="390.9" r="0.8"/></g>
<g fill="#fff"><circle cx="261.2" cy="592.0" r="0.9"/><circle cx="256.2" cy="594.8" r="0.9"/><circle cx="263.4" cy="593.0" r="0.9"/><circle cx="264.6" cy="589.9" r="0.9"/><circle cx="263.3" cy="588.9" r="0.9"/><circle cx="254.2" cy="593.1" r="0.9"/><circle cx="258.8" cy="593.2" r="0.9"/><circle cx="263.7" cy="592.2" r="0.9"/><circle cx="258.6" cy="590.0" r="0.9"/><circle cx="254.1" cy="595.0" r="0.9"/><circle cx="263.0" cy="593.1" r="0.9"/><circle cx="261.1" cy="591.5" r="0.9"/><circle cx="261.0" cy="591.3" r="0.9"/><circle cx="263.7" cy="588.7" r="0.9"/><circle cx="260.7" cy="589.4" r="0.9"/><circle cx="256.3" cy="594.0" r="0.9"/><circle cx="259.5" cy="592.8" r="0.9"/><circle cx="256.0" cy="592.4" r="0.9"/><circle cx="260.9" cy="592.5" r="0.9"/><circle cx="254.7" cy="593.2" r="0.9"/><circle cx="263.1" cy="591.2" r="0.9"/><circle cx="265.0" cy="589.6" r="0.9"/><circle cx="258.6" cy="591.9" r="0.9"/><circle cx="258.0" cy="595.4" r="0.9"/><circle cx="258.4" cy="592.1" r="0.9"/><circle cx="259.2" cy="589.7" r="0.9"/><circle cx="260.9" cy="589.5" r="0.9"/><circle cx="256.8" cy="592.9" r="0.9"/><circle cx="261.7" cy="588.4" r="0.9"/><circle cx="255.7" cy="592.3" r="0.9"/><circle cx="262.3" cy="590.0" r="0.9"/><circle cx="263.1" cy="588.5" r="0.9"/><circle cx="263.3" cy="590.9" r="0.9"/><circle cx="260.3" cy="595.4" r="0.9"/><circle cx="257.5" cy="594.9" r="0.9"/><circle cx="260.9" cy="595.1" r="0.9"/><circle cx="260.5" cy="592.7" r="0.9"/><circle cx="262.2" cy="588.8" r="0.9"/><circle cx="262.9" cy="590.9" r="0.9"/><circle cx="262.0" cy="593.1" r="0.9"/><circle cx="258.6" cy="590.3" r="0.9"/><circle cx="260.0" cy="592.9" r="0.9"/><circle cx="260.1" cy="593.8" r="0.9"/><circle cx="261.3" cy="591.2" r="0.9"/><circle cx="258.6" cy="590.0" r="0.9"/><circle cx="257.0" cy="594.4" r="0.9"/><circle cx="263.1" cy="592.3" r="0.9"/><circle cx="259.9" cy="594.2" r="0.9"/><circle cx="262.3" cy="590.7" r="0.9"/><circle cx="259.6" cy="589.2" r="0.9"/><circle cx="263.9" cy="591.0" r="0.9"/><circle cx="257.0" cy="591.2" r="0.9"/><circle cx="256.8" cy="596.1" r="0.9"/><circle cx="257.1" cy="590.8" r="0.9"/><circle cx="259.4" cy="594.3" r="0.9"/><circle cx="278.4" cy="575.9" r="0.9"/><circle cx="279.1" cy="575.4" r="0.9"/><circle cx="279.9" cy="576.2" r="0.9"/><circle cx="282.7" cy="573.1" r="0.9"/><circle cx="278.6" cy="573.1" r="0.9"/><circle cx="277.6" cy="574.2" r="0.9"/><circle cx="280.1" cy="572.6" r="0.9"/><circle cx="280.8" cy="575.1" r="0.9"/><circle cx="280.4" cy="576.0" r="0.9"/><circle cx="276.3" cy="575.8" r="0.9"/><circle cx="282.0" cy="572.2" r="0.9"/><circle cx="277.5" cy="576.7" r="0.9"/><circle cx="281.4" cy="575.9" r="0.9"/><circle cx="276.2" cy="575.9" r="0.9"/><circle cx="282.3" cy="572.3" r="0.9"/><circle cx="280.2" cy="573.4" r="0.9"/><circle cx="281.0" cy="572.6" r="0.9"/><circle cx="278.2" cy="576.8" r="0.9"/></g>
<g fill="#df3a2a"><circle cx="299.0" cy="562.8" r="0.8"/><circle cx="279.0" cy="575.8" r="0.8"/><circle cx="273.9" cy="577.5" r="0.8"/><circle cx="280.4" cy="575.8" r="0.8"/><circle cx="281.5" cy="574.7" r="0.8"/><circle cx="275.3" cy="585.3" r="0.8"/><circle cx="285.4" cy="570.5" r="0.8"/><circle cx="275.5" cy="580.8" r="0.8"/><circle cx="276.8" cy="580.9" r="0.8"/><circle cx="294.5" cy="566.0" r="0.8"/><circle cx="280.2" cy="576.2" r="0.8"/><circle cx="286.2" cy="572.8" r="0.8"/><circle cx="291.1" cy="566.9" r="0.8"/><circle cx="291.6" cy="564.6" r="0.8"/><circle cx="283.0" cy="573.7" r="0.8"/><circle cx="286.0" cy="570.8" r="0.8"/><circle cx="278.1" cy="576.3" r="0.8"/><circle cx="300.6" cy="559.3" r="0.8"/><circle cx="289.1" cy="564.6" r="0.8"/><circle cx="278.2" cy="580.8" r="0.8"/><circle cx="286.7" cy="572.2" r="0.8"/><circle cx="291.1" cy="565.6" r="0.8"/><circle cx="288.5" cy="566.6" r="0.8"/><circle cx="299.6" cy="557.0" r="0.8"/><circle cx="296.8" cy="561.3" r="0.8"/><circle cx="282.2" cy="576.0" r="0.8"/><circle cx="285.2" cy="572.1" r="0.8"/><circle cx="276.6" cy="581.9" r="0.8"/><circle cx="286.9" cy="568.6" r="0.8"/><circle cx="287.0" cy="570.2" r="0.8"/><circle cx="305.0" cy="548.9" r="0.8"/><circle cx="287.2" cy="571.2" r="0.8"/><circle cx="269.4" cy="587.1" r="0.8"/><circle cx="279.9" cy="575.7" r="0.8"/><circle cx="287.7" cy="571.6" r="0.8"/><circle cx="276.5" cy="581.4" r="0.8"/><circle cx="275.7" cy="574.4" r="0.8"/><circle cx="282.8" cy="573.9" r="0.8"/><circle cx="286.6" cy="566.8" r="0.8"/><circle cx="285.5" cy="573.6" r="0.8"/><circle cx="281.4" cy="580.7" r="0.8"/><circle cx="291.2" cy="564.5" r="0.8"/><circle cx="281.4" cy="575.3" r="0.8"/><circle cx="281.4" cy="574.6" r="0.8"/><circle cx="275.2" cy="581.9" r="0.8"/><circle cx="280.1" cy="577.8" r="0.8"/><circle cx="292.1" cy="567.7" r="0.8"/><circle cx="271.8" cy="582.2" r="0.8"/><circle cx="286.8" cy="573.4" r="0.8"/><circle cx="290.2" cy="564.6" r="0.8"/><circle cx="282.9" cy="574.3" r="0.8"/><circle cx="288.7" cy="570.6" r="0.8"/><circle cx="277.6" cy="580.4" r="0.8"/><circle cx="294.8" cy="560.1" r="0.8"/><circle cx="293.4" cy="562.0" r="0.8"/><circle cx="286.9" cy="568.8" r="0.8"/><circle cx="271.8" cy="584.3" r="0.8"/><circle cx="278.7" cy="580.3" r="0.8"/><circle cx="291.8" cy="562.2" r="0.8"/><circle cx="299.5" cy="558.7" r="0.8"/><circle cx="288.6" cy="569.6" r="0.8"/><circle cx="296.0" cy="562.3" r="0.8"/><circle cx="281.3" cy="576.2" r="0.8"/><circle cx="285.8" cy="574.3" r="0.8"/><circle cx="286.1" cy="571.7" r="0.8"/><circle cx="289.8" cy="568.9" r="0.8"/><circle cx="274.2" cy="583.3" r="0.8"/><circle cx="294.9" cy="566.1" r="0.8"/><circle cx="293.8" cy="558.9" r="0.8"/><circle cx="278.0" cy="581.3" r="0.8"/><circle cx="274.7" cy="581.0" r="0.8"/><circle cx="288.0" cy="568.1" r="0.8"/><circle cx="284.4" cy="570.1" r="0.8"/><circle cx="268.9" cy="583.0" r="0.8"/><circle cx="270.2" cy="585.1" r="0.8"/><circle cx="293.6" cy="561.8" r="0.8"/><circle cx="298.8" cy="559.4" r="0.8"/><circle cx="280.5" cy="572.7" r="0.8"/><circle cx="284.5" cy="575.3" r="0.8"/><circle cx="275.3" cy="581.6" r="0.8"/><circle cx="288.4" cy="567.8" r="0.8"/><circle cx="290.5" cy="564.8" r="0.8"/><circle cx="305.7" cy="549.9" r="0.8"/><circle cx="266.5" cy="587.0" r="0.8"/><circle cx="304.9" cy="551.2" r="0.8"/><circle cx="309.1" cy="548.4" r="0.8"/><circle cx="280.9" cy="575.3" r="0.8"/><circle cx="296.0" cy="557.9" r="0.8"/><circle cx="301.6" cy="555.1" r="0.8"/><circle cx="293.3" cy="561.6" r="0.8"/><circle cx="278.7" cy="578.1" r="0.8"/><circle cx="295.2" cy="566.0" r="0.8"/><circle cx="304.8" cy="553.9" r="0.8"/><circle cx="270.3" cy="585.1" r="0.8"/><circle cx="285.1" cy="568.0" r="0.8"/><circle cx="265.4" cy="587.4" r="0.8"/><circle cx="300.9" cy="552.6" r="0.8"/><circle cx="300.7" cy="558.1" r="0.8"/><circle cx="267.2" cy="587.2" r="0.8"/><circle cx="298.5" cy="558.7" r="0.8"/><circle cx="295.4" cy="560.2" r="0.8"/><circle cx="271.6" cy="584.8" r="0.8"/><circle cx="290.4" cy="569.6" r="0.8"/><circle cx="295.2" cy="560.3" r="0.8"/><circle cx="280.2" cy="575.5" r="0.8"/><circle cx="287.0" cy="567.9" r="0.8"/><circle cx="309.4" cy="550.0" r="0.8"/><circle cx="292.5" cy="562.1" r="0.8"/><circle cx="286.6" cy="567.6" r="0.8"/><circle cx="267.3" cy="585.6" r="0.8"/><circle cx="269.7" cy="583.3" r="0.8"/><circle cx="303.5" cy="554.8" r="0.8"/><circle cx="301.2" cy="561.8" r="0.8"/><circle cx="301.2" cy="553.8" r="0.8"/><circle cx="292.2" cy="566.8" r="0.8"/><circle cx="291.3" cy="566.1" r="0.8"/><circle cx="287.9" cy="566.4" r="0.8"/><circle cx="297.7" cy="558.8" r="0.8"/><circle cx="280.1" cy="575.9" r="0.8"/><circle cx="286.8" cy="568.3" r="0.8"/><circle cx="288.6" cy="572.5" r="0.8"/><circle cx="292.7" cy="560.0" r="0.8"/><circle cx="275.8" cy="581.4" r="0.8"/><circle cx="267.5" cy="589.3" r="0.8"/><circle cx="269.2" cy="585.6" r="0.8"/><circle cx="274.0" cy="582.6" r="0.8"/><circle cx="304.3" cy="555.0" r="0.8"/><circle cx="297.4" cy="560.1" r="0.8"/><circle cx="299.1" cy="559.0" r="0.8"/><circle cx="286.1" cy="572.1" r="0.8"/><circle cx="259.4" cy="590.8" r="0.75"/><circle cx="257.7" cy="594.1" r="0.75"/><circle cx="259.3" cy="593.8" r="0.75"/></g>
<path d="M120.6 583.2L127.8 578.3" stroke="#e4442e" stroke-width="2" stroke-linecap="round" fill="none"/>
<circle cx="121" cy="583.0" r="1.1" fill="#f4c0c4"/>
<g fill="#df3a2a"><circle cx="412.6" cy="548.6" r="0.95"/><circle cx="428.2" cy="535.9" r="0.95"/><circle cx="422.8" cy="538.0" r="0.95"/><circle cx="426.3" cy="531.7" r="0.95"/><circle cx="411.7" cy="549.6" r="0.95"/><circle cx="414.5" cy="549.0" r="0.95"/><circle cx="417.9" cy="546.4" r="0.95"/><circle cx="429.1" cy="535.1" r="0.95"/><circle cx="422.3" cy="544.0" r="0.95"/><circle cx="425.0" cy="541.9" r="0.95"/><circle cx="422.9" cy="543.6" r="0.95"/><circle cx="422.4" cy="540.3" r="0.95"/><circle cx="417.7" cy="543.5" r="0.95"/><circle cx="425.7" cy="540.8" r="0.95"/><circle cx="416.1" cy="545.6" r="0.95"/><circle cx="420.9" cy="543.5" r="0.95"/><circle cx="422.2" cy="539.1" r="0.95"/><circle cx="423.6" cy="542.1" r="0.95"/><circle cx="422.6" cy="538.0" r="0.95"/><circle cx="416.9" cy="546.1" r="0.95"/><circle cx="421.9" cy="539.1" r="0.95"/><circle cx="421.7" cy="544.8" r="0.95"/><circle cx="424.1" cy="539.6" r="0.95"/><circle cx="429.0" cy="532.4" r="0.95"/><circle cx="416.1" cy="546.2" r="0.95"/><circle cx="425.3" cy="534.1" r="0.95"/><circle cx="419.5" cy="547.1" r="0.95"/><circle cx="420.5" cy="545.2" r="0.95"/><circle cx="430.2" cy="531.5" r="0.95"/><circle cx="428.6" cy="537.3" r="0.95"/><circle cx="424.4" cy="538.6" r="0.95"/><circle cx="424.3" cy="535.6" r="0.95"/><circle cx="427.6" cy="534.4" r="0.95"/><circle cx="416.9" cy="545.2" r="0.95"/><circle cx="422.9" cy="540.2" r="0.95"/><circle cx="419.4" cy="543.8" r="0.95"/><circle cx="424.0" cy="539.2" r="0.95"/><circle cx="421.9" cy="545.1" r="0.95"/><circle cx="426.7" cy="537.9" r="0.95"/><circle cx="421.4" cy="541.2" r="0.95"/><circle cx="419.9" cy="546.3" r="0.95"/><circle cx="423.0" cy="543.3" r="0.95"/><circle cx="425.1" cy="539.7" r="0.95"/><circle cx="426.9" cy="534.9" r="0.95"/><circle cx="422.5" cy="544.2" r="0.95"/><circle cx="419.8" cy="543.7" r="0.95"/><circle cx="421.5" cy="538.9" r="0.95"/><circle cx="424.4" cy="536.2" r="0.95"/><circle cx="419.4" cy="545.4" r="0.95"/><circle cx="406.6" cy="554.0" r="0.95"/><circle cx="422.8" cy="539.5" r="0.95"/><circle cx="419.5" cy="543.3" r="0.95"/><circle cx="418.6" cy="542.9" r="0.95"/><circle cx="430.3" cy="523.6" r="0.95"/><circle cx="419.5" cy="541.1" r="0.95"/><circle cx="425.8" cy="537.8" r="0.95"/><circle cx="413.3" cy="548.7" r="0.95"/><circle cx="422.7" cy="539.9" r="0.95"/><circle cx="427.5" cy="538.2" r="0.95"/><circle cx="423.3" cy="540.7" r="0.95"/><circle cx="422.1" cy="543.8" r="0.95"/><circle cx="425.6" cy="539.0" r="0.95"/><circle cx="424.0" cy="543.1" r="0.95"/><circle cx="426.1" cy="531.9" r="0.95"/><circle cx="422.3" cy="539.9" r="0.95"/><circle cx="419.3" cy="548.1" r="0.95"/><circle cx="429.1" cy="530.1" r="0.95"/><circle cx="435.8" cy="521.9" r="0.95"/><circle cx="432.8" cy="517.3" r="0.95"/><circle cx="430.1" cy="523.8" r="0.95"/><circle cx="434.6" cy="524.2" r="0.95"/><circle cx="430.0" cy="527.8" r="0.95"/><circle cx="432.3" cy="523.8" r="0.95"/><circle cx="437.6" cy="515.4" r="0.95"/><circle cx="433.0" cy="517.3" r="0.95"/><circle cx="437.2" cy="517.8" r="0.95"/><circle cx="433.7" cy="517.8" r="0.95"/><circle cx="433.2" cy="516.9" r="0.95"/><circle cx="434.8" cy="509.4" r="0.95"/><circle cx="436.9" cy="501.1" r="0.95"/><circle cx="435.7" cy="510.4" r="0.95"/><circle cx="439.0" cy="501.2" r="0.95"/><circle cx="432.8" cy="515.7" r="0.95"/><circle cx="432.9" cy="515.2" r="0.95"/><circle cx="411.5" cy="549.2" r="0.95"/><circle cx="389.0" cy="563.1" r="0.95"/><circle cx="387.3" cy="564.6" r="0.95"/><circle cx="395.2" cy="560.4" r="0.95"/><circle cx="378.1" cy="565.1" r="0.95"/><circle cx="375.8" cy="565.5" r="0.95"/><circle cx="407.1" cy="552.0" r="0.95"/><circle cx="384.8" cy="562.2" r="0.95"/><circle cx="392.5" cy="564.6" r="0.95"/><circle cx="391.6" cy="560.8" r="0.95"/><circle cx="386.8" cy="565.8" r="0.95"/><circle cx="403.6" cy="556.5" r="0.95"/><circle cx="401.7" cy="556.0" r="0.95"/><circle cx="403.6" cy="554.2" r="0.95"/><circle cx="403.3" cy="555.2" r="0.95"/><circle cx="396.9" cy="558.8" r="0.95"/><circle cx="410.4" cy="551.8" r="0.95"/><circle cx="406.6" cy="554.4" r="0.95"/><circle cx="390.2" cy="562.4" r="0.95"/><circle cx="397.0" cy="559.6" r="0.95"/><circle cx="391.6" cy="559.6" r="0.95"/><circle cx="413.6" cy="548.1" r="0.95"/><circle cx="405.6" cy="558.6" r="0.95"/><circle cx="401.0" cy="555.6" r="0.95"/><circle cx="396.4" cy="561.4" r="0.95"/><circle cx="402.2" cy="557.2" r="0.95"/><circle cx="386.5" cy="564.3" r="0.95"/><circle cx="396.5" cy="559.0" r="0.95"/><circle cx="395.8" cy="559.5" r="0.95"/><circle cx="396.2" cy="560.2" r="0.95"/><circle cx="389.3" cy="564.9" r="0.95"/><circle cx="400.7" cy="557.1" r="0.95"/><circle cx="383.8" cy="561.8" r="0.95"/><circle cx="390.8" cy="559.9" r="0.95"/><circle cx="395.4" cy="562.8" r="0.95"/><circle cx="395.5" cy="559.4" r="0.95"/></g>
<path d="M433.8 500.0A61.8 61.8 0 0 1 372.0 561.8" fill="none" stroke="#fff" stroke-width="1.3"/>
<g fill="#fff"><circle cx="434.2" cy="507.5" r="0.7"/><circle cx="434.8" cy="503.0" r="0.7"/><circle cx="432.2" cy="521.9" r="0.7"/><circle cx="430.7" cy="522.4" r="0.7"/><circle cx="433.4" cy="516.4" r="0.7"/><circle cx="434.5" cy="507.8" r="0.7"/><circle cx="433.1" cy="516.7" r="0.7"/><circle cx="434.7" cy="514.3" r="0.7"/><circle cx="432.5" cy="520.5" r="0.7"/><circle cx="435.3" cy="502.2" r="0.7"/><circle cx="433.4" cy="514.1" r="0.7"/><circle cx="435.1" cy="512.0" r="0.7"/><circle cx="435.8" cy="503.5" r="0.7"/><circle cx="433.5" cy="515.0" r="0.7"/><circle cx="435.0" cy="513.7" r="0.7"/><circle cx="435.2" cy="509.7" r="0.7"/><circle cx="434.5" cy="516.9" r="0.7"/><circle cx="435.9" cy="501.1" r="0.7"/><circle cx="435.2" cy="512.9" r="0.7"/><circle cx="433.3" cy="516.9" r="0.7"/><circle cx="382.8" cy="563.1" r="0.7"/><circle cx="375.8" cy="564.2" r="0.7"/><circle cx="395.1" cy="558.3" r="0.7"/><circle cx="397.9" cy="557.9" r="0.7"/><circle cx="383.2" cy="562.8" r="0.7"/><circle cx="381.1" cy="562.0" r="0.7"/><circle cx="373.1" cy="564.2" r="0.7"/><circle cx="379.9" cy="563.5" r="0.7"/><circle cx="393.0" cy="561.1" r="0.7"/><circle cx="378.1" cy="562.9" r="0.7"/><circle cx="392.4" cy="560.1" r="0.7"/><circle cx="398.1" cy="559.0" r="0.7"/><circle cx="373.1" cy="563.3" r="0.7"/><circle cx="382.5" cy="563.5" r="0.7"/><circle cx="378.9" cy="562.9" r="0.7"/><circle cx="380.2" cy="562.6" r="0.7"/><circle cx="373.1" cy="563.0" r="0.7"/><circle cx="382.6" cy="562.0" r="0.7"/><circle cx="374.5" cy="563.3" r="0.7"/><circle cx="393.7" cy="558.9" r="0.7"/></g>
<text x="46.9" y="685.2" font-size="8.3" text-anchor="middle">0</text>
<text x="71.0" y="685.2" font-size="8.3" text-anchor="middle">0.2</text>
<text x="95.2" y="685.2" font-size="8.3" text-anchor="middle">0.4</text>
<text x="119.3" y="685.2" font-size="8.3" text-anchor="middle">0.6</text>
<text x="143.5" y="685.2" font-size="8.3" text-anchor="middle">0.8</text>
<text x="167.6" y="685.2" font-size="8.3" text-anchor="middle">1</text>
<text x="210.3" y="685.2" font-size="8.3" text-anchor="middle">0</text>
<text x="234.7" y="685.2" font-size="8.3" text-anchor="middle">0.002</text>
<text x="259.0" y="685.2" font-size="8.3" text-anchor="middle">0.004</text>
<text x="283.4" y="685.2" font-size="8.3" text-anchor="middle">0.006</text>
<text x="307.7" y="685.2" font-size="8.3" text-anchor="middle">0.008</text>
<text x="332.1" y="685.2" font-size="8.3" text-anchor="middle">0.01</text>
<rect x="46.25" y="670.25" width="122.5" height="7.1" fill="none" stroke="#333" stroke-width="0.5"/>
<rect x="210.25" y="670.25" width="122.5" height="7.1" fill="none" stroke="#333" stroke-width="0.5"/>
</svg>
</body></html>
